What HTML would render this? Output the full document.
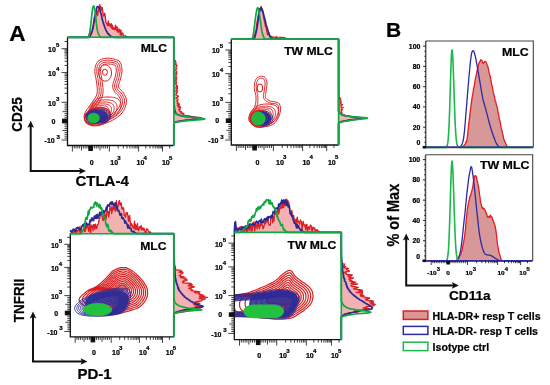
<!DOCTYPE html>
<html><head><meta charset="utf-8"><style>
html,body{margin:0;padding:0;background:#fff;}
svg{display:block;filter:blur(0.3px);}
text{stroke:#000;stroke-width:0.22px;}
</style></head><body>
<svg width="550" height="385" viewBox="0 0 550 385">
<rect width="550" height="385" fill="#fff"/>
<text x="0" y="0" transform="matrix(1.05,0,0,1,9.30,40.80)" font-size="21.5" text-anchor="start" font-family="Liberation Sans" font-weight="bold" >A</text>
<text x="0" y="0" font-size="21" font-family="Liberation Sans" font-weight="bold" transform="translate(386.1,36.8)">B</text>
<path d="M67.50,37.30 V145.50 H173.80" fill="none" stroke="#111" stroke-width="1.3"/>
<path d="M92.48,145.50v3 M88.78,145.50v3 M94.36,145.50v3 M86.96,145.50v3 M96.24,145.50v3 M85.14,145.50v3 M98.12,145.50v3 M83.32,145.50v3 M100.00,145.50v5 M81.50,145.50v5 M101.88,145.50v3 M79.68,145.50v3 M103.76,145.50v3 M77.86,145.50v3 M105.64,145.50v3 M76.04,145.50v3 M107.52,145.50v3 M74.22,145.50v3 M118.19,145.50v3 M123.33,145.50v3 M126.98,145.50v3 M129.81,145.50v3 M132.12,145.50v3 M134.08,145.50v3 M135.77,145.50v3 M137.26,145.50v3 M145.79,145.50v3 M150.00,145.50v3 M152.99,145.50v3 M155.31,145.50v3 M157.20,145.50v3 M158.80,145.50v3 M160.18,145.50v3 M161.41,145.50v3 M169.69,145.50v3 M72.40,145.50v6 M109.40,145.50v6 M138.60,145.50v6 M162.50,145.50v6 M67.50,119.13h-3 M67.50,122.90h-3 M67.50,117.26h-3 M67.50,124.80h-3 M67.50,115.39h-3 M67.50,126.70h-3 M67.50,113.52h-3 M67.50,128.60h-3 M67.50,111.65h-5 M67.50,130.50h-5 M67.50,109.78h-3 M67.50,132.40h-3 M67.50,107.91h-3 M67.50,134.30h-3 M67.50,106.04h-3 M67.50,136.20h-3 M67.50,104.17h-3 M67.50,138.10h-3 M67.50,93.36h-3 M67.50,88.13h-3 M67.50,84.42h-3 M67.50,81.54h-3 M67.50,79.19h-3 M67.50,77.20h-3 M67.50,75.48h-3 M67.50,73.96h-3 M67.50,65.41h-3 M67.50,61.20h-3 M67.50,58.21h-3 M67.50,55.89h-3 M67.50,54.00h-3 M67.50,52.40h-3 M67.50,51.02h-3 M67.50,49.79h-3 M67.50,41.51h-3 M67.50,140.00h-6 M67.50,102.30h-6 M67.50,72.60h-6 M67.50,48.70h-6" fill="none" stroke="#111" stroke-width="0.8"/>
<rect x="88.30" y="145.50" width="4.6" height="5.5" fill="#111"/>
<rect x="62.00" y="118.70" width="5.5" height="4.6" fill="#111"/>
<text x="0" y="0" transform="matrix(1.05,0,0,1,55.90,52.10)" font-size="6.7" text-anchor="end" font-family="Liberation Sans" font-weight="bold">10</text>
<text x="0" y="0" transform="matrix(1.05,0,0,1,55.90,47.10)" font-size="5.8" font-family="Liberation Sans" font-weight="bold">5</text>
<text x="0" y="0" transform="matrix(1.05,0,0,1,55.90,76.00)" font-size="6.7" text-anchor="end" font-family="Liberation Sans" font-weight="bold">10</text>
<text x="0" y="0" transform="matrix(1.05,0,0,1,55.90,71.00)" font-size="5.8" font-family="Liberation Sans" font-weight="bold">4</text>
<text x="0" y="0" transform="matrix(1.05,0,0,1,55.90,105.70)" font-size="6.7" text-anchor="end" font-family="Liberation Sans" font-weight="bold">10</text>
<text x="0" y="0" transform="matrix(1.05,0,0,1,55.90,100.70)" font-size="5.8" font-family="Liberation Sans" font-weight="bold">3</text>
<text x="0" y="0" transform="matrix(1.05,0,0,1,55.30,123.50)" font-size="6.7" text-anchor="end" font-family="Liberation Sans" font-weight="bold">0</text>
<text x="0" y="0" transform="matrix(1.05,0,0,1,54.70,143.20)" font-size="6.7" text-anchor="end" font-family="Liberation Sans" font-weight="bold">-10</text>
<text x="0" y="0" transform="matrix(1.05,0,0,1,56.50,138.80)" font-size="5.8" font-family="Liberation Sans" font-weight="bold">3</text>
<text x="0" y="0" transform="matrix(1.05,0,0,1,91.60,165.30)" font-size="6.7" text-anchor="middle" font-family="Liberation Sans" font-weight="bold">0</text>
<text x="0" y="0" transform="matrix(1.05,0,0,1,110.30,165.30)" font-size="6.7" font-family="Liberation Sans" font-weight="bold">10</text>
<text x="0" y="0" transform="matrix(1.05,0,0,1,117.30,159.90)" font-size="5.8" font-family="Liberation Sans" font-weight="bold">3</text>
<text x="0" y="0" transform="matrix(1.05,0,0,1,136.60,165.30)" font-size="6.7" font-family="Liberation Sans" font-weight="bold">10</text>
<text x="0" y="0" transform="matrix(1.05,0,0,1,143.60,159.90)" font-size="5.8" font-family="Liberation Sans" font-weight="bold">4</text>
<text x="0" y="0" transform="matrix(1.05,0,0,1,161.90,165.30)" font-size="6.7" font-family="Liberation Sans" font-weight="bold">10</text>
<text x="0" y="0" transform="matrix(1.05,0,0,1,168.90,159.90)" font-size="5.8" font-family="Liberation Sans" font-weight="bold">5</text>
<path d="M231.30,39.20 V145.00 H338.60" fill="none" stroke="#111" stroke-width="1.3"/>
<path d="M256.48,145.00v3 M252.78,145.00v3 M258.36,145.00v3 M250.96,145.00v3 M260.24,145.00v3 M249.14,145.00v3 M262.12,145.00v3 M247.32,145.00v3 M264.00,145.00v5 M245.50,145.00v5 M265.88,145.00v3 M243.68,145.00v3 M267.76,145.00v3 M241.86,145.00v3 M269.64,145.00v3 M240.04,145.00v3 M271.52,145.00v3 M238.22,145.00v3 M282.19,145.00v3 M287.33,145.00v3 M290.98,145.00v3 M293.81,145.00v3 M296.12,145.00v3 M298.08,145.00v3 M299.77,145.00v3 M301.26,145.00v3 M309.85,145.00v3 M314.10,145.00v3 M317.11,145.00v3 M319.45,145.00v3 M321.35,145.00v3 M322.97,145.00v3 M324.36,145.00v3 M325.60,145.00v3 M333.95,145.00v3 M236.40,145.00v6 M273.40,145.00v6 M302.60,145.00v6 M326.70,145.00v6 M231.30,118.87h-3 M231.30,122.63h-3 M231.30,117.04h-3 M231.30,124.56h-3 M231.30,115.21h-3 M231.30,126.49h-3 M231.30,113.38h-3 M231.30,128.42h-3 M231.30,111.55h-5 M231.30,130.35h-5 M231.30,109.72h-3 M231.30,132.28h-3 M231.30,107.89h-3 M231.30,134.21h-3 M231.30,106.06h-3 M231.30,136.14h-3 M231.30,104.23h-3 M231.30,138.07h-3 M231.30,93.76h-3 M231.30,88.71h-3 M231.30,85.12h-3 M231.30,82.34h-3 M231.30,80.07h-3 M231.30,78.15h-3 M231.30,76.48h-3 M231.30,75.01h-3 M231.30,66.57h-3 M231.30,62.39h-3 M231.30,59.43h-3 M231.30,57.13h-3 M231.30,55.26h-3 M231.30,53.67h-3 M231.30,52.30h-3 M231.30,51.08h-3 M231.30,42.87h-3 M231.30,140.00h-6 M231.30,102.40h-6 M231.30,73.70h-6 M231.30,50.00h-6" fill="none" stroke="#111" stroke-width="0.8"/>
<rect x="252.30" y="145.00" width="4.6" height="5.5" fill="#111"/>
<rect x="225.80" y="118.40" width="5.5" height="4.6" fill="#111"/>
<text x="0" y="0" transform="matrix(1.05,0,0,1,219.70,53.40)" font-size="6.7" text-anchor="end" font-family="Liberation Sans" font-weight="bold">10</text>
<text x="0" y="0" transform="matrix(1.05,0,0,1,219.70,48.40)" font-size="5.8" font-family="Liberation Sans" font-weight="bold">5</text>
<text x="0" y="0" transform="matrix(1.05,0,0,1,219.70,77.10)" font-size="6.7" text-anchor="end" font-family="Liberation Sans" font-weight="bold">10</text>
<text x="0" y="0" transform="matrix(1.05,0,0,1,219.70,72.10)" font-size="5.8" font-family="Liberation Sans" font-weight="bold">4</text>
<text x="0" y="0" transform="matrix(1.05,0,0,1,219.70,105.80)" font-size="6.7" text-anchor="end" font-family="Liberation Sans" font-weight="bold">10</text>
<text x="0" y="0" transform="matrix(1.05,0,0,1,219.70,100.80)" font-size="5.8" font-family="Liberation Sans" font-weight="bold">3</text>
<text x="0" y="0" transform="matrix(1.05,0,0,1,219.10,123.20)" font-size="6.7" text-anchor="end" font-family="Liberation Sans" font-weight="bold">0</text>
<text x="0" y="0" transform="matrix(1.05,0,0,1,218.50,143.20)" font-size="6.7" text-anchor="end" font-family="Liberation Sans" font-weight="bold">-10</text>
<text x="0" y="0" transform="matrix(1.05,0,0,1,220.30,138.80)" font-size="5.8" font-family="Liberation Sans" font-weight="bold">3</text>
<text x="0" y="0" transform="matrix(1.05,0,0,1,257.40,164.80)" font-size="6.7" text-anchor="middle" font-family="Liberation Sans" font-weight="bold">0</text>
<text x="0" y="0" transform="matrix(1.05,0,0,1,276.10,164.80)" font-size="6.7" font-family="Liberation Sans" font-weight="bold">10</text>
<text x="0" y="0" transform="matrix(1.05,0,0,1,283.10,159.40)" font-size="5.8" font-family="Liberation Sans" font-weight="bold">3</text>
<text x="0" y="0" transform="matrix(1.05,0,0,1,302.40,164.80)" font-size="6.7" font-family="Liberation Sans" font-weight="bold">10</text>
<text x="0" y="0" transform="matrix(1.05,0,0,1,309.40,159.40)" font-size="5.8" font-family="Liberation Sans" font-weight="bold">4</text>
<text x="0" y="0" transform="matrix(1.05,0,0,1,327.90,164.80)" font-size="6.7" font-family="Liberation Sans" font-weight="bold">10</text>
<text x="0" y="0" transform="matrix(1.05,0,0,1,334.90,159.40)" font-size="5.8" font-family="Liberation Sans" font-weight="bold">5</text>
<path d="M70.30,233.70 V336.90 H173.80" fill="none" stroke="#111" stroke-width="1.3"/>
<path d="M94.73,336.90v3 M91.13,336.90v3 M96.56,336.90v3 M89.36,336.90v3 M98.39,336.90v3 M87.59,336.90v3 M100.22,336.90v3 M85.82,336.90v3 M102.05,336.90v5 M84.05,336.90v5 M103.88,336.90v3 M82.28,336.90v3 M105.71,336.90v3 M80.51,336.90v3 M107.54,336.90v3 M78.74,336.90v3 M109.37,336.90v3 M76.97,336.90v3 M119.69,336.90v3 M124.65,336.90v3 M128.18,336.90v3 M130.91,336.90v3 M133.14,336.90v3 M135.03,336.90v3 M136.67,336.90v3 M138.11,336.90v3 M146.35,336.90v3 M150.42,336.90v3 M153.31,336.90v3 M155.55,336.90v3 M157.38,336.90v3 M158.92,336.90v3 M160.26,336.90v3 M161.44,336.90v3 M169.45,336.90v3 M75.20,336.90v6 M111.20,336.90v6 M139.40,336.90v6 M162.50,336.90v6 M70.30,311.26h-3 M70.30,314.85h-3 M70.30,309.52h-3 M70.30,316.70h-3 M70.30,307.78h-3 M70.30,318.55h-3 M70.30,306.04h-3 M70.30,320.40h-3 M70.30,304.30h-5 M70.30,322.25h-5 M70.30,302.56h-3 M70.30,324.10h-3 M70.30,300.82h-3 M70.30,325.95h-3 M70.30,299.08h-3 M70.30,327.80h-3 M70.30,297.34h-3 M70.30,329.65h-3 M70.30,287.11h-3 M70.30,282.15h-3 M70.30,278.62h-3 M70.30,275.89h-3 M70.30,273.66h-3 M70.30,271.77h-3 M70.30,270.13h-3 M70.30,268.69h-3 M70.30,260.45h-3 M70.30,256.38h-3 M70.30,253.49h-3 M70.30,251.25h-3 M70.30,249.42h-3 M70.30,247.88h-3 M70.30,246.54h-3 M70.30,245.36h-3 M70.30,237.35h-3 M70.30,331.50h-6 M70.30,295.60h-6 M70.30,267.40h-6 M70.30,244.30h-6" fill="none" stroke="#111" stroke-width="0.8"/>
<rect x="90.60" y="336.90" width="4.6" height="5.5" fill="#111"/>
<rect x="64.80" y="310.70" width="5.5" height="4.6" fill="#111"/>
<text x="0" y="0" transform="matrix(1.05,0,0,1,58.70,247.70)" font-size="6.7" text-anchor="end" font-family="Liberation Sans" font-weight="bold">10</text>
<text x="0" y="0" transform="matrix(1.05,0,0,1,58.70,242.70)" font-size="5.8" font-family="Liberation Sans" font-weight="bold">5</text>
<text x="0" y="0" transform="matrix(1.05,0,0,1,58.70,270.80)" font-size="6.7" text-anchor="end" font-family="Liberation Sans" font-weight="bold">10</text>
<text x="0" y="0" transform="matrix(1.05,0,0,1,58.70,265.80)" font-size="5.8" font-family="Liberation Sans" font-weight="bold">4</text>
<text x="0" y="0" transform="matrix(1.05,0,0,1,58.70,299.00)" font-size="6.7" text-anchor="end" font-family="Liberation Sans" font-weight="bold">10</text>
<text x="0" y="0" transform="matrix(1.05,0,0,1,58.70,294.00)" font-size="5.8" font-family="Liberation Sans" font-weight="bold">3</text>
<text x="0" y="0" transform="matrix(1.05,0,0,1,58.10,315.50)" font-size="6.7" text-anchor="end" font-family="Liberation Sans" font-weight="bold">0</text>
<text x="0" y="0" transform="matrix(1.05,0,0,1,57.50,334.70)" font-size="6.7" text-anchor="end" font-family="Liberation Sans" font-weight="bold">-10</text>
<text x="0" y="0" transform="matrix(1.05,0,0,1,59.30,330.30)" font-size="5.8" font-family="Liberation Sans" font-weight="bold">3</text>
<text x="0" y="0" transform="matrix(1.05,0,0,1,93.90,354.90)" font-size="6.7" text-anchor="middle" font-family="Liberation Sans" font-weight="bold">0</text>
<text x="0" y="0" transform="matrix(1.05,0,0,1,112.00,354.90)" font-size="6.7" font-family="Liberation Sans" font-weight="bold">10</text>
<text x="0" y="0" transform="matrix(1.05,0,0,1,119.00,349.50)" font-size="5.8" font-family="Liberation Sans" font-weight="bold">3</text>
<text x="0" y="0" transform="matrix(1.05,0,0,1,139.10,354.90)" font-size="6.7" font-family="Liberation Sans" font-weight="bold">10</text>
<text x="0" y="0" transform="matrix(1.05,0,0,1,146.10,349.50)" font-size="5.8" font-family="Liberation Sans" font-weight="bold">4</text>
<text x="0" y="0" transform="matrix(1.05,0,0,1,165.80,354.90)" font-size="6.7" font-family="Liberation Sans" font-weight="bold">10</text>
<text x="0" y="0" transform="matrix(1.05,0,0,1,172.80,349.50)" font-size="5.8" font-family="Liberation Sans" font-weight="bold">5</text>
<path d="M234.30,232.40 V339.60 H341.30" fill="none" stroke="#111" stroke-width="1.3"/>
<path d="M260.05,339.60v3 M256.33,339.60v3 M261.90,339.60v3 M254.46,339.60v3 M263.75,339.60v3 M252.59,339.60v3 M265.60,339.60v3 M250.72,339.60v3 M267.45,339.60v5 M248.85,339.60v5 M269.30,339.60v3 M246.98,339.60v3 M271.15,339.60v3 M245.11,339.60v3 M273.00,339.60v3 M243.24,339.60v3 M274.85,339.60v3 M241.37,339.60v3 M285.61,339.60v3 M290.82,339.60v3 M294.52,339.60v3 M297.39,339.60v3 M299.73,339.60v3 M301.71,339.60v3 M303.43,339.60v3 M304.95,339.60v3 M313.89,339.60v3 M318.32,339.60v3 M321.47,339.60v3 M323.91,339.60v3 M325.91,339.60v3 M327.60,339.60v3 M329.06,339.60v3 M330.35,339.60v3 M339.09,339.60v3 M239.50,339.60v6 M276.70,339.60v6 M306.30,339.60v6 M331.50,339.60v6 M234.30,312.70h-3 M234.30,316.48h-3 M234.30,310.80h-3 M234.30,318.36h-3 M234.30,308.90h-3 M234.30,320.24h-3 M234.30,307.00h-3 M234.30,322.12h-3 M234.30,305.10h-5 M234.30,324.00h-5 M234.30,303.20h-3 M234.30,325.88h-3 M234.30,301.30h-3 M234.30,327.76h-3 M234.30,299.40h-3 M234.30,329.64h-3 M234.30,297.50h-3 M234.30,331.52h-3 M234.30,286.96h-3 M234.30,281.91h-3 M234.30,278.32h-3 M234.30,275.54h-3 M234.30,273.27h-3 M234.30,271.35h-3 M234.30,269.68h-3 M234.30,268.21h-3 M234.30,259.74h-3 M234.30,255.54h-3 M234.30,252.57h-3 M234.30,250.26h-3 M234.30,248.38h-3 M234.30,246.79h-3 M234.30,245.41h-3 M234.30,244.19h-3 M234.30,235.94h-3 M234.30,333.40h-6 M234.30,295.60h-6 M234.30,266.90h-6 M234.30,243.10h-6" fill="none" stroke="#111" stroke-width="0.8"/>
<rect x="255.90" y="339.60" width="4.6" height="5.5" fill="#111"/>
<rect x="228.80" y="312.30" width="5.5" height="4.6" fill="#111"/>
<text x="0" y="0" transform="matrix(1.05,0,0,1,222.70,246.50)" font-size="6.7" text-anchor="end" font-family="Liberation Sans" font-weight="bold">10</text>
<text x="0" y="0" transform="matrix(1.05,0,0,1,222.70,241.50)" font-size="5.8" font-family="Liberation Sans" font-weight="bold">5</text>
<text x="0" y="0" transform="matrix(1.05,0,0,1,222.70,270.30)" font-size="6.7" text-anchor="end" font-family="Liberation Sans" font-weight="bold">10</text>
<text x="0" y="0" transform="matrix(1.05,0,0,1,222.70,265.30)" font-size="5.8" font-family="Liberation Sans" font-weight="bold">4</text>
<text x="0" y="0" transform="matrix(1.05,0,0,1,222.70,299.00)" font-size="6.7" text-anchor="end" font-family="Liberation Sans" font-weight="bold">10</text>
<text x="0" y="0" transform="matrix(1.05,0,0,1,222.70,294.00)" font-size="5.8" font-family="Liberation Sans" font-weight="bold">3</text>
<text x="0" y="0" transform="matrix(1.05,0,0,1,222.10,317.10)" font-size="6.7" text-anchor="end" font-family="Liberation Sans" font-weight="bold">0</text>
<text x="0" y="0" transform="matrix(1.05,0,0,1,221.50,336.60)" font-size="6.7" text-anchor="end" font-family="Liberation Sans" font-weight="bold">-10</text>
<text x="0" y="0" transform="matrix(1.05,0,0,1,223.30,332.20)" font-size="5.8" font-family="Liberation Sans" font-weight="bold">3</text>
<text x="0" y="0" transform="matrix(1.05,0,0,1,259.20,358.20)" font-size="6.7" text-anchor="middle" font-family="Liberation Sans" font-weight="bold">0</text>
<text x="0" y="0" transform="matrix(1.05,0,0,1,279.20,358.20)" font-size="6.7" font-family="Liberation Sans" font-weight="bold">10</text>
<text x="0" y="0" transform="matrix(1.05,0,0,1,286.20,352.80)" font-size="5.8" font-family="Liberation Sans" font-weight="bold">3</text>
<text x="0" y="0" transform="matrix(1.05,0,0,1,305.90,358.20)" font-size="6.7" font-family="Liberation Sans" font-weight="bold">10</text>
<text x="0" y="0" transform="matrix(1.05,0,0,1,312.90,352.80)" font-size="5.8" font-family="Liberation Sans" font-weight="bold">4</text>
<text x="0" y="0" transform="matrix(1.05,0,0,1,330.90,358.20)" font-size="6.7" font-family="Liberation Sans" font-weight="bold">10</text>
<text x="0" y="0" transform="matrix(1.05,0,0,1,337.90,352.80)" font-size="5.8" font-family="Liberation Sans" font-weight="bold">5</text>
<path d="M67.50,37.30 L68.10,37.30 L68.70,37.30 L69.30,37.30 L69.90,37.30 L70.50,37.30 L71.10,37.30 L71.70,37.30 L72.30,37.30 L72.90,37.30 L73.50,37.30 L74.10,37.30 L74.70,37.30 L75.30,37.30 L75.90,37.30 L76.50,37.30 L77.10,37.30 L77.70,37.30 L78.30,37.30 L78.90,37.30 L79.50,37.30 L80.10,37.30 L80.70,37.30 L81.30,37.30 L81.90,37.30 L82.50,37.30 L83.10,37.30 L83.70,37.30 L84.30,37.30 L84.90,37.30 L85.50,37.30 L86.10,37.30 L86.70,37.22 L87.30,36.89 L87.90,36.69 L88.50,36.58 L89.10,34.69 L89.70,33.66 L90.30,33.02 L90.90,31.95 L91.50,32.97 L92.10,31.89 L92.70,29.61 L93.30,29.12 L93.90,21.95 L94.50,21.99 L95.10,16.31 L95.70,17.16 L96.30,11.47 L96.90,10.95 L97.50,15.57 L98.10,12.84 L98.70,6.77 L99.30,8.86 L99.90,4.52 L100.50,8.13 L101.10,10.32 L101.70,7.22 L102.30,7.64 L102.90,12.96 L103.50,15.94 L104.10,15.77 L104.70,13.10 L105.30,16.33 L105.90,22.46 L106.50,22.88 L107.10,24.80 L107.70,25.69 L108.30,20.97 L108.90,25.73 L109.50,23.56 L110.10,24.80 L110.70,27.05 L111.30,23.72 L111.90,28.39 L112.50,25.26 L113.10,29.41 L113.70,27.73 L114.30,29.62 L114.90,29.66 L115.50,25.19 L116.10,26.83 L116.70,30.81 L117.30,27.22 L117.90,32.40 L118.50,31.59 L119.10,28.87 L119.70,30.87 L120.30,35.12 L120.90,29.78 L121.50,34.90 L122.10,34.92 L122.70,32.91 L123.30,35.19 L123.90,35.60 L124.50,36.49 L125.10,36.59 L125.70,35.78 L126.30,36.61 L126.90,36.54 L127.50,37.03 L128.10,37.20 L128.70,37.30 L129.30,37.30 L129.90,37.30 L130.50,37.30 L131.10,37.30 L131.70,37.30 L132.30,37.30 L132.90,37.30 L133.50,37.30 L134.10,37.30 L134.70,37.30 L135.30,37.30 L135.90,37.30 L136.50,37.30 L137.10,37.30 L137.70,37.30 L138.30,37.30 L138.90,37.30 L139.50,37.30 L140.10,37.30 L140.70,37.30 L141.30,37.30 L141.90,37.30 L142.50,37.30 L143.10,37.30 L143.70,37.30 L144.30,37.30 L144.90,37.30 L145.50,37.30 L146.10,37.30 L146.70,37.30 L147.30,37.30 L147.90,37.30 L148.50,37.30 L149.10,37.30 L149.70,37.30 L150.30,37.30 L150.90,37.30 L151.50,37.30 L152.10,37.30 L152.70,37.30 L153.30,37.30 L153.90,37.30 L154.50,37.30 L155.10,37.30 L155.70,37.30 L156.30,37.30 L156.90,37.30 L157.50,37.30 L158.10,37.30 L158.70,37.30 L159.30,37.30 L159.90,37.30 L160.50,37.30 L161.10,37.30 L161.70,37.30 L162.30,37.30 L162.90,37.30 L163.50,37.30 L164.10,37.30 L164.70,37.30 L165.30,37.30 L165.90,37.30 L166.50,37.30 L167.10,37.30 L167.70,37.30 L168.30,37.30 L168.90,37.30 L169.50,37.30 L170.10,37.30 L170.70,37.30 L171.30,37.30 L171.90,37.30 L172.50,37.30 L173.10,37.30 L173.70,37.30 L173.70,37.30 L67.50,37.30 Z" fill="#f3b1b1" stroke="none"/>
<path d="M67.50,37.30 L68.10,37.30 L68.70,37.30 L69.30,37.30 L69.90,37.30 L70.50,37.30 L71.10,37.30 L71.70,37.30 L72.30,37.30 L72.90,37.30 L73.50,37.30 L74.10,37.30 L74.70,37.30 L75.30,37.30 L75.90,37.30 L76.50,37.30 L77.10,37.30 L77.70,37.30 L78.30,37.30 L78.90,37.30 L79.50,37.30 L80.10,37.30 L80.70,37.30 L81.30,37.30 L81.90,37.30 L82.50,37.30 L83.10,37.30 L83.70,37.30 L84.30,37.30 L84.90,37.30 L85.50,37.30 L86.10,37.30 L86.70,37.22 L87.30,36.89 L87.90,36.69 L88.50,36.58 L89.10,34.69 L89.70,33.66 L90.30,33.02 L90.90,31.95 L91.50,32.97 L92.10,31.89 L92.70,29.61 L93.30,29.12 L93.90,21.95 L94.50,21.99 L95.10,16.31 L95.70,17.16 L96.30,11.47 L96.90,10.95 L97.50,15.57 L98.10,12.84 L98.70,6.77 L99.30,8.86 L99.90,4.52 L100.50,8.13 L101.10,10.32 L101.70,7.22 L102.30,7.64 L102.90,12.96 L103.50,15.94 L104.10,15.77 L104.70,13.10 L105.30,16.33 L105.90,22.46 L106.50,22.88 L107.10,24.80 L107.70,25.69 L108.30,20.97 L108.90,25.73 L109.50,23.56 L110.10,24.80 L110.70,27.05 L111.30,23.72 L111.90,28.39 L112.50,25.26 L113.10,29.41 L113.70,27.73 L114.30,29.62 L114.90,29.66 L115.50,25.19 L116.10,26.83 L116.70,30.81 L117.30,27.22 L117.90,32.40 L118.50,31.59 L119.10,28.87 L119.70,30.87 L120.30,35.12 L120.90,29.78 L121.50,34.90 L122.10,34.92 L122.70,32.91 L123.30,35.19 L123.90,35.60 L124.50,36.49 L125.10,36.59 L125.70,35.78 L126.30,36.61 L126.90,36.54 L127.50,37.03 L128.10,37.20 L128.70,37.30 L129.30,37.30 L129.90,37.30 L130.50,37.30 L131.10,37.30 L131.70,37.30 L132.30,37.30 L132.90,37.30 L133.50,37.30 L134.10,37.30 L134.70,37.30 L135.30,37.30 L135.90,37.30 L136.50,37.30 L137.10,37.30 L137.70,37.30 L138.30,37.30 L138.90,37.30 L139.50,37.30 L140.10,37.30 L140.70,37.30 L141.30,37.30 L141.90,37.30 L142.50,37.30 L143.10,37.30 L143.70,37.30 L144.30,37.30 L144.90,37.30 L145.50,37.30 L146.10,37.30 L146.70,37.30 L147.30,37.30 L147.90,37.30 L148.50,37.30 L149.10,37.30 L149.70,37.30 L150.30,37.30 L150.90,37.30 L151.50,37.30 L152.10,37.30 L152.70,37.30 L153.30,37.30 L153.90,37.30 L154.50,37.30 L155.10,37.30 L155.70,37.30 L156.30,37.30 L156.90,37.30 L157.50,37.30 L158.10,37.30 L158.70,37.30 L159.30,37.30 L159.90,37.30 L160.50,37.30 L161.10,37.30 L161.70,37.30 L162.30,37.30 L162.90,37.30 L163.50,37.30 L164.10,37.30 L164.70,37.30 L165.30,37.30 L165.90,37.30 L166.50,37.30 L167.10,37.30 L167.70,37.30 L168.30,37.30 L168.90,37.30 L169.50,37.30 L170.10,37.30 L170.70,37.30 L171.30,37.30 L171.90,37.30 L172.50,37.30 L173.10,37.30 L173.70,37.30" fill="none" stroke="#dc1f22" stroke-width="1.3" stroke-linejoin="round"/>
<path d="M67.50,37.30 L68.10,37.30 L68.70,37.30 L69.30,37.30 L69.90,37.30 L70.50,37.30 L71.10,37.30 L71.70,37.30 L72.30,37.30 L72.90,37.30 L73.50,37.30 L74.10,37.30 L74.70,37.30 L75.30,37.30 L75.90,37.30 L76.50,37.30 L77.10,37.30 L77.70,37.30 L78.30,37.30 L78.90,37.30 L79.50,37.30 L80.10,37.30 L80.70,37.30 L81.30,37.30 L81.90,37.30 L82.50,37.30 L83.10,37.30 L83.70,37.30 L84.30,37.30 L84.90,37.30 L85.50,37.30 L86.10,37.30 L86.70,37.30 L87.30,37.30 L87.90,37.30 L88.50,37.30 L89.10,37.30 L89.70,36.74 L90.30,35.75 L90.90,34.40 L91.50,32.98 L92.10,30.99 L92.70,27.87 L93.30,25.36 L93.90,21.00 L94.50,17.47 L95.10,15.24 L95.70,11.78 L96.30,10.14 L96.90,7.35 L97.50,6.48 L98.10,6.56 L98.70,6.92 L99.30,7.63 L99.90,10.02 L100.50,12.15 L101.10,13.99 L101.70,16.39 L102.30,19.91 L102.90,21.37 L103.50,23.61 L104.10,25.07 L104.70,27.09 L105.30,28.21 L105.90,30.19 L106.50,31.04 L107.10,31.96 L107.70,33.63 L108.30,33.60 L108.90,34.37 L109.50,35.25 L110.10,35.49 L110.70,36.00 L111.30,36.41 L111.90,36.75 L112.50,36.95 L113.10,37.07 L113.70,37.18 L114.30,37.23 L114.90,37.29 L115.50,37.30 L116.10,37.30 L116.70,37.30 L117.30,37.30 L117.90,37.30 L118.50,37.30 L119.10,37.30 L119.70,37.30 L120.30,37.30 L120.90,37.30 L121.50,37.30 L122.10,37.30 L122.70,37.30 L123.30,37.30 L123.90,37.30 L124.50,37.30 L125.10,37.30 L125.70,37.30 L126.30,37.30 L126.90,37.30 L127.50,37.30 L128.10,37.30 L128.70,37.30 L129.30,37.30 L129.90,37.30 L130.50,37.30 L131.10,37.30 L131.70,37.30 L132.30,37.30 L132.90,37.30 L133.50,37.30 L134.10,37.30 L134.70,37.30 L135.30,37.30 L135.90,37.30 L136.50,37.30 L137.10,37.30 L137.70,37.30 L138.30,37.30 L138.90,37.30 L139.50,37.30 L140.10,37.30 L140.70,37.30 L141.30,37.30 L141.90,37.30 L142.50,37.30 L143.10,37.30 L143.70,37.30 L144.30,37.30 L144.90,37.30 L145.50,37.30 L146.10,37.30 L146.70,37.30 L147.30,37.30 L147.90,37.30 L148.50,37.30 L149.10,37.30 L149.70,37.30 L150.30,37.30 L150.90,37.30 L151.50,37.30 L152.10,37.30 L152.70,37.30 L153.30,37.30 L153.90,37.30 L154.50,37.30 L155.10,37.30 L155.70,37.30 L156.30,37.30 L156.90,37.30 L157.50,37.30 L158.10,37.30 L158.70,37.30 L159.30,37.30 L159.90,37.30 L160.50,37.30 L161.10,37.30 L161.70,37.30 L162.30,37.30 L162.90,37.30 L163.50,37.30 L164.10,37.30 L164.70,37.30 L165.30,37.30 L165.90,37.30 L166.50,37.30 L167.10,37.30 L167.70,37.30 L168.30,37.30 L168.90,37.30 L169.50,37.30 L170.10,37.30 L170.70,37.30 L171.30,37.30 L171.90,37.30 L172.50,37.30 L173.10,37.30 L173.70,37.30" fill="none" stroke="#2a2a96" stroke-width="1.7" stroke-linejoin="round"/>
<path d="M67.50,37.30 L68.10,37.30 L68.70,37.30 L69.30,37.30 L69.90,37.30 L70.50,37.30 L71.10,37.30 L71.70,37.30 L72.30,37.30 L72.90,37.30 L73.50,37.30 L74.10,37.30 L74.70,37.30 L75.30,37.30 L75.90,37.30 L76.50,37.30 L77.10,37.30 L77.70,37.30 L78.30,37.30 L78.90,37.30 L79.50,37.30 L80.10,37.30 L80.70,37.30 L81.30,37.30 L81.90,37.30 L82.50,37.30 L83.10,37.30 L83.70,37.30 L84.30,37.30 L84.90,37.30 L85.50,37.30 L86.10,37.30 L86.70,37.30 L87.30,37.30 L87.90,37.30 L88.50,37.08 L89.10,35.15 L89.70,32.82 L90.30,28.32 L90.90,23.94 L91.50,17.96 L92.10,12.13 L92.70,8.23 L93.30,6.27 L93.90,5.93 L94.50,8.16 L95.10,11.69 L95.70,16.49 L96.30,23.20 L96.90,28.00 L97.50,30.91 L98.10,32.97 L98.70,34.41 L99.30,35.53 L99.90,36.51 L100.50,37.19 L101.10,37.28 L101.70,37.30 L102.30,37.30 L102.90,37.30 L103.50,37.30 L104.10,37.30 L104.70,37.30 L105.30,37.30 L105.90,37.30 L106.50,37.30 L107.10,37.30 L107.70,37.30 L108.30,37.30 L108.90,37.30 L109.50,37.30 L110.10,37.30 L110.70,37.30 L111.30,37.30 L111.90,37.30 L112.50,37.30 L113.10,37.30 L113.70,37.30 L114.30,37.30 L114.90,37.30 L115.50,37.30 L116.10,37.30 L116.70,37.30 L117.30,37.30 L117.90,37.30 L118.50,37.30 L119.10,37.30 L119.70,37.30 L120.30,37.30 L120.90,37.30 L121.50,37.30 L122.10,37.30 L122.70,37.30 L123.30,37.30 L123.90,37.30 L124.50,37.30 L125.10,37.30 L125.70,37.30 L126.30,37.30 L126.90,37.30 L127.50,37.30 L128.10,37.30 L128.70,37.30 L129.30,37.30 L129.90,37.30 L130.50,37.30 L131.10,37.30 L131.70,37.30 L132.30,37.30 L132.90,37.30 L133.50,37.30 L134.10,37.30 L134.70,37.30 L135.30,37.30 L135.90,37.30 L136.50,37.30 L137.10,37.30 L137.70,37.30 L138.30,37.30 L138.90,37.30 L139.50,37.30 L140.10,37.30 L140.70,37.30 L141.30,37.30 L141.90,37.30 L142.50,37.30 L143.10,37.30 L143.70,37.30 L144.30,37.30 L144.90,37.30 L145.50,37.30 L146.10,37.30 L146.70,37.30 L147.30,37.30 L147.90,37.30 L148.50,37.30 L149.10,37.30 L149.70,37.30 L150.30,37.30 L150.90,37.30 L151.50,37.30 L152.10,37.30 L152.70,37.30 L153.30,37.30 L153.90,37.30 L154.50,37.30 L155.10,37.30 L155.70,37.30 L156.30,37.30 L156.90,37.30 L157.50,37.30 L158.10,37.30 L158.70,37.30 L159.30,37.30 L159.90,37.30 L160.50,37.30 L161.10,37.30 L161.70,37.30 L162.30,37.30 L162.90,37.30 L163.50,37.30 L164.10,37.30 L164.70,37.30 L165.30,37.30 L165.90,37.30 L166.50,37.30 L167.10,37.30 L167.70,37.30 L168.30,37.30 L168.90,37.30 L169.50,37.30 L170.10,37.30 L170.70,37.30 L171.30,37.30 L171.90,37.30 L172.50,37.30 L173.10,37.30 L173.70,37.30" fill="none" stroke="#12a840" stroke-width="1.7" stroke-linejoin="round"/>
<path d="M173.80,37.30 L173.80,37.90 L173.80,38.50 L173.80,39.10 L173.80,39.70 L173.80,40.30 L173.80,40.90 L173.80,41.50 L173.80,42.10 L173.80,42.70 L173.80,43.30 L173.80,43.90 L173.80,44.50 L173.80,45.10 L173.80,45.70 L173.80,46.30 L173.80,46.90 L173.80,47.50 L173.80,48.10 L173.80,48.70 L173.80,49.30 L173.80,49.90 L173.80,50.50 L173.80,51.10 L173.80,51.70 L173.80,52.30 L173.80,52.90 L173.80,53.50 L173.80,54.10 L173.80,54.70 L173.80,55.30 L173.80,55.90 L173.80,56.50 L173.80,57.10 L173.80,57.70 L173.87,58.30 L174.19,58.90 L174.25,59.50 L174.59,60.10 L175.51,60.70 L175.39,61.30 L175.65,61.90 L176.02,62.50 L175.91,63.10 L175.83,63.70 L175.30,64.30 L176.49,64.90 L176.94,65.50 L177.00,66.10 L176.49,66.70 L175.97,67.30 L176.00,67.90 L176.60,68.50 L176.58,69.10 L175.60,69.70 L175.83,70.30 L176.07,70.90 L176.34,71.50 L176.89,72.10 L176.32,72.70 L175.46,73.30 L176.90,73.90 L176.18,74.50 L176.33,75.10 L175.79,75.70 L176.15,76.30 L176.08,76.90 L176.76,77.50 L175.57,78.10 L176.37,78.70 L175.71,79.30 L176.65,79.90 L175.48,80.50 L175.93,81.10 L176.07,81.70 L176.64,82.30 L175.57,82.90 L176.36,83.50 L175.91,84.10 L176.08,84.70 L176.49,85.30 L177.49,85.90 L176.57,86.50 L177.57,87.10 L175.99,87.70 L177.60,88.30 L176.45,88.90 L176.11,89.50 L177.34,90.10 L177.73,90.70 L175.77,91.30 L176.37,91.90 L177.52,92.50 L176.58,93.10 L176.37,93.70 L175.86,94.30 L175.95,94.90 L177.32,95.50 L178.21,96.10 L178.28,96.70 L177.14,97.30 L176.01,97.90 L176.76,98.50 L177.95,99.10 L178.11,99.70 L177.70,100.30 L176.73,100.90 L177.62,101.50 L177.60,102.10 L178.14,102.70 L177.20,103.30 L179.40,103.90 L179.42,104.50 L177.22,105.10 L177.78,105.70 L179.94,106.30 L178.01,106.90 L180.59,107.50 L179.23,108.10 L180.07,108.70 L180.30,109.30 L178.74,109.90 L179.31,110.50 L179.53,111.10 L181.43,111.70 L181.88,112.30 L180.38,112.90 L183.80,113.50 L182.92,114.10 L183.22,114.70 L185.11,115.30 L189.42,115.90 L191.35,116.50 L194.99,117.10 L200.60,117.70 L200.82,118.30 L196.90,118.90 L191.50,119.50 L187.27,120.10 L183.26,120.70 L179.22,121.30 L176.31,121.90 L174.69,122.50 L174.04,123.10 L173.88,123.70 L173.80,124.30 L173.80,124.90 L173.80,125.50 L173.80,126.10 L173.80,126.70 L173.80,127.30 L173.80,127.90 L173.80,128.50 L173.80,129.10 L173.80,129.70 L173.80,130.30 L173.80,130.90 L173.80,131.50 L173.80,132.10 L173.80,132.70 L173.80,133.30 L173.80,133.90 L173.80,134.50 L173.80,135.10 L173.80,135.70 L173.80,136.30 L173.80,136.90 L173.80,137.50 L173.80,138.10 L173.80,138.70 L173.80,139.30 L173.80,139.90 L173.80,140.50 L173.80,141.10 L173.80,141.70 L173.80,142.30 L173.80,142.90 L173.80,143.50 L173.80,144.10 L173.80,144.70 L173.80,145.30 L173.80,145.30 L173.80,37.30 Z" fill="#f3b1b1" stroke="none"/>
<path d="M173.80,37.30 L173.80,37.90 L173.80,38.50 L173.80,39.10 L173.80,39.70 L173.80,40.30 L173.80,40.90 L173.80,41.50 L173.80,42.10 L173.80,42.70 L173.80,43.30 L173.80,43.90 L173.80,44.50 L173.80,45.10 L173.80,45.70 L173.80,46.30 L173.80,46.90 L173.80,47.50 L173.80,48.10 L173.80,48.70 L173.80,49.30 L173.80,49.90 L173.80,50.50 L173.80,51.10 L173.80,51.70 L173.80,52.30 L173.80,52.90 L173.80,53.50 L173.80,54.10 L173.80,54.70 L173.80,55.30 L173.80,55.90 L173.80,56.50 L173.80,57.10 L173.80,57.70 L173.87,58.30 L174.19,58.90 L174.25,59.50 L174.59,60.10 L175.51,60.70 L175.39,61.30 L175.65,61.90 L176.02,62.50 L175.91,63.10 L175.83,63.70 L175.30,64.30 L176.49,64.90 L176.94,65.50 L177.00,66.10 L176.49,66.70 L175.97,67.30 L176.00,67.90 L176.60,68.50 L176.58,69.10 L175.60,69.70 L175.83,70.30 L176.07,70.90 L176.34,71.50 L176.89,72.10 L176.32,72.70 L175.46,73.30 L176.90,73.90 L176.18,74.50 L176.33,75.10 L175.79,75.70 L176.15,76.30 L176.08,76.90 L176.76,77.50 L175.57,78.10 L176.37,78.70 L175.71,79.30 L176.65,79.90 L175.48,80.50 L175.93,81.10 L176.07,81.70 L176.64,82.30 L175.57,82.90 L176.36,83.50 L175.91,84.10 L176.08,84.70 L176.49,85.30 L177.49,85.90 L176.57,86.50 L177.57,87.10 L175.99,87.70 L177.60,88.30 L176.45,88.90 L176.11,89.50 L177.34,90.10 L177.73,90.70 L175.77,91.30 L176.37,91.90 L177.52,92.50 L176.58,93.10 L176.37,93.70 L175.86,94.30 L175.95,94.90 L177.32,95.50 L178.21,96.10 L178.28,96.70 L177.14,97.30 L176.01,97.90 L176.76,98.50 L177.95,99.10 L178.11,99.70 L177.70,100.30 L176.73,100.90 L177.62,101.50 L177.60,102.10 L178.14,102.70 L177.20,103.30 L179.40,103.90 L179.42,104.50 L177.22,105.10 L177.78,105.70 L179.94,106.30 L178.01,106.90 L180.59,107.50 L179.23,108.10 L180.07,108.70 L180.30,109.30 L178.74,109.90 L179.31,110.50 L179.53,111.10 L181.43,111.70 L181.88,112.30 L180.38,112.90 L183.80,113.50 L182.92,114.10 L183.22,114.70 L185.11,115.30 L189.42,115.90 L191.35,116.50 L194.99,117.10 L200.60,117.70 L200.82,118.30 L196.90,118.90 L191.50,119.50 L187.27,120.10 L183.26,120.70 L179.22,121.30 L176.31,121.90 L174.69,122.50 L174.04,123.10 L173.88,123.70 L173.80,124.30 L173.80,124.90 L173.80,125.50 L173.80,126.10 L173.80,126.70 L173.80,127.30 L173.80,127.90 L173.80,128.50 L173.80,129.10 L173.80,129.70 L173.80,130.30 L173.80,130.90 L173.80,131.50 L173.80,132.10 L173.80,132.70 L173.80,133.30 L173.80,133.90 L173.80,134.50 L173.80,135.10 L173.80,135.70 L173.80,136.30 L173.80,136.90 L173.80,137.50 L173.80,138.10 L173.80,138.70 L173.80,139.30 L173.80,139.90 L173.80,140.50 L173.80,141.10 L173.80,141.70 L173.80,142.30 L173.80,142.90 L173.80,143.50 L173.80,144.10 L173.80,144.70 L173.80,145.30" fill="none" stroke="#dc1f22" stroke-width="1.3" stroke-linejoin="round"/>
<path d="M173.80,37.30 L173.80,37.90 L173.80,38.50 L173.80,39.10 L173.80,39.70 L173.80,40.30 L173.80,40.90 L173.80,41.50 L173.80,42.10 L173.80,42.70 L173.80,43.30 L173.80,43.90 L173.80,44.50 L173.80,45.10 L173.80,45.70 L173.80,46.30 L173.80,46.90 L173.80,47.50 L173.80,48.10 L173.80,48.70 L173.80,49.30 L173.80,49.90 L173.80,50.50 L173.80,51.10 L173.80,51.70 L173.80,52.30 L173.80,52.90 L173.80,53.50 L173.80,54.10 L173.80,54.70 L173.80,55.30 L173.80,55.90 L173.80,56.50 L173.80,57.10 L173.80,57.70 L173.80,58.30 L173.80,58.90 L173.80,59.50 L173.80,60.10 L173.80,60.70 L173.80,61.30 L173.80,61.90 L173.80,62.50 L173.80,63.10 L173.80,63.70 L173.80,64.30 L173.80,64.90 L173.80,65.50 L173.80,66.10 L173.80,66.70 L173.80,67.30 L173.80,67.90 L173.80,68.50 L173.80,69.10 L173.80,69.70 L173.80,70.30 L173.80,70.90 L173.80,71.50 L173.80,72.10 L173.80,72.70 L173.80,73.30 L173.80,73.90 L173.80,74.50 L173.80,75.10 L173.80,75.70 L173.80,76.30 L173.80,76.90 L173.80,77.50 L173.80,78.10 L173.80,78.70 L173.80,79.30 L173.80,79.90 L173.80,80.50 L173.80,81.10 L173.80,81.70 L173.80,82.30 L173.80,82.90 L173.80,83.50 L173.80,84.10 L173.80,84.70 L173.80,85.30 L173.80,85.90 L173.80,86.50 L173.80,87.10 L173.80,87.70 L173.80,88.30 L173.80,88.90 L173.80,89.50 L173.80,90.10 L173.80,90.70 L173.80,91.30 L173.80,91.90 L173.80,92.50 L173.80,93.10 L173.80,93.70 L173.80,94.30 L173.80,94.90 L173.80,95.50 L173.80,96.10 L173.80,96.70 L173.80,97.30 L173.80,97.90 L173.80,98.50 L173.80,99.10 L173.80,99.70 L173.82,100.30 L173.85,100.90 L173.89,101.50 L173.93,102.10 L173.97,102.70 L174.01,103.30 L174.08,103.90 L174.13,104.50 L174.18,105.10 L174.25,105.70 L174.30,106.30 L174.41,106.90 L174.44,107.50 L174.51,108.10 L174.63,108.70 L174.70,109.30 L174.76,109.90 L174.91,110.50 L175.13,111.10 L175.30,111.70 L175.56,112.30 L175.90,112.90 L176.24,113.50 L176.81,114.10 L177.86,114.70 L179.46,115.30 L181.51,115.90 L183.94,116.50 L190.39,117.10 L197.48,117.70 L201.62,118.30 L199.55,118.90 L193.37,119.50 L187.95,120.10 L183.33,120.70 L178.65,121.30 L176.25,121.90 L174.55,122.50 L173.80,123.10 L173.80,123.70 L173.80,124.30 L173.80,124.90 L173.80,125.50 L173.80,126.10 L173.80,126.70 L173.80,127.30 L173.80,127.90 L173.80,128.50 L173.80,129.10 L173.80,129.70 L173.80,130.30 L173.80,130.90 L173.80,131.50 L173.80,132.10 L173.80,132.70 L173.80,133.30 L173.80,133.90 L173.80,134.50 L173.80,135.10 L173.80,135.70 L173.80,136.30 L173.80,136.90 L173.80,137.50 L173.80,138.10 L173.80,138.70 L173.80,139.30 L173.80,139.90 L173.80,140.50 L173.80,141.10 L173.80,141.70 L173.80,142.30 L173.80,142.90 L173.80,143.50 L173.80,144.10 L173.80,144.70 L173.80,145.30" fill="none" stroke="#2a2a96" stroke-width="1.7" stroke-linejoin="round"/>
<path d="M173.80,37.30 L173.80,37.90 L173.80,38.50 L173.80,39.10 L173.80,39.70 L173.80,40.30 L173.80,40.90 L173.80,41.50 L173.80,42.10 L173.80,42.70 L173.80,43.30 L173.80,43.90 L173.80,44.50 L173.80,45.10 L173.80,45.70 L173.80,46.30 L173.80,46.90 L173.80,47.50 L173.80,48.10 L173.80,48.70 L173.80,49.30 L173.80,49.90 L173.80,50.50 L173.80,51.10 L173.80,51.70 L173.80,52.30 L173.80,52.90 L173.80,53.50 L173.80,54.10 L173.80,54.70 L173.80,55.30 L173.80,55.90 L173.80,56.50 L173.80,57.10 L173.80,57.70 L173.80,58.30 L173.80,58.90 L173.80,59.50 L173.80,60.10 L173.80,60.70 L173.80,61.30 L173.80,61.90 L173.80,62.50 L173.80,63.10 L173.80,63.70 L173.80,64.30 L173.80,64.90 L173.80,65.50 L173.80,66.10 L173.80,66.70 L173.80,67.30 L173.80,67.90 L173.80,68.50 L173.80,69.10 L173.80,69.70 L173.80,70.30 L173.80,70.90 L173.80,71.50 L173.80,72.10 L173.80,72.70 L173.80,73.30 L173.80,73.90 L173.80,74.50 L173.80,75.10 L173.80,75.70 L173.80,76.30 L173.80,76.90 L173.80,77.50 L173.80,78.10 L173.80,78.70 L173.80,79.30 L173.80,79.90 L173.80,80.50 L173.80,81.10 L173.80,81.70 L173.80,82.30 L173.80,82.90 L173.80,83.50 L173.80,84.10 L173.80,84.70 L173.80,85.30 L173.80,85.90 L173.80,86.50 L173.80,87.10 L173.80,87.70 L173.80,88.30 L173.80,88.90 L173.80,89.50 L173.80,90.10 L173.80,90.70 L173.80,91.30 L173.80,91.90 L173.80,92.50 L173.80,93.10 L173.80,93.70 L173.80,94.30 L173.80,94.90 L173.80,95.50 L173.80,96.10 L173.80,96.70 L173.80,97.30 L173.80,97.90 L173.80,98.50 L173.80,99.10 L173.80,99.70 L173.80,100.30 L173.80,100.90 L173.80,101.50 L173.80,102.10 L173.80,102.70 L173.80,103.30 L173.80,103.90 L173.80,104.50 L173.80,105.10 L173.80,105.70 L173.80,106.30 L173.80,106.90 L173.80,107.50 L173.81,108.10 L173.83,108.70 L173.85,109.30 L173.89,109.90 L173.94,110.50 L174.04,111.10 L174.19,111.70 L174.48,112.30 L174.69,112.90 L175.11,113.50 L176.03,114.10 L177.88,114.70 L180.34,115.30 L183.19,115.90 L186.15,116.50 L189.58,117.10 L195.11,117.70 L200.97,118.30 L204.74,118.90 L203.05,119.50 L194.48,120.10 L186.80,120.70 L181.61,121.30 L177.27,121.90 L174.85,122.50 L173.98,123.10 L173.89,123.70 L173.80,124.30 L173.80,124.90 L173.80,125.50 L173.80,126.10 L173.80,126.70 L173.80,127.30 L173.80,127.90 L173.80,128.50 L173.80,129.10 L173.80,129.70 L173.80,130.30 L173.80,130.90 L173.80,131.50 L173.80,132.10 L173.80,132.70 L173.80,133.30 L173.80,133.90 L173.80,134.50 L173.80,135.10 L173.80,135.70 L173.80,136.30 L173.80,136.90 L173.80,137.50 L173.80,138.10 L173.80,138.70 L173.80,139.30 L173.80,139.90 L173.80,140.50 L173.80,141.10 L173.80,141.70 L173.80,142.30 L173.80,142.90 L173.80,143.50 L173.80,144.10 L173.80,144.70 L173.80,145.30" fill="none" stroke="#12a840" stroke-width="1.7" stroke-linejoin="round"/>
<path d="M231.30,39.20 L231.90,39.20 L232.50,39.20 L233.10,39.20 L233.70,39.20 L234.30,39.20 L234.90,39.20 L235.50,39.20 L236.10,39.20 L236.70,39.20 L237.30,39.20 L237.90,39.20 L238.50,39.20 L239.10,39.20 L239.70,39.20 L240.30,39.20 L240.90,39.20 L241.50,39.20 L242.10,39.20 L242.70,39.20 L243.30,39.20 L243.90,39.20 L244.50,39.20 L245.10,39.20 L245.70,39.20 L246.30,39.20 L246.90,39.20 L247.50,39.20 L248.10,39.20 L248.70,39.20 L249.30,39.20 L249.90,39.20 L250.50,39.20 L251.10,39.20 L251.70,39.20 L252.30,39.20 L252.90,39.20 L253.50,38.72 L254.10,36.00 L254.70,36.16 L255.30,31.57 L255.90,32.07 L256.50,25.08 L257.10,21.49 L257.70,18.07 L258.30,14.37 L258.90,12.12 L259.50,8.51 L260.10,9.64 L260.70,7.34 L261.30,6.37 L261.90,11.22 L262.50,9.93 L263.10,12.62 L263.70,17.56 L264.30,20.77 L264.90,23.45 L265.50,26.70 L266.10,26.00 L266.70,30.61 L267.30,33.86 L267.90,34.84 L268.50,32.89 L269.10,32.92 L269.70,35.85 L270.30,36.47 L270.90,36.69 L271.50,36.49 L272.10,37.71 L272.70,36.95 L273.30,37.05 L273.90,36.89 L274.50,37.81 L275.10,37.87 L275.70,37.57 L276.30,36.52 L276.90,37.64 L277.50,37.22 L278.10,37.77 L278.70,38.15 L279.30,38.24 L279.90,37.04 L280.50,37.19 L281.10,37.90 L281.70,37.52 L282.30,37.62 L282.90,37.44 L283.50,37.51 L284.10,38.24 L284.70,37.78 L285.30,37.96 L285.90,38.40 L286.50,38.33 L287.10,38.68 L287.70,38.83 L288.30,38.96 L288.90,38.88 L289.50,39.10 L290.10,39.15 L290.70,39.17 L291.30,39.20 L291.90,39.20 L292.50,39.20 L293.10,39.20 L293.70,39.20 L294.30,39.20 L294.90,39.20 L295.50,39.20 L296.10,39.20 L296.70,39.20 L297.30,39.20 L297.90,39.20 L298.50,39.20 L299.10,39.20 L299.70,39.20 L300.30,39.20 L300.90,39.20 L301.50,39.20 L302.10,39.20 L302.70,39.20 L303.30,39.20 L303.90,39.20 L304.50,39.20 L305.10,39.20 L305.70,39.20 L306.30,39.20 L306.90,39.20 L307.50,39.20 L308.10,39.20 L308.70,39.20 L309.30,39.20 L309.90,39.20 L310.50,39.20 L311.10,39.20 L311.70,39.20 L312.30,39.20 L312.90,39.20 L313.50,39.20 L314.10,39.20 L314.70,39.20 L315.30,39.20 L315.90,39.20 L316.50,39.20 L317.10,39.20 L317.70,39.20 L318.30,39.20 L318.90,39.20 L319.50,39.20 L320.10,39.20 L320.70,39.20 L321.30,39.20 L321.90,39.20 L322.50,39.20 L323.10,39.20 L323.70,39.20 L324.30,39.20 L324.90,39.20 L325.50,39.20 L326.10,39.20 L326.70,39.20 L327.30,39.20 L327.90,39.20 L328.50,39.20 L329.10,39.20 L329.70,39.20 L330.30,39.20 L330.90,39.20 L331.50,39.20 L332.10,39.20 L332.70,39.20 L333.30,39.20 L333.90,39.20 L334.50,39.20 L335.10,39.20 L335.70,39.20 L336.30,39.20 L336.90,39.20 L337.50,39.20 L338.10,39.20 L338.70,39.20 L338.70,39.20 L231.30,39.20 Z" fill="#f3b1b1" stroke="none"/>
<path d="M231.30,39.20 L231.90,39.20 L232.50,39.20 L233.10,39.20 L233.70,39.20 L234.30,39.20 L234.90,39.20 L235.50,39.20 L236.10,39.20 L236.70,39.20 L237.30,39.20 L237.90,39.20 L238.50,39.20 L239.10,39.20 L239.70,39.20 L240.30,39.20 L240.90,39.20 L241.50,39.20 L242.10,39.20 L242.70,39.20 L243.30,39.20 L243.90,39.20 L244.50,39.20 L245.10,39.20 L245.70,39.20 L246.30,39.20 L246.90,39.20 L247.50,39.20 L248.10,39.20 L248.70,39.20 L249.30,39.20 L249.90,39.20 L250.50,39.20 L251.10,39.20 L251.70,39.20 L252.30,39.20 L252.90,39.20 L253.50,38.72 L254.10,36.00 L254.70,36.16 L255.30,31.57 L255.90,32.07 L256.50,25.08 L257.10,21.49 L257.70,18.07 L258.30,14.37 L258.90,12.12 L259.50,8.51 L260.10,9.64 L260.70,7.34 L261.30,6.37 L261.90,11.22 L262.50,9.93 L263.10,12.62 L263.70,17.56 L264.30,20.77 L264.90,23.45 L265.50,26.70 L266.10,26.00 L266.70,30.61 L267.30,33.86 L267.90,34.84 L268.50,32.89 L269.10,32.92 L269.70,35.85 L270.30,36.47 L270.90,36.69 L271.50,36.49 L272.10,37.71 L272.70,36.95 L273.30,37.05 L273.90,36.89 L274.50,37.81 L275.10,37.87 L275.70,37.57 L276.30,36.52 L276.90,37.64 L277.50,37.22 L278.10,37.77 L278.70,38.15 L279.30,38.24 L279.90,37.04 L280.50,37.19 L281.10,37.90 L281.70,37.52 L282.30,37.62 L282.90,37.44 L283.50,37.51 L284.10,38.24 L284.70,37.78 L285.30,37.96 L285.90,38.40 L286.50,38.33 L287.10,38.68 L287.70,38.83 L288.30,38.96 L288.90,38.88 L289.50,39.10 L290.10,39.15 L290.70,39.17 L291.30,39.20 L291.90,39.20 L292.50,39.20 L293.10,39.20 L293.70,39.20 L294.30,39.20 L294.90,39.20 L295.50,39.20 L296.10,39.20 L296.70,39.20 L297.30,39.20 L297.90,39.20 L298.50,39.20 L299.10,39.20 L299.70,39.20 L300.30,39.20 L300.90,39.20 L301.50,39.20 L302.10,39.20 L302.70,39.20 L303.30,39.20 L303.90,39.20 L304.50,39.20 L305.10,39.20 L305.70,39.20 L306.30,39.20 L306.90,39.20 L307.50,39.20 L308.10,39.20 L308.70,39.20 L309.30,39.20 L309.90,39.20 L310.50,39.20 L311.10,39.20 L311.70,39.20 L312.30,39.20 L312.90,39.20 L313.50,39.20 L314.10,39.20 L314.70,39.20 L315.30,39.20 L315.90,39.20 L316.50,39.20 L317.10,39.20 L317.70,39.20 L318.30,39.20 L318.90,39.20 L319.50,39.20 L320.10,39.20 L320.70,39.20 L321.30,39.20 L321.90,39.20 L322.50,39.20 L323.10,39.20 L323.70,39.20 L324.30,39.20 L324.90,39.20 L325.50,39.20 L326.10,39.20 L326.70,39.20 L327.30,39.20 L327.90,39.20 L328.50,39.20 L329.10,39.20 L329.70,39.20 L330.30,39.20 L330.90,39.20 L331.50,39.20 L332.10,39.20 L332.70,39.20 L333.30,39.20 L333.90,39.20 L334.50,39.20 L335.10,39.20 L335.70,39.20 L336.30,39.20 L336.90,39.20 L337.50,39.20 L338.10,39.20 L338.70,39.20" fill="none" stroke="#dc1f22" stroke-width="1.3" stroke-linejoin="round"/>
<path d="M231.30,39.20 L231.90,39.20 L232.50,39.20 L233.10,39.20 L233.70,39.20 L234.30,39.20 L234.90,39.20 L235.50,39.20 L236.10,39.20 L236.70,39.20 L237.30,39.20 L237.90,39.20 L238.50,39.20 L239.10,39.20 L239.70,39.20 L240.30,39.20 L240.90,39.20 L241.50,39.20 L242.10,39.20 L242.70,39.20 L243.30,39.20 L243.90,39.20 L244.50,39.20 L245.10,39.20 L245.70,39.20 L246.30,39.20 L246.90,39.20 L247.50,39.20 L248.10,39.20 L248.70,39.20 L249.30,39.20 L249.90,39.20 L250.50,39.20 L251.10,39.20 L251.70,39.20 L252.30,39.20 L252.90,39.20 L253.50,39.20 L254.10,39.03 L254.70,37.59 L255.30,35.41 L255.90,33.03 L256.50,30.79 L257.10,27.31 L257.70,23.28 L258.30,19.60 L258.90,14.58 L259.50,11.75 L260.10,9.20 L260.70,8.19 L261.30,8.11 L261.90,8.65 L262.50,10.83 L263.10,12.85 L263.70,14.85 L264.30,17.33 L264.90,19.26 L265.50,21.79 L266.10,24.73 L266.70,26.55 L267.30,28.59 L267.90,30.55 L268.50,32.52 L269.10,34.35 L269.70,35.57 L270.30,37.07 L270.90,37.92 L271.50,38.74 L272.10,39.20 L272.70,39.20 L273.30,39.20 L273.90,39.20 L274.50,39.20 L275.10,39.20 L275.70,39.20 L276.30,39.20 L276.90,39.20 L277.50,39.20 L278.10,39.20 L278.70,39.20 L279.30,39.20 L279.90,39.20 L280.50,39.20 L281.10,39.20 L281.70,39.20 L282.30,39.20 L282.90,39.20 L283.50,39.20 L284.10,39.20 L284.70,39.20 L285.30,39.20 L285.90,39.20 L286.50,39.20 L287.10,39.20 L287.70,39.20 L288.30,39.20 L288.90,39.20 L289.50,39.20 L290.10,39.20 L290.70,39.20 L291.30,39.20 L291.90,39.20 L292.50,39.20 L293.10,39.20 L293.70,39.20 L294.30,39.20 L294.90,39.20 L295.50,39.20 L296.10,39.20 L296.70,39.20 L297.30,39.20 L297.90,39.20 L298.50,39.20 L299.10,39.20 L299.70,39.20 L300.30,39.20 L300.90,39.20 L301.50,39.20 L302.10,39.20 L302.70,39.20 L303.30,39.20 L303.90,39.20 L304.50,39.20 L305.10,39.20 L305.70,39.20 L306.30,39.20 L306.90,39.20 L307.50,39.20 L308.10,39.20 L308.70,39.20 L309.30,39.20 L309.90,39.20 L310.50,39.20 L311.10,39.20 L311.70,39.20 L312.30,39.20 L312.90,39.20 L313.50,39.20 L314.10,39.20 L314.70,39.20 L315.30,39.20 L315.90,39.20 L316.50,39.20 L317.10,39.20 L317.70,39.20 L318.30,39.20 L318.90,39.20 L319.50,39.20 L320.10,39.20 L320.70,39.20 L321.30,39.20 L321.90,39.20 L322.50,39.20 L323.10,39.20 L323.70,39.20 L324.30,39.20 L324.90,39.20 L325.50,39.20 L326.10,39.20 L326.70,39.20 L327.30,39.20 L327.90,39.20 L328.50,39.20 L329.10,39.20 L329.70,39.20 L330.30,39.20 L330.90,39.20 L331.50,39.20 L332.10,39.20 L332.70,39.20 L333.30,39.20 L333.90,39.20 L334.50,39.20 L335.10,39.20 L335.70,39.20 L336.30,39.20 L336.90,39.20 L337.50,39.20 L338.10,39.20 L338.70,39.20" fill="none" stroke="#2a2a96" stroke-width="1.7" stroke-linejoin="round"/>
<path d="M231.30,39.20 L231.90,39.20 L232.50,39.20 L233.10,39.20 L233.70,39.20 L234.30,39.20 L234.90,39.20 L235.50,39.20 L236.10,39.20 L236.70,39.20 L237.30,39.20 L237.90,39.20 L238.50,39.20 L239.10,39.20 L239.70,39.20 L240.30,39.20 L240.90,39.20 L241.50,39.20 L242.10,39.20 L242.70,39.20 L243.30,39.20 L243.90,39.20 L244.50,39.20 L245.10,39.20 L245.70,39.20 L246.30,39.20 L246.90,39.20 L247.50,39.20 L248.10,39.20 L248.70,39.20 L249.30,39.20 L249.90,39.20 L250.50,39.20 L251.10,39.20 L251.70,39.20 L252.30,38.29 L252.90,36.28 L253.50,33.55 L254.10,28.87 L254.70,24.14 L255.30,19.02 L255.90,14.72 L256.50,11.36 L257.10,8.63 L257.70,7.70 L258.30,8.52 L258.90,11.64 L259.50,14.48 L260.10,18.84 L260.70,22.40 L261.30,27.31 L261.90,32.03 L262.50,33.35 L263.10,36.00 L263.70,37.09 L264.30,38.27 L264.90,39.09 L265.50,39.20 L266.10,39.20 L266.70,39.20 L267.30,39.20 L267.90,39.20 L268.50,39.20 L269.10,39.20 L269.70,39.20 L270.30,39.20 L270.90,39.20 L271.50,39.20 L272.10,39.20 L272.70,39.20 L273.30,39.20 L273.90,39.20 L274.50,39.20 L275.10,39.20 L275.70,39.20 L276.30,39.20 L276.90,39.20 L277.50,39.20 L278.10,39.20 L278.70,39.20 L279.30,39.20 L279.90,39.20 L280.50,39.20 L281.10,39.20 L281.70,39.20 L282.30,39.20 L282.90,39.20 L283.50,39.20 L284.10,39.20 L284.70,39.20 L285.30,39.20 L285.90,39.20 L286.50,39.20 L287.10,39.20 L287.70,39.20 L288.30,39.20 L288.90,39.20 L289.50,39.20 L290.10,39.20 L290.70,39.20 L291.30,39.20 L291.90,39.20 L292.50,39.20 L293.10,39.20 L293.70,39.20 L294.30,39.20 L294.90,39.20 L295.50,39.20 L296.10,39.20 L296.70,39.20 L297.30,39.20 L297.90,39.20 L298.50,39.20 L299.10,39.20 L299.70,39.20 L300.30,39.20 L300.90,39.20 L301.50,39.20 L302.10,39.20 L302.70,39.20 L303.30,39.20 L303.90,39.20 L304.50,39.20 L305.10,39.20 L305.70,39.20 L306.30,39.20 L306.90,39.20 L307.50,39.20 L308.10,39.20 L308.70,39.20 L309.30,39.20 L309.90,39.20 L310.50,39.20 L311.10,39.20 L311.70,39.20 L312.30,39.20 L312.90,39.20 L313.50,39.20 L314.10,39.20 L314.70,39.20 L315.30,39.20 L315.90,39.20 L316.50,39.20 L317.10,39.20 L317.70,39.20 L318.30,39.20 L318.90,39.20 L319.50,39.20 L320.10,39.20 L320.70,39.20 L321.30,39.20 L321.90,39.20 L322.50,39.20 L323.10,39.20 L323.70,39.20 L324.30,39.20 L324.90,39.20 L325.50,39.20 L326.10,39.20 L326.70,39.20 L327.30,39.20 L327.90,39.20 L328.50,39.20 L329.10,39.20 L329.70,39.20 L330.30,39.20 L330.90,39.20 L331.50,39.20 L332.10,39.20 L332.70,39.20 L333.30,39.20 L333.90,39.20 L334.50,39.20 L335.10,39.20 L335.70,39.20 L336.30,39.20 L336.90,39.20 L337.50,39.20 L338.10,39.20 L338.70,39.20" fill="none" stroke="#12a840" stroke-width="1.7" stroke-linejoin="round"/>
<path d="M338.60,39.20 L338.60,39.80 L338.60,40.40 L338.60,41.00 L338.60,41.60 L338.60,42.20 L338.60,42.80 L338.60,43.40 L338.60,44.00 L338.60,44.60 L338.60,45.20 L338.60,45.80 L338.60,46.40 L338.60,47.00 L338.60,47.60 L338.60,48.20 L338.60,48.80 L338.60,49.40 L338.60,50.00 L338.60,50.60 L338.60,51.20 L338.60,51.80 L338.60,52.40 L338.60,53.00 L338.60,53.60 L338.60,54.20 L338.60,54.80 L338.60,55.40 L338.60,56.00 L338.60,56.60 L338.60,57.20 L338.60,57.80 L338.60,58.40 L338.60,59.00 L338.60,59.60 L338.60,60.20 L338.60,60.80 L338.60,61.40 L338.60,62.00 L338.60,62.60 L338.60,63.20 L338.60,63.80 L338.60,64.40 L338.60,65.00 L338.60,65.60 L338.60,66.20 L338.60,66.80 L338.60,67.40 L338.60,68.00 L338.60,68.60 L338.60,69.20 L338.60,69.80 L338.60,70.40 L338.60,71.00 L338.60,71.60 L338.60,72.20 L338.60,72.80 L338.60,73.40 L338.60,74.00 L338.60,74.60 L338.60,75.20 L338.60,75.80 L338.60,76.40 L338.60,77.00 L338.60,77.60 L338.60,78.20 L338.60,78.80 L338.60,79.40 L338.60,80.00 L338.60,80.60 L338.60,81.20 L338.60,81.80 L338.60,82.40 L338.60,83.00 L338.60,83.60 L338.60,84.20 L338.60,84.80 L338.60,85.40 L338.60,86.00 L338.60,86.60 L338.60,87.20 L338.60,87.80 L338.60,88.40 L338.60,89.00 L338.60,89.60 L338.60,90.20 L338.60,90.80 L338.60,91.40 L338.60,92.00 L338.60,92.60 L338.60,93.20 L338.60,93.80 L338.60,94.40 L338.60,95.00 L338.77,95.60 L338.93,96.20 L339.34,96.80 L339.70,97.40 L339.87,98.00 L340.52,98.60 L339.72,99.20 L340.54,99.80 L340.92,100.40 L340.60,101.00 L340.43,101.60 L341.46,102.20 L341.09,102.80 L340.86,103.40 L340.49,104.00 L342.51,104.60 L341.32,105.20 L340.91,105.80 L341.27,106.40 L341.50,107.00 L343.25,107.60 L341.54,108.20 L341.90,108.80 L341.44,109.40 L342.51,110.00 L341.45,110.60 L341.20,111.20 L341.52,111.80 L341.96,112.40 L342.02,113.00 L340.67,113.60 L341.97,114.20 L344.36,114.80 L343.44,115.40 L347.06,116.00 L351.44,116.60 L355.50,117.20 L363.78,117.80 L363.18,118.40 L357.62,119.00 L352.16,119.60 L348.58,120.20 L345.13,120.80 L341.62,121.40 L340.84,122.00 L339.05,122.60 L338.60,123.20 L338.60,123.80 L338.60,124.40 L338.60,125.00 L338.60,125.60 L338.60,126.20 L338.60,126.80 L338.60,127.40 L338.60,128.00 L338.60,128.60 L338.60,129.20 L338.60,129.80 L338.60,130.40 L338.60,131.00 L338.60,131.60 L338.60,132.20 L338.60,132.80 L338.60,133.40 L338.60,134.00 L338.60,134.60 L338.60,135.20 L338.60,135.80 L338.60,136.40 L338.60,137.00 L338.60,137.60 L338.60,138.20 L338.60,138.80 L338.60,139.40 L338.60,140.00 L338.60,140.60 L338.60,141.20 L338.60,141.80 L338.60,142.40 L338.60,143.00 L338.60,143.60 L338.60,144.20 L338.60,144.80 L338.60,144.80 L338.60,39.20 Z" fill="#f3b1b1" stroke="none"/>
<path d="M338.60,39.20 L338.60,39.80 L338.60,40.40 L338.60,41.00 L338.60,41.60 L338.60,42.20 L338.60,42.80 L338.60,43.40 L338.60,44.00 L338.60,44.60 L338.60,45.20 L338.60,45.80 L338.60,46.40 L338.60,47.00 L338.60,47.60 L338.60,48.20 L338.60,48.80 L338.60,49.40 L338.60,50.00 L338.60,50.60 L338.60,51.20 L338.60,51.80 L338.60,52.40 L338.60,53.00 L338.60,53.60 L338.60,54.20 L338.60,54.80 L338.60,55.40 L338.60,56.00 L338.60,56.60 L338.60,57.20 L338.60,57.80 L338.60,58.40 L338.60,59.00 L338.60,59.60 L338.60,60.20 L338.60,60.80 L338.60,61.40 L338.60,62.00 L338.60,62.60 L338.60,63.20 L338.60,63.80 L338.60,64.40 L338.60,65.00 L338.60,65.60 L338.60,66.20 L338.60,66.80 L338.60,67.40 L338.60,68.00 L338.60,68.60 L338.60,69.20 L338.60,69.80 L338.60,70.40 L338.60,71.00 L338.60,71.60 L338.60,72.20 L338.60,72.80 L338.60,73.40 L338.60,74.00 L338.60,74.60 L338.60,75.20 L338.60,75.80 L338.60,76.40 L338.60,77.00 L338.60,77.60 L338.60,78.20 L338.60,78.80 L338.60,79.40 L338.60,80.00 L338.60,80.60 L338.60,81.20 L338.60,81.80 L338.60,82.40 L338.60,83.00 L338.60,83.60 L338.60,84.20 L338.60,84.80 L338.60,85.40 L338.60,86.00 L338.60,86.60 L338.60,87.20 L338.60,87.80 L338.60,88.40 L338.60,89.00 L338.60,89.60 L338.60,90.20 L338.60,90.80 L338.60,91.40 L338.60,92.00 L338.60,92.60 L338.60,93.20 L338.60,93.80 L338.60,94.40 L338.60,95.00 L338.77,95.60 L338.93,96.20 L339.34,96.80 L339.70,97.40 L339.87,98.00 L340.52,98.60 L339.72,99.20 L340.54,99.80 L340.92,100.40 L340.60,101.00 L340.43,101.60 L341.46,102.20 L341.09,102.80 L340.86,103.40 L340.49,104.00 L342.51,104.60 L341.32,105.20 L340.91,105.80 L341.27,106.40 L341.50,107.00 L343.25,107.60 L341.54,108.20 L341.90,108.80 L341.44,109.40 L342.51,110.00 L341.45,110.60 L341.20,111.20 L341.52,111.80 L341.96,112.40 L342.02,113.00 L340.67,113.60 L341.97,114.20 L344.36,114.80 L343.44,115.40 L347.06,116.00 L351.44,116.60 L355.50,117.20 L363.78,117.80 L363.18,118.40 L357.62,119.00 L352.16,119.60 L348.58,120.20 L345.13,120.80 L341.62,121.40 L340.84,122.00 L339.05,122.60 L338.60,123.20 L338.60,123.80 L338.60,124.40 L338.60,125.00 L338.60,125.60 L338.60,126.20 L338.60,126.80 L338.60,127.40 L338.60,128.00 L338.60,128.60 L338.60,129.20 L338.60,129.80 L338.60,130.40 L338.60,131.00 L338.60,131.60 L338.60,132.20 L338.60,132.80 L338.60,133.40 L338.60,134.00 L338.60,134.60 L338.60,135.20 L338.60,135.80 L338.60,136.40 L338.60,137.00 L338.60,137.60 L338.60,138.20 L338.60,138.80 L338.60,139.40 L338.60,140.00 L338.60,140.60 L338.60,141.20 L338.60,141.80 L338.60,142.40 L338.60,143.00 L338.60,143.60 L338.60,144.20 L338.60,144.80" fill="none" stroke="#dc1f22" stroke-width="1.3" stroke-linejoin="round"/>
<path d="M338.60,39.20 L338.60,39.80 L338.60,40.40 L338.60,41.00 L338.60,41.60 L338.60,42.20 L338.60,42.80 L338.60,43.40 L338.60,44.00 L338.60,44.60 L338.60,45.20 L338.60,45.80 L338.60,46.40 L338.60,47.00 L338.60,47.60 L338.60,48.20 L338.60,48.80 L338.60,49.40 L338.60,50.00 L338.60,50.60 L338.60,51.20 L338.60,51.80 L338.60,52.40 L338.60,53.00 L338.60,53.60 L338.60,54.20 L338.60,54.80 L338.60,55.40 L338.60,56.00 L338.60,56.60 L338.60,57.20 L338.60,57.80 L338.60,58.40 L338.60,59.00 L338.60,59.60 L338.60,60.20 L338.60,60.80 L338.60,61.40 L338.60,62.00 L338.60,62.60 L338.60,63.20 L338.60,63.80 L338.60,64.40 L338.60,65.00 L338.60,65.60 L338.60,66.20 L338.60,66.80 L338.60,67.40 L338.60,68.00 L338.60,68.60 L338.60,69.20 L338.60,69.80 L338.60,70.40 L338.60,71.00 L338.60,71.60 L338.60,72.20 L338.60,72.80 L338.60,73.40 L338.60,74.00 L338.60,74.60 L338.60,75.20 L338.60,75.80 L338.60,76.40 L338.60,77.00 L338.60,77.60 L338.60,78.20 L338.60,78.80 L338.60,79.40 L338.60,80.00 L338.60,80.60 L338.60,81.20 L338.60,81.80 L338.60,82.40 L338.60,83.00 L338.60,83.60 L338.60,84.20 L338.60,84.80 L338.60,85.40 L338.60,86.00 L338.60,86.60 L338.60,87.20 L338.60,87.80 L338.60,88.40 L338.60,89.00 L338.60,89.60 L338.60,90.20 L338.60,90.80 L338.60,91.40 L338.60,92.00 L338.60,92.60 L338.60,93.20 L338.60,93.80 L338.60,94.40 L338.60,95.00 L338.60,95.60 L338.60,96.20 L338.60,96.80 L338.60,97.40 L338.60,98.00 L338.60,98.60 L338.60,99.20 L338.60,99.80 L338.60,100.40 L338.60,101.00 L338.60,101.60 L338.60,102.20 L338.60,102.80 L338.60,103.40 L338.60,104.00 L338.60,104.60 L338.60,105.20 L338.60,105.80 L338.60,106.40 L338.60,107.00 L338.60,107.60 L338.60,108.20 L338.60,108.80 L338.60,109.40 L338.60,110.00 L338.62,110.60 L338.66,111.20 L338.94,111.80 L339.34,112.40 L339.82,113.00 L340.23,113.60 L341.19,114.20 L342.13,114.80 L344.06,115.40 L347.45,116.00 L351.44,116.60 L355.80,117.20 L361.54,117.80 L362.89,118.40 L358.33,119.00 L353.24,119.60 L349.36,120.20 L345.91,120.80 L342.87,121.40 L340.48,122.00 L339.17,122.60 L338.60,123.20 L338.60,123.80 L338.60,124.40 L338.60,125.00 L338.60,125.60 L338.60,126.20 L338.60,126.80 L338.60,127.40 L338.60,128.00 L338.60,128.60 L338.60,129.20 L338.60,129.80 L338.60,130.40 L338.60,131.00 L338.60,131.60 L338.60,132.20 L338.60,132.80 L338.60,133.40 L338.60,134.00 L338.60,134.60 L338.60,135.20 L338.60,135.80 L338.60,136.40 L338.60,137.00 L338.60,137.60 L338.60,138.20 L338.60,138.80 L338.60,139.40 L338.60,140.00 L338.60,140.60 L338.60,141.20 L338.60,141.80 L338.60,142.40 L338.60,143.00 L338.60,143.60 L338.60,144.20 L338.60,144.80" fill="none" stroke="#2a2a96" stroke-width="1.7" stroke-linejoin="round"/>
<path d="M338.60,39.20 L338.60,39.80 L338.60,40.40 L338.60,41.00 L338.60,41.60 L338.60,42.20 L338.60,42.80 L338.60,43.40 L338.60,44.00 L338.60,44.60 L338.60,45.20 L338.60,45.80 L338.60,46.40 L338.60,47.00 L338.60,47.60 L338.60,48.20 L338.60,48.80 L338.60,49.40 L338.60,50.00 L338.60,50.60 L338.60,51.20 L338.60,51.80 L338.60,52.40 L338.60,53.00 L338.60,53.60 L338.60,54.20 L338.60,54.80 L338.60,55.40 L338.60,56.00 L338.60,56.60 L338.60,57.20 L338.60,57.80 L338.60,58.40 L338.60,59.00 L338.60,59.60 L338.60,60.20 L338.60,60.80 L338.60,61.40 L338.60,62.00 L338.60,62.60 L338.60,63.20 L338.60,63.80 L338.60,64.40 L338.60,65.00 L338.60,65.60 L338.60,66.20 L338.60,66.80 L338.60,67.40 L338.60,68.00 L338.60,68.60 L338.60,69.20 L338.60,69.80 L338.60,70.40 L338.60,71.00 L338.60,71.60 L338.60,72.20 L338.60,72.80 L338.60,73.40 L338.60,74.00 L338.60,74.60 L338.60,75.20 L338.60,75.80 L338.60,76.40 L338.60,77.00 L338.60,77.60 L338.60,78.20 L338.60,78.80 L338.60,79.40 L338.60,80.00 L338.60,80.60 L338.60,81.20 L338.60,81.80 L338.60,82.40 L338.60,83.00 L338.60,83.60 L338.60,84.20 L338.60,84.80 L338.60,85.40 L338.60,86.00 L338.60,86.60 L338.60,87.20 L338.60,87.80 L338.60,88.40 L338.60,89.00 L338.60,89.60 L338.60,90.20 L338.60,90.80 L338.60,91.40 L338.60,92.00 L338.60,92.60 L338.60,93.20 L338.60,93.80 L338.60,94.40 L338.60,95.00 L338.60,95.60 L338.60,96.20 L338.60,96.80 L338.60,97.40 L338.60,98.00 L338.60,98.60 L338.60,99.20 L338.60,99.80 L338.60,100.40 L338.60,101.00 L338.60,101.60 L338.60,102.20 L338.60,102.80 L338.60,103.40 L338.60,104.00 L338.60,104.60 L338.60,105.20 L338.60,105.80 L338.60,106.40 L338.60,107.00 L338.60,107.60 L338.60,108.20 L338.60,108.80 L338.60,109.40 L338.60,110.00 L338.62,110.60 L338.63,111.20 L338.77,111.80 L339.19,112.40 L339.66,113.00 L340.05,113.60 L340.90,114.20 L342.30,114.80 L344.04,115.40 L347.54,116.00 L350.94,116.60 L356.77,117.20 L367.13,117.80 L367.42,118.40 L361.92,119.00 L356.17,119.60 L351.74,120.20 L347.77,120.80 L343.95,121.40 L341.37,122.00 L339.70,122.60 L338.60,123.20 L338.60,123.80 L338.60,124.40 L338.60,125.00 L338.60,125.60 L338.60,126.20 L338.60,126.80 L338.60,127.40 L338.60,128.00 L338.60,128.60 L338.60,129.20 L338.60,129.80 L338.60,130.40 L338.60,131.00 L338.60,131.60 L338.60,132.20 L338.60,132.80 L338.60,133.40 L338.60,134.00 L338.60,134.60 L338.60,135.20 L338.60,135.80 L338.60,136.40 L338.60,137.00 L338.60,137.60 L338.60,138.20 L338.60,138.80 L338.60,139.40 L338.60,140.00 L338.60,140.60 L338.60,141.20 L338.60,141.80 L338.60,142.40 L338.60,143.00 L338.60,143.60 L338.60,144.20 L338.60,144.80" fill="none" stroke="#12a840" stroke-width="1.7" stroke-linejoin="round"/>
<path d="M70.30,233.67 L70.90,233.43 L71.50,232.65 L72.10,231.67 L72.70,233.25 L73.30,233.30 L73.90,232.79 L74.50,230.46 L75.10,233.02 L75.70,230.02 L76.30,230.18 L76.90,232.93 L77.50,230.49 L78.10,230.87 L78.70,230.96 L79.30,226.73 L79.90,233.02 L80.50,233.54 L81.10,226.10 L81.70,230.30 L82.30,231.95 L82.90,230.68 L83.50,230.25 L84.10,224.40 L84.70,231.60 L85.30,231.42 L85.90,227.65 L86.50,227.97 L87.10,223.92 L87.70,225.14 L88.30,230.07 L88.90,231.67 L89.50,225.55 L90.10,224.18 L90.70,233.41 L91.30,226.51 L91.90,224.95 L92.50,226.82 L93.10,230.74 L93.70,224.45 L94.30,224.53 L94.90,229.24 L95.50,224.09 L96.10,227.61 L96.70,228.69 L97.30,225.06 L97.90,224.44 L98.50,223.24 L99.10,220.08 L99.70,217.54 L100.30,215.67 L100.90,214.91 L101.50,214.14 L102.10,215.60 L102.70,219.86 L103.30,220.60 L103.90,215.58 L104.50,215.84 L105.10,214.05 L105.70,219.38 L106.30,217.91 L106.90,210.15 L107.50,212.87 L108.10,211.44 L108.70,216.92 L109.30,213.41 L109.90,207.83 L110.50,209.96 L111.10,206.05 L111.70,213.50 L112.30,210.43 L112.90,206.48 L113.50,209.55 L114.10,205.63 L114.70,207.45 L115.30,211.37 L115.90,210.58 L116.50,200.71 L117.10,208.43 L117.70,207.01 L118.30,205.35 L118.90,201.66 L119.50,200.54 L120.10,204.77 L120.70,205.14 L121.30,202.98 L121.90,208.95 L122.50,208.98 L123.10,207.50 L123.70,208.37 L124.30,215.58 L124.90,216.14 L125.50,217.22 L126.10,212.67 L126.70,214.25 L127.30,212.59 L127.90,215.59 L128.50,221.46 L129.10,217.05 L129.70,215.52 L130.30,222.50 L130.90,226.47 L131.50,223.39 L132.10,224.86 L132.70,226.44 L133.30,228.26 L133.90,227.97 L134.50,221.06 L135.10,229.68 L135.70,224.50 L136.30,229.01 L136.90,229.56 L137.50,223.68 L138.10,229.28 L138.70,230.79 L139.30,228.42 L139.90,226.34 L140.50,228.36 L141.10,225.42 L141.70,230.04 L142.30,229.16 L142.90,227.78 L143.50,230.07 L144.10,228.33 L144.70,230.37 L145.30,232.80 L145.90,232.91 L146.50,229.00 L147.10,229.69 L147.70,229.20 L148.30,230.83 L148.90,231.64 L149.50,233.20 L150.10,231.60 L150.70,233.46 L151.30,233.18 L151.90,233.61 L152.50,233.64 L153.10,233.70 L153.70,233.70 L154.30,233.70 L154.90,233.70 L155.50,233.70 L156.10,233.70 L156.70,233.70 L157.30,233.70 L157.90,233.70 L158.50,233.70 L159.10,233.70 L159.70,233.70 L160.30,233.70 L160.90,233.70 L161.50,233.70 L162.10,233.70 L162.70,233.70 L163.30,233.70 L163.90,233.70 L164.50,233.70 L165.10,233.70 L165.70,233.70 L166.30,233.70 L166.90,233.70 L167.50,233.70 L168.10,233.70 L168.70,233.70 L169.30,233.70 L169.90,233.70 L170.50,233.70 L171.10,233.70 L171.70,233.70 L172.30,233.70 L172.90,233.70 L173.50,233.70 L174.10,233.70 L174.10,233.70 L70.30,233.70 Z" fill="#f3b1b1" stroke="none"/>
<path d="M70.30,233.67 L70.90,233.43 L71.50,232.65 L72.10,231.67 L72.70,233.25 L73.30,233.30 L73.90,232.79 L74.50,230.46 L75.10,233.02 L75.70,230.02 L76.30,230.18 L76.90,232.93 L77.50,230.49 L78.10,230.87 L78.70,230.96 L79.30,226.73 L79.90,233.02 L80.50,233.54 L81.10,226.10 L81.70,230.30 L82.30,231.95 L82.90,230.68 L83.50,230.25 L84.10,224.40 L84.70,231.60 L85.30,231.42 L85.90,227.65 L86.50,227.97 L87.10,223.92 L87.70,225.14 L88.30,230.07 L88.90,231.67 L89.50,225.55 L90.10,224.18 L90.70,233.41 L91.30,226.51 L91.90,224.95 L92.50,226.82 L93.10,230.74 L93.70,224.45 L94.30,224.53 L94.90,229.24 L95.50,224.09 L96.10,227.61 L96.70,228.69 L97.30,225.06 L97.90,224.44 L98.50,223.24 L99.10,220.08 L99.70,217.54 L100.30,215.67 L100.90,214.91 L101.50,214.14 L102.10,215.60 L102.70,219.86 L103.30,220.60 L103.90,215.58 L104.50,215.84 L105.10,214.05 L105.70,219.38 L106.30,217.91 L106.90,210.15 L107.50,212.87 L108.10,211.44 L108.70,216.92 L109.30,213.41 L109.90,207.83 L110.50,209.96 L111.10,206.05 L111.70,213.50 L112.30,210.43 L112.90,206.48 L113.50,209.55 L114.10,205.63 L114.70,207.45 L115.30,211.37 L115.90,210.58 L116.50,200.71 L117.10,208.43 L117.70,207.01 L118.30,205.35 L118.90,201.66 L119.50,200.54 L120.10,204.77 L120.70,205.14 L121.30,202.98 L121.90,208.95 L122.50,208.98 L123.10,207.50 L123.70,208.37 L124.30,215.58 L124.90,216.14 L125.50,217.22 L126.10,212.67 L126.70,214.25 L127.30,212.59 L127.90,215.59 L128.50,221.46 L129.10,217.05 L129.70,215.52 L130.30,222.50 L130.90,226.47 L131.50,223.39 L132.10,224.86 L132.70,226.44 L133.30,228.26 L133.90,227.97 L134.50,221.06 L135.10,229.68 L135.70,224.50 L136.30,229.01 L136.90,229.56 L137.50,223.68 L138.10,229.28 L138.70,230.79 L139.30,228.42 L139.90,226.34 L140.50,228.36 L141.10,225.42 L141.70,230.04 L142.30,229.16 L142.90,227.78 L143.50,230.07 L144.10,228.33 L144.70,230.37 L145.30,232.80 L145.90,232.91 L146.50,229.00 L147.10,229.69 L147.70,229.20 L148.30,230.83 L148.90,231.64 L149.50,233.20 L150.10,231.60 L150.70,233.46 L151.30,233.18 L151.90,233.61 L152.50,233.64 L153.10,233.70 L153.70,233.70 L154.30,233.70 L154.90,233.70 L155.50,233.70 L156.10,233.70 L156.70,233.70 L157.30,233.70 L157.90,233.70 L158.50,233.70 L159.10,233.70 L159.70,233.70 L160.30,233.70 L160.90,233.70 L161.50,233.70 L162.10,233.70 L162.70,233.70 L163.30,233.70 L163.90,233.70 L164.50,233.70 L165.10,233.70 L165.70,233.70 L166.30,233.70 L166.90,233.70 L167.50,233.70 L168.10,233.70 L168.70,233.70 L169.30,233.70 L169.90,233.70 L170.50,233.70 L171.10,233.70 L171.70,233.70 L172.30,233.70 L172.90,233.70 L173.50,233.70 L174.10,233.70" fill="none" stroke="#dc1f22" stroke-width="1.3" stroke-linejoin="round"/>
<path d="M70.30,231.83 L70.90,230.58 L71.50,232.07 L72.10,231.38 L72.70,230.89 L73.30,229.03 L73.90,230.60 L74.50,229.48 L75.10,231.16 L75.70,230.69 L76.30,228.16 L76.90,228.52 L77.50,227.44 L78.10,228.52 L78.70,228.03 L79.30,229.16 L79.90,228.79 L80.50,229.36 L81.10,228.53 L81.70,226.89 L82.30,225.93 L82.90,224.93 L83.50,225.07 L84.10,223.91 L84.70,223.93 L85.30,227.06 L85.90,222.44 L86.50,223.97 L87.10,223.90 L87.70,225.19 L88.30,224.47 L88.90,224.47 L89.50,223.91 L90.10,220.13 L90.70,221.67 L91.30,219.27 L91.90,217.83 L92.50,219.11 L93.10,220.67 L93.70,220.45 L94.30,216.15 L94.90,218.00 L95.50,218.35 L96.10,215.00 L96.70,218.33 L97.30,214.46 L97.90,218.18 L98.50,215.72 L99.10,215.81 L99.70,212.36 L100.30,214.47 L100.90,213.54 L101.50,211.98 L102.10,212.41 L102.70,210.97 L103.30,210.54 L103.90,213.61 L104.50,212.70 L105.10,210.77 L105.70,210.14 L106.30,207.37 L106.90,209.86 L107.50,205.05 L108.10,205.15 L108.70,205.21 L109.30,206.43 L109.90,203.33 L110.50,203.19 L111.10,202.03 L111.70,204.44 L112.30,201.93 L112.90,204.74 L113.50,203.75 L114.10,205.65 L114.70,205.58 L115.30,202.94 L115.90,203.42 L116.50,208.26 L117.10,206.71 L117.70,210.68 L118.30,210.01 L118.90,210.78 L119.50,213.03 L120.10,215.22 L120.70,213.52 L121.30,213.71 L121.90,218.30 L122.50,218.62 L123.10,217.90 L123.70,219.10 L124.30,220.20 L124.90,223.06 L125.50,221.01 L126.10,222.69 L126.70,223.54 L127.30,225.25 L127.90,228.19 L128.50,225.11 L129.10,227.41 L129.70,228.44 L130.30,228.16 L130.90,228.39 L131.50,231.20 L132.10,231.44 L132.70,231.27 L133.30,232.12 L133.90,231.24 L134.50,232.73 L135.10,232.62 L135.70,233.05 L136.30,233.34 L136.90,233.62 L137.50,233.70 L138.10,233.70 L138.70,233.70 L139.30,233.70 L139.90,233.70 L140.50,233.70 L141.10,233.70 L141.70,233.70 L142.30,233.70 L142.90,233.70 L143.50,233.70 L144.10,233.70 L144.70,233.70 L145.30,233.70 L145.90,233.70 L146.50,233.70 L147.10,233.70 L147.70,233.70 L148.30,233.70 L148.90,233.70 L149.50,233.70 L150.10,233.70 L150.70,233.70 L151.30,233.70 L151.90,233.70 L152.50,233.70 L153.10,233.70 L153.70,233.70 L154.30,233.70 L154.90,233.70 L155.50,233.70 L156.10,233.70 L156.70,233.70 L157.30,233.70 L157.90,233.70 L158.50,233.70 L159.10,233.70 L159.70,233.70 L160.30,233.70 L160.90,233.70 L161.50,233.70 L162.10,233.70 L162.70,233.70 L163.30,233.70 L163.90,233.70 L164.50,233.70 L165.10,233.70 L165.70,233.70 L166.30,233.70 L166.90,233.70 L167.50,233.70 L168.10,233.70 L168.70,233.70 L169.30,233.70 L169.90,233.70 L170.50,233.70 L171.10,233.70 L171.70,233.70 L172.30,233.70 L172.90,233.70 L173.50,233.70 L174.10,233.70" fill="none" stroke="#2a2a96" stroke-width="1.7" stroke-linejoin="round"/>
<path d="M70.30,233.70 L70.90,233.70 L71.50,233.70 L72.10,233.70 L72.70,233.70 L73.30,233.70 L73.90,233.70 L74.50,233.70 L75.10,233.70 L75.70,233.70 L76.30,233.70 L76.90,233.70 L77.50,233.70 L78.10,233.70 L78.70,233.70 L79.30,233.70 L79.90,233.70 L80.50,233.70 L81.10,233.70 L81.70,232.32 L82.30,230.65 L82.90,230.50 L83.50,229.17 L84.10,226.69 L84.70,226.38 L85.30,220.31 L85.90,217.86 L86.50,217.47 L87.10,219.12 L87.70,215.51 L88.30,211.19 L88.90,214.62 L89.50,209.99 L90.10,209.54 L90.70,207.39 L91.30,207.18 L91.90,208.18 L92.50,207.37 L93.10,207.26 L93.70,207.31 L94.30,203.09 L94.90,204.32 L95.50,201.96 L96.10,203.10 L96.70,206.21 L97.30,203.08 L97.90,205.09 L98.50,205.32 L99.10,207.62 L99.70,204.33 L100.30,206.67 L100.90,208.96 L101.50,207.65 L102.10,210.21 L102.70,213.76 L103.30,215.78 L103.90,217.74 L104.50,219.03 L105.10,217.42 L105.70,223.22 L106.30,225.38 L106.90,226.78 L107.50,224.25 L108.10,224.97 L108.70,230.66 L109.30,229.68 L109.90,231.57 L110.50,230.91 L111.10,230.34 L111.70,232.49 L112.30,232.22 L112.90,232.81 L113.50,233.41 L114.10,233.70 L114.70,233.70 L115.30,233.70 L115.90,233.70 L116.50,233.70 L117.10,233.70 L117.70,233.70 L118.30,233.70 L118.90,233.70 L119.50,233.70 L120.10,233.70 L120.70,233.70 L121.30,233.70 L121.90,233.70 L122.50,233.70 L123.10,233.70 L123.70,233.70 L124.30,233.70 L124.90,233.70 L125.50,233.70 L126.10,233.70 L126.70,233.70 L127.30,233.70 L127.90,233.70 L128.50,233.70 L129.10,233.70 L129.70,233.70 L130.30,233.70 L130.90,233.70 L131.50,233.70 L132.10,233.70 L132.70,233.70 L133.30,233.70 L133.90,233.70 L134.50,233.70 L135.10,233.70 L135.70,233.70 L136.30,233.70 L136.90,233.70 L137.50,233.70 L138.10,233.70 L138.70,233.70 L139.30,233.70 L139.90,233.70 L140.50,233.70 L141.10,233.70 L141.70,233.70 L142.30,233.70 L142.90,233.70 L143.50,233.70 L144.10,233.70 L144.70,233.70 L145.30,233.70 L145.90,233.70 L146.50,233.70 L147.10,233.70 L147.70,233.70 L148.30,233.70 L148.90,233.70 L149.50,233.70 L150.10,233.70 L150.70,233.70 L151.30,233.70 L151.90,233.70 L152.50,233.70 L153.10,233.70 L153.70,233.70 L154.30,233.70 L154.90,233.70 L155.50,233.70 L156.10,233.70 L156.70,233.70 L157.30,233.70 L157.90,233.70 L158.50,233.70 L159.10,233.70 L159.70,233.70 L160.30,233.70 L160.90,233.70 L161.50,233.70 L162.10,233.70 L162.70,233.70 L163.30,233.70 L163.90,233.70 L164.50,233.70 L165.10,233.70 L165.70,233.70 L166.30,233.70 L166.90,233.70 L167.50,233.70 L168.10,233.70 L168.70,233.70 L169.30,233.70 L169.90,233.70 L170.50,233.70 L171.10,233.70 L171.70,233.70 L172.30,233.70 L172.90,233.70 L173.50,233.70 L174.10,233.70" fill="none" stroke="#12a840" stroke-width="1.7" stroke-linejoin="round"/>
<path d="M173.80,233.70 L173.80,234.30 L173.80,234.90 L173.80,235.50 L173.80,236.10 L173.80,236.70 L173.80,237.30 L173.80,237.90 L173.80,238.50 L173.80,239.10 L173.80,239.70 L173.80,240.30 L173.80,240.90 L173.80,241.50 L173.80,242.10 L173.80,242.70 L173.80,243.30 L173.80,243.90 L173.80,244.50 L173.80,245.10 L173.80,245.70 L173.80,246.30 L173.80,246.90 L173.80,247.50 L173.80,248.10 L173.80,248.70 L173.80,249.30 L173.80,249.90 L173.80,250.50 L173.80,251.10 L173.80,251.70 L173.80,252.30 L173.80,252.90 L173.80,253.50 L173.80,254.10 L173.80,254.70 L173.80,255.30 L173.80,255.90 L173.80,256.50 L173.80,257.10 L173.80,257.70 L173.80,258.30 L173.80,258.90 L173.80,259.50 L173.80,260.10 L173.80,260.70 L173.80,261.30 L173.80,261.90 L173.80,262.50 L173.80,263.10 L173.80,263.70 L173.90,264.30 L173.89,264.90 L173.98,265.50 L175.12,266.10 L174.19,266.70 L175.05,267.30 L175.67,267.90 L175.22,268.50 L174.65,269.10 L174.59,269.70 L181.00,270.30 L179.69,270.90 L182.19,271.50 L178.94,272.10 L182.99,272.70 L182.61,273.30 L181.02,273.90 L180.66,274.50 L180.94,275.10 L179.11,275.70 L180.78,276.30 L184.03,276.90 L180.30,277.50 L186.03,278.10 L183.81,278.70 L185.06,279.30 L187.29,279.90 L186.37,280.50 L182.76,281.10 L184.10,281.70 L182.59,282.30 L183.27,282.90 L191.14,283.50 L188.76,284.10 L192.28,284.70 L191.32,285.30 L188.15,285.90 L193.93,286.50 L194.16,287.10 L191.03,287.70 L188.65,288.30 L191.16,288.90 L190.59,289.50 L192.84,290.10 L191.27,290.70 L197.04,291.30 L199.93,291.90 L194.55,292.50 L199.86,293.10 L199.03,293.70 L198.92,294.30 L202.96,294.90 L199.90,295.50 L204.73,296.10 L199.48,296.70 L207.49,297.30 L201.15,297.90 L199.16,298.50 L205.31,299.10 L203.05,299.70 L201.87,300.30 L201.78,300.90 L197.74,301.50 L194.69,302.10 L195.45,302.70 L199.85,303.30 L199.68,303.90 L193.77,304.50 L196.19,305.10 L197.24,305.70 L201.72,306.30 L194.86,306.90 L200.86,307.50 L194.86,308.10 L195.29,308.70 L189.60,309.30 L186.31,309.90 L189.48,310.50 L183.45,311.10 L184.73,311.70 L181.06,312.30 L176.93,312.90 L173.94,313.50 L173.80,314.10 L173.80,314.70 L173.80,315.30 L173.80,315.90 L173.80,316.50 L173.80,317.10 L173.80,317.70 L173.80,318.30 L173.80,318.90 L173.80,319.50 L173.80,320.10 L173.80,320.70 L173.80,321.30 L173.80,321.90 L173.80,322.50 L173.80,323.10 L173.80,323.70 L173.80,324.30 L173.80,324.90 L173.80,325.50 L173.80,326.10 L173.80,326.70 L173.80,327.30 L173.80,327.90 L173.80,328.50 L173.80,329.10 L173.80,329.70 L173.80,330.30 L173.80,330.90 L173.80,331.50 L173.80,332.10 L173.80,332.70 L173.80,333.30 L173.80,333.90 L173.80,334.50 L173.80,335.10 L173.80,335.70 L173.80,336.30 L173.80,336.90 L173.80,336.90 L173.80,233.70 Z" fill="#f3b1b1" stroke="none"/>
<path d="M173.80,233.70 L173.80,234.30 L173.80,234.90 L173.80,235.50 L173.80,236.10 L173.80,236.70 L173.80,237.30 L173.80,237.90 L173.80,238.50 L173.80,239.10 L173.80,239.70 L173.80,240.30 L173.80,240.90 L173.80,241.50 L173.80,242.10 L173.80,242.70 L173.80,243.30 L173.80,243.90 L173.80,244.50 L173.80,245.10 L173.80,245.70 L173.80,246.30 L173.80,246.90 L173.80,247.50 L173.80,248.10 L173.80,248.70 L173.80,249.30 L173.80,249.90 L173.80,250.50 L173.80,251.10 L173.80,251.70 L173.80,252.30 L173.80,252.90 L173.80,253.50 L173.80,254.10 L173.80,254.70 L173.80,255.30 L173.80,255.90 L173.80,256.50 L173.80,257.10 L173.80,257.70 L173.80,258.30 L173.80,258.90 L173.80,259.50 L173.80,260.10 L173.80,260.70 L173.80,261.30 L173.80,261.90 L173.80,262.50 L173.80,263.10 L173.80,263.70 L173.90,264.30 L173.89,264.90 L173.98,265.50 L175.12,266.10 L174.19,266.70 L175.05,267.30 L175.67,267.90 L175.22,268.50 L174.65,269.10 L174.59,269.70 L181.00,270.30 L179.69,270.90 L182.19,271.50 L178.94,272.10 L182.99,272.70 L182.61,273.30 L181.02,273.90 L180.66,274.50 L180.94,275.10 L179.11,275.70 L180.78,276.30 L184.03,276.90 L180.30,277.50 L186.03,278.10 L183.81,278.70 L185.06,279.30 L187.29,279.90 L186.37,280.50 L182.76,281.10 L184.10,281.70 L182.59,282.30 L183.27,282.90 L191.14,283.50 L188.76,284.10 L192.28,284.70 L191.32,285.30 L188.15,285.90 L193.93,286.50 L194.16,287.10 L191.03,287.70 L188.65,288.30 L191.16,288.90 L190.59,289.50 L192.84,290.10 L191.27,290.70 L197.04,291.30 L199.93,291.90 L194.55,292.50 L199.86,293.10 L199.03,293.70 L198.92,294.30 L202.96,294.90 L199.90,295.50 L204.73,296.10 L199.48,296.70 L207.49,297.30 L201.15,297.90 L199.16,298.50 L205.31,299.10 L203.05,299.70 L201.87,300.30 L201.78,300.90 L197.74,301.50 L194.69,302.10 L195.45,302.70 L199.85,303.30 L199.68,303.90 L193.77,304.50 L196.19,305.10 L197.24,305.70 L201.72,306.30 L194.86,306.90 L200.86,307.50 L194.86,308.10 L195.29,308.70 L189.60,309.30 L186.31,309.90 L189.48,310.50 L183.45,311.10 L184.73,311.70 L181.06,312.30 L176.93,312.90 L173.94,313.50 L173.80,314.10 L173.80,314.70 L173.80,315.30 L173.80,315.90 L173.80,316.50 L173.80,317.10 L173.80,317.70 L173.80,318.30 L173.80,318.90 L173.80,319.50 L173.80,320.10 L173.80,320.70 L173.80,321.30 L173.80,321.90 L173.80,322.50 L173.80,323.10 L173.80,323.70 L173.80,324.30 L173.80,324.90 L173.80,325.50 L173.80,326.10 L173.80,326.70 L173.80,327.30 L173.80,327.90 L173.80,328.50 L173.80,329.10 L173.80,329.70 L173.80,330.30 L173.80,330.90 L173.80,331.50 L173.80,332.10 L173.80,332.70 L173.80,333.30 L173.80,333.90 L173.80,334.50 L173.80,335.10 L173.80,335.70 L173.80,336.30 L173.80,336.90" fill="none" stroke="#dc1f22" stroke-width="1.3" stroke-linejoin="round"/>
<path d="M173.80,233.70 L173.80,234.30 L173.80,234.90 L173.80,235.50 L173.80,236.10 L173.80,236.70 L173.80,237.30 L173.80,237.90 L173.80,238.50 L173.80,239.10 L173.80,239.70 L173.80,240.30 L173.80,240.90 L173.80,241.50 L173.80,242.10 L173.80,242.70 L173.80,243.30 L173.80,243.90 L173.80,244.50 L173.80,245.10 L173.80,245.70 L173.80,246.30 L173.80,246.90 L173.80,247.50 L173.80,248.10 L173.80,248.70 L173.80,249.30 L173.80,249.90 L173.81,250.50 L173.83,251.10 L173.85,251.70 L173.87,252.30 L173.89,252.90 L173.91,253.50 L173.94,254.10 L173.97,254.70 L173.97,255.30 L174.00,255.90 L174.03,256.50 L174.06,257.10 L174.08,257.70 L174.10,258.30 L174.16,258.90 L174.22,259.50 L174.24,260.10 L174.24,260.70 L174.31,261.30 L174.30,261.90 L174.34,262.50 L174.32,263.10 L174.38,263.70 L174.41,264.30 L174.41,264.90 L174.47,265.50 L174.54,266.10 L174.49,266.70 L174.56,267.30 L174.68,267.90 L174.66,268.50 L174.75,269.10 L174.71,269.70 L174.76,270.30 L174.93,270.90 L174.96,271.50 L174.85,272.10 L175.01,272.70 L175.09,273.30 L175.13,273.90 L175.17,274.50 L175.23,275.10 L175.17,275.70 L175.29,276.30 L175.25,276.90 L175.41,277.50 L175.56,278.10 L175.69,278.70 L175.76,279.30 L175.85,279.90 L175.74,280.50 L176.22,281.10 L176.13,281.70 L176.52,282.30 L176.26,282.90 L176.72,283.50 L176.83,284.10 L177.32,284.70 L177.39,285.30 L177.41,285.90 L177.77,286.50 L177.77,287.10 L178.38,287.70 L177.92,288.30 L178.81,288.90 L179.03,289.50 L178.66,290.10 L179.52,290.70 L180.04,291.30 L180.36,291.90 L181.03,292.50 L181.13,293.10 L181.57,293.70 L182.59,294.30 L182.71,294.90 L183.44,295.50 L184.29,296.10 L184.25,296.70 L185.13,297.30 L186.26,297.90 L186.68,298.50 L187.95,299.10 L188.43,299.70 L189.72,300.30 L190.29,300.90 L191.06,301.50 L192.58,302.10 L193.09,302.70 L194.78,303.30 L195.49,303.90 L197.18,304.50 L199.29,305.10 L201.65,305.70 L203.05,306.30 L202.61,306.90 L199.99,307.50 L195.56,308.10 L191.69,308.70 L188.14,309.30 L184.39,309.90 L181.89,310.50 L179.66,311.10 L177.34,311.70 L175.88,312.30 L174.82,312.90 L173.80,313.50 L173.80,314.10 L173.80,314.70 L173.80,315.30 L173.80,315.90 L173.80,316.50 L173.80,317.10 L173.80,317.70 L173.80,318.30 L173.80,318.90 L173.80,319.50 L173.80,320.10 L173.80,320.70 L173.80,321.30 L173.80,321.90 L173.80,322.50 L173.80,323.10 L173.80,323.70 L173.80,324.30 L173.80,324.90 L173.80,325.50 L173.80,326.10 L173.80,326.70 L173.80,327.30 L173.80,327.90 L173.80,328.50 L173.80,329.10 L173.80,329.70 L173.80,330.30 L173.80,330.90 L173.80,331.50 L173.80,332.10 L173.80,332.70 L173.80,333.30 L173.80,333.90 L173.80,334.50 L173.80,335.10 L173.80,335.70 L173.80,336.30 L173.80,336.90" fill="none" stroke="#2a2a96" stroke-width="1.7" stroke-linejoin="round"/>
<path d="M173.80,233.70 L173.80,234.30 L173.80,234.90 L173.80,235.50 L173.80,236.10 L173.80,236.70 L173.80,237.30 L173.80,237.90 L173.80,238.50 L173.80,239.10 L173.80,239.70 L173.80,240.30 L173.80,240.90 L173.80,241.50 L173.80,242.10 L173.80,242.70 L173.80,243.30 L173.80,243.90 L173.80,244.50 L173.80,245.10 L173.80,245.70 L173.80,246.30 L173.80,246.90 L173.80,247.50 L173.80,248.10 L173.80,248.70 L173.80,249.30 L173.80,249.90 L173.80,250.50 L173.80,251.10 L173.80,251.70 L173.80,252.30 L173.80,252.90 L173.80,253.50 L173.80,254.10 L173.80,254.70 L173.80,255.30 L173.80,255.90 L173.80,256.50 L173.80,257.10 L173.80,257.70 L173.80,258.30 L173.80,258.90 L173.80,259.50 L173.80,260.10 L173.80,260.70 L173.80,261.30 L173.80,261.90 L173.80,262.50 L173.80,263.10 L173.80,263.70 L173.80,264.30 L173.80,264.90 L173.80,265.50 L173.80,266.10 L173.80,266.70 L173.80,267.30 L173.80,267.90 L173.80,268.50 L173.80,269.10 L173.80,269.70 L173.80,270.30 L173.80,270.90 L173.80,271.50 L173.80,272.10 L173.80,272.70 L173.80,273.30 L173.80,273.90 L173.80,274.50 L173.80,275.10 L173.80,275.70 L173.80,276.30 L173.80,276.90 L173.80,277.50 L173.80,278.10 L173.80,278.70 L173.80,279.30 L173.80,279.90 L173.80,280.50 L173.80,281.10 L173.80,281.70 L173.80,282.30 L173.80,282.90 L173.80,283.50 L173.80,284.10 L173.80,284.70 L173.80,285.30 L173.80,285.90 L173.80,286.50 L173.80,287.10 L173.80,287.70 L173.80,288.30 L173.80,288.90 L173.80,289.50 L173.80,290.10 L173.80,290.70 L173.80,291.30 L173.80,291.90 L173.80,292.50 L173.80,293.10 L173.80,293.70 L173.80,294.30 L173.80,294.90 L173.80,295.50 L173.80,296.10 L173.80,296.70 L173.80,297.30 L173.80,297.90 L173.86,298.50 L173.97,299.10 L174.14,299.70 L174.37,300.30 L174.56,300.90 L174.72,301.50 L174.92,302.10 L175.27,302.70 L175.72,303.30 L176.29,303.90 L176.94,304.50 L177.80,305.10 L179.03,305.70 L180.37,306.30 L182.69,306.90 L185.41,307.50 L188.28,308.10 L194.05,308.70 L199.87,309.30 L201.67,309.90 L195.12,310.50 L187.17,311.10 L181.93,311.70 L178.07,312.30 L175.27,312.90 L174.32,313.50 L173.80,314.10 L173.80,314.70 L173.80,315.30 L173.80,315.90 L173.80,316.50 L173.80,317.10 L173.80,317.70 L173.80,318.30 L173.80,318.90 L173.80,319.50 L173.80,320.10 L173.80,320.70 L173.80,321.30 L173.80,321.90 L173.80,322.50 L173.80,323.10 L173.80,323.70 L173.80,324.30 L173.80,324.90 L173.80,325.50 L173.80,326.10 L173.80,326.70 L173.80,327.30 L173.80,327.90 L173.80,328.50 L173.80,329.10 L173.80,329.70 L173.80,330.30 L173.80,330.90 L173.80,331.50 L173.80,332.10 L173.80,332.70 L173.80,333.30 L173.80,333.90 L173.80,334.50 L173.80,335.10 L173.80,335.70 L173.80,336.30 L173.80,336.90" fill="none" stroke="#12a840" stroke-width="1.7" stroke-linejoin="round"/>
<path d="M234.30,232.17 L234.90,231.82 L235.50,231.63 L236.10,226.88 L236.70,228.77 L237.30,227.93 L237.90,228.72 L238.50,229.80 L239.10,227.35 L239.70,228.36 L240.30,226.86 L240.90,227.65 L241.50,226.31 L242.10,229.17 L242.70,231.25 L243.30,231.27 L243.90,226.84 L244.50,231.09 L245.10,227.14 L245.70,227.30 L246.30,231.90 L246.90,225.65 L247.50,232.11 L248.10,224.58 L248.70,224.62 L249.30,230.35 L249.90,225.35 L250.50,225.11 L251.10,231.05 L251.70,225.47 L252.30,230.80 L252.90,222.77 L253.50,224.88 L254.10,221.82 L254.70,230.94 L255.30,228.15 L255.90,224.97 L256.50,224.93 L257.10,229.03 L257.70,221.81 L258.30,222.06 L258.90,227.33 L259.50,228.71 L260.10,223.32 L260.70,225.74 L261.30,222.99 L261.90,224.50 L262.50,225.30 L263.10,228.83 L263.70,227.50 L264.30,224.06 L264.90,221.15 L265.50,223.90 L266.10,220.41 L266.70,222.17 L267.30,218.46 L267.90,220.41 L268.50,223.43 L269.10,224.93 L269.70,225.32 L270.30,225.21 L270.90,216.58 L271.50,216.03 L272.10,216.79 L272.70,222.63 L273.30,216.48 L273.90,221.13 L274.50,212.81 L275.10,214.41 L275.70,212.72 L276.30,213.38 L276.90,214.54 L277.50,209.51 L278.10,207.64 L278.70,213.96 L279.30,211.08 L279.90,207.18 L280.50,206.79 L281.10,208.59 L281.70,207.36 L282.30,201.44 L282.90,207.73 L283.50,207.62 L284.10,202.27 L284.70,205.95 L285.30,199.51 L285.90,205.14 L286.50,199.20 L287.10,204.83 L287.70,200.12 L288.30,202.00 L288.90,202.93 L289.50,209.12 L290.10,210.91 L290.70,213.72 L291.30,213.79 L291.90,210.48 L292.50,217.74 L293.10,217.27 L293.70,215.27 L294.30,220.68 L294.90,220.17 L295.50,222.30 L296.10,218.79 L296.70,225.18 L297.30,217.09 L297.90,221.69 L298.50,221.09 L299.10,223.19 L299.70,224.20 L300.30,219.87 L300.90,220.94 L301.50,221.91 L302.10,230.06 L302.70,224.67 L303.30,221.34 L303.90,224.58 L304.50,226.06 L305.10,224.94 L305.70,229.86 L306.30,224.56 L306.90,224.22 L307.50,231.56 L308.10,227.40 L308.70,226.83 L309.30,229.27 L309.90,226.63 L310.50,225.00 L311.10,225.51 L311.70,230.19 L312.30,231.37 L312.90,226.99 L313.50,228.79 L314.10,227.85 L314.70,227.99 L315.30,231.09 L315.90,229.88 L316.50,231.22 L317.10,229.58 L317.70,230.20 L318.30,231.75 L318.90,231.30 L319.50,231.41 L320.10,232.13 L320.70,232.27 L321.30,232.24 L321.90,232.40 L322.50,232.40 L323.10,232.40 L323.70,232.40 L324.30,232.40 L324.90,232.40 L325.50,232.40 L326.10,232.40 L326.70,232.40 L327.30,232.40 L327.90,232.40 L328.50,232.40 L329.10,232.40 L329.70,232.40 L330.30,232.40 L330.90,232.40 L331.50,232.40 L332.10,232.40 L332.70,232.40 L333.30,232.40 L333.90,232.40 L334.50,232.40 L335.10,232.40 L335.70,232.40 L336.30,232.40 L336.90,232.40 L337.50,232.40 L338.10,232.40 L338.70,232.40 L339.30,232.40 L339.90,232.40 L340.50,232.40 L341.10,232.40 L341.10,232.40 L234.30,232.40 Z" fill="#f3b1b1" stroke="none"/>
<path d="M234.30,232.17 L234.90,231.82 L235.50,231.63 L236.10,226.88 L236.70,228.77 L237.30,227.93 L237.90,228.72 L238.50,229.80 L239.10,227.35 L239.70,228.36 L240.30,226.86 L240.90,227.65 L241.50,226.31 L242.10,229.17 L242.70,231.25 L243.30,231.27 L243.90,226.84 L244.50,231.09 L245.10,227.14 L245.70,227.30 L246.30,231.90 L246.90,225.65 L247.50,232.11 L248.10,224.58 L248.70,224.62 L249.30,230.35 L249.90,225.35 L250.50,225.11 L251.10,231.05 L251.70,225.47 L252.30,230.80 L252.90,222.77 L253.50,224.88 L254.10,221.82 L254.70,230.94 L255.30,228.15 L255.90,224.97 L256.50,224.93 L257.10,229.03 L257.70,221.81 L258.30,222.06 L258.90,227.33 L259.50,228.71 L260.10,223.32 L260.70,225.74 L261.30,222.99 L261.90,224.50 L262.50,225.30 L263.10,228.83 L263.70,227.50 L264.30,224.06 L264.90,221.15 L265.50,223.90 L266.10,220.41 L266.70,222.17 L267.30,218.46 L267.90,220.41 L268.50,223.43 L269.10,224.93 L269.70,225.32 L270.30,225.21 L270.90,216.58 L271.50,216.03 L272.10,216.79 L272.70,222.63 L273.30,216.48 L273.90,221.13 L274.50,212.81 L275.10,214.41 L275.70,212.72 L276.30,213.38 L276.90,214.54 L277.50,209.51 L278.10,207.64 L278.70,213.96 L279.30,211.08 L279.90,207.18 L280.50,206.79 L281.10,208.59 L281.70,207.36 L282.30,201.44 L282.90,207.73 L283.50,207.62 L284.10,202.27 L284.70,205.95 L285.30,199.51 L285.90,205.14 L286.50,199.20 L287.10,204.83 L287.70,200.12 L288.30,202.00 L288.90,202.93 L289.50,209.12 L290.10,210.91 L290.70,213.72 L291.30,213.79 L291.90,210.48 L292.50,217.74 L293.10,217.27 L293.70,215.27 L294.30,220.68 L294.90,220.17 L295.50,222.30 L296.10,218.79 L296.70,225.18 L297.30,217.09 L297.90,221.69 L298.50,221.09 L299.10,223.19 L299.70,224.20 L300.30,219.87 L300.90,220.94 L301.50,221.91 L302.10,230.06 L302.70,224.67 L303.30,221.34 L303.90,224.58 L304.50,226.06 L305.10,224.94 L305.70,229.86 L306.30,224.56 L306.90,224.22 L307.50,231.56 L308.10,227.40 L308.70,226.83 L309.30,229.27 L309.90,226.63 L310.50,225.00 L311.10,225.51 L311.70,230.19 L312.30,231.37 L312.90,226.99 L313.50,228.79 L314.10,227.85 L314.70,227.99 L315.30,231.09 L315.90,229.88 L316.50,231.22 L317.10,229.58 L317.70,230.20 L318.30,231.75 L318.90,231.30 L319.50,231.41 L320.10,232.13 L320.70,232.27 L321.30,232.24 L321.90,232.40 L322.50,232.40 L323.10,232.40 L323.70,232.40 L324.30,232.40 L324.90,232.40 L325.50,232.40 L326.10,232.40 L326.70,232.40 L327.30,232.40 L327.90,232.40 L328.50,232.40 L329.10,232.40 L329.70,232.40 L330.30,232.40 L330.90,232.40 L331.50,232.40 L332.10,232.40 L332.70,232.40 L333.30,232.40 L333.90,232.40 L334.50,232.40 L335.10,232.40 L335.70,232.40 L336.30,232.40 L336.90,232.40 L337.50,232.40 L338.10,232.40 L338.70,232.40 L339.30,232.40 L339.90,232.40 L340.50,232.40 L341.10,232.40" fill="none" stroke="#dc1f22" stroke-width="1.3" stroke-linejoin="round"/>
<path d="M234.30,232.40 L234.90,222.84 L235.50,221.68 L236.10,229.21 L236.70,228.88 L237.30,231.07 L237.90,230.37 L238.50,229.56 L239.10,229.14 L239.70,228.35 L240.30,229.65 L240.90,229.94 L241.50,229.46 L242.10,227.71 L242.70,227.07 L243.30,229.51 L243.90,226.74 L244.50,228.29 L245.10,228.80 L245.70,225.90 L246.30,228.26 L246.90,226.55 L247.50,227.78 L248.10,227.51 L248.70,227.81 L249.30,224.03 L249.90,224.02 L250.50,224.00 L251.10,224.19 L251.70,224.52 L252.30,224.35 L252.90,223.57 L253.50,224.34 L254.10,225.85 L254.70,224.64 L255.30,224.19 L255.90,222.39 L256.50,221.02 L257.10,222.73 L257.70,222.85 L258.30,222.81 L258.90,221.44 L259.50,220.62 L260.10,221.22 L260.70,222.34 L261.30,219.15 L261.90,223.01 L262.50,221.36 L263.10,222.68 L263.70,221.13 L264.30,219.08 L264.90,218.65 L265.50,220.07 L266.10,219.70 L266.70,217.96 L267.30,217.23 L267.90,220.34 L268.50,216.59 L269.10,217.49 L269.70,217.36 L270.30,216.51 L270.90,217.91 L271.50,215.50 L272.10,217.18 L272.70,213.64 L273.30,211.48 L273.90,212.43 L274.50,212.86 L275.10,209.73 L275.70,208.37 L276.30,207.98 L276.90,208.10 L277.50,208.82 L278.10,208.29 L278.70,204.01 L279.30,206.17 L279.90,205.86 L280.50,202.84 L281.10,204.05 L281.70,200.12 L282.30,201.33 L282.90,203.24 L283.50,200.11 L284.10,200.39 L284.70,203.30 L285.30,201.27 L285.90,200.84 L286.50,205.38 L287.10,201.51 L287.70,203.27 L288.30,206.99 L288.90,205.29 L289.50,206.98 L290.10,213.11 L290.70,214.52 L291.30,213.02 L291.90,216.46 L292.50,216.60 L293.10,219.59 L293.70,220.77 L294.30,222.98 L294.90,223.46 L295.50,223.66 L296.10,226.03 L296.70,227.87 L297.30,224.58 L297.90,227.27 L298.50,225.77 L299.10,228.37 L299.70,228.51 L300.30,229.90 L300.90,230.88 L301.50,229.59 L302.10,231.28 L302.70,231.65 L303.30,231.65 L303.90,231.80 L304.50,232.20 L305.10,232.30 L305.70,232.37 L306.30,232.40 L306.90,232.40 L307.50,232.40 L308.10,232.40 L308.70,232.40 L309.30,232.40 L309.90,232.40 L310.50,232.40 L311.10,232.40 L311.70,232.40 L312.30,232.40 L312.90,232.40 L313.50,232.40 L314.10,232.40 L314.70,232.40 L315.30,232.40 L315.90,232.40 L316.50,232.40 L317.10,232.40 L317.70,232.40 L318.30,232.40 L318.90,232.40 L319.50,232.40 L320.10,232.40 L320.70,232.40 L321.30,232.40 L321.90,232.40 L322.50,232.40 L323.10,232.40 L323.70,232.40 L324.30,232.40 L324.90,232.40 L325.50,232.40 L326.10,232.40 L326.70,232.40 L327.30,232.40 L327.90,232.40 L328.50,232.40 L329.10,232.40 L329.70,232.40 L330.30,232.40 L330.90,232.40 L331.50,232.40 L332.10,232.40 L332.70,232.40 L333.30,232.40 L333.90,232.40 L334.50,232.40 L335.10,232.40 L335.70,232.40 L336.30,232.40 L336.90,232.40 L337.50,232.40 L338.10,232.40 L338.70,232.40 L339.30,232.40 L339.90,232.40 L340.50,232.40 L341.10,232.40" fill="none" stroke="#2a2a96" stroke-width="1.7" stroke-linejoin="round"/>
<path d="M234.30,232.40 L234.90,232.40 L235.50,232.40 L236.10,232.40 L236.70,232.40 L237.30,232.40 L237.90,232.40 L238.50,232.40 L239.10,232.40 L239.70,232.40 L240.30,232.31 L240.90,232.10 L241.50,231.98 L242.10,231.04 L242.70,231.39 L243.30,229.41 L243.90,229.23 L244.50,228.82 L245.10,228.12 L245.70,226.94 L246.30,226.22 L246.90,227.06 L247.50,226.59 L248.10,221.23 L248.70,221.72 L249.30,219.90 L249.90,219.36 L250.50,221.32 L251.10,220.29 L251.70,216.90 L252.30,217.62 L252.90,215.39 L253.50,217.17 L254.10,216.27 L254.70,215.59 L255.30,213.33 L255.90,211.25 L256.50,208.67 L257.10,210.67 L257.70,207.85 L258.30,207.03 L258.90,209.19 L259.50,208.23 L260.10,206.34 L260.70,208.01 L261.30,206.52 L261.90,205.19 L262.50,204.99 L263.10,203.55 L263.70,205.03 L264.30,201.55 L264.90,202.65 L265.50,202.50 L266.10,199.90 L266.70,199.89 L267.30,200.42 L267.90,200.67 L268.50,199.64 L269.10,203.51 L269.70,203.89 L270.30,200.27 L270.90,204.15 L271.50,202.79 L272.10,202.78 L272.70,205.20 L273.30,206.91 L273.90,206.69 L274.50,208.32 L275.10,209.82 L275.70,211.60 L276.30,210.83 L276.90,216.40 L277.50,215.75 L278.10,219.22 L278.70,219.82 L279.30,221.04 L279.90,221.87 L280.50,224.64 L281.10,225.61 L281.70,225.28 L282.30,224.32 L282.90,227.36 L283.50,229.51 L284.10,229.07 L284.70,230.66 L285.30,230.33 L285.90,231.66 L286.50,231.74 L287.10,232.14 L287.70,232.32 L288.30,232.40 L288.90,232.40 L289.50,232.40 L290.10,232.40 L290.70,232.40 L291.30,232.40 L291.90,232.40 L292.50,232.40 L293.10,232.40 L293.70,232.40 L294.30,232.40 L294.90,232.40 L295.50,232.40 L296.10,232.40 L296.70,232.40 L297.30,232.40 L297.90,232.40 L298.50,232.40 L299.10,232.40 L299.70,232.40 L300.30,232.40 L300.90,232.40 L301.50,232.40 L302.10,232.40 L302.70,232.40 L303.30,232.40 L303.90,232.40 L304.50,232.40 L305.10,232.40 L305.70,232.40 L306.30,232.40 L306.90,232.40 L307.50,232.40 L308.10,232.40 L308.70,232.40 L309.30,232.40 L309.90,232.40 L310.50,232.40 L311.10,232.40 L311.70,232.40 L312.30,232.40 L312.90,232.40 L313.50,232.40 L314.10,232.40 L314.70,232.40 L315.30,232.40 L315.90,232.40 L316.50,232.40 L317.10,232.40 L317.70,232.40 L318.30,232.40 L318.90,232.40 L319.50,232.40 L320.10,232.40 L320.70,232.40 L321.30,232.40 L321.90,232.40 L322.50,232.40 L323.10,232.40 L323.70,232.40 L324.30,232.40 L324.90,232.40 L325.50,232.40 L326.10,232.40 L326.70,232.40 L327.30,232.40 L327.90,232.40 L328.50,232.40 L329.10,232.40 L329.70,232.40 L330.30,232.40 L330.90,232.40 L331.50,232.40 L332.10,232.40 L332.70,232.40 L333.30,232.40 L333.90,232.40 L334.50,232.40 L335.10,232.40 L335.70,232.40 L336.30,232.40 L336.90,232.40 L337.50,232.40 L338.10,232.40 L338.70,232.40 L339.30,232.40 L339.90,232.40 L340.50,232.40 L341.10,232.40" fill="none" stroke="#12a840" stroke-width="1.7" stroke-linejoin="round"/>
<path d="M341.30,232.40 L341.30,233.00 L341.30,233.60 L341.30,234.20 L341.30,234.80 L341.30,235.40 L341.30,236.00 L341.30,236.60 L341.30,237.20 L341.30,237.80 L341.30,238.40 L341.30,239.00 L341.30,239.60 L341.30,240.20 L341.30,240.80 L341.30,241.40 L341.30,242.00 L341.30,242.60 L341.30,243.20 L341.30,243.80 L341.30,244.40 L341.30,245.00 L341.30,245.60 L341.30,246.20 L341.30,246.80 L341.30,247.40 L341.30,248.00 L341.30,248.60 L341.30,249.20 L341.30,249.80 L341.30,250.40 L341.30,251.00 L341.30,251.60 L341.30,252.20 L341.30,252.80 L341.30,253.40 L341.30,254.00 L341.30,254.60 L341.30,255.20 L341.30,255.80 L341.30,256.40 L341.30,257.00 L341.30,257.60 L341.30,258.20 L341.30,258.80 L341.30,259.40 L341.30,260.00 L341.43,260.60 L341.88,261.20 L341.97,261.80 L342.22,262.40 L342.05,263.00 L342.35,263.60 L344.66,264.20 L344.14,264.80 L344.40,265.40 L342.72,266.00 L345.75,266.60 L342.92,267.20 L344.36,267.80 L348.58,268.40 L346.65,269.00 L346.41,269.60 L347.77,270.20 L349.36,270.80 L349.16,271.40 L345.13,272.00 L343.82,272.60 L346.36,273.20 L346.25,273.80 L346.08,274.40 L352.23,275.00 L351.99,275.60 L347.79,276.20 L350.82,276.80 L349.06,277.40 L353.52,278.00 L350.20,278.60 L348.97,279.20 L349.16,279.80 L352.02,280.40 L349.97,281.00 L352.90,281.60 L355.76,282.20 L352.13,282.80 L351.06,283.40 L357.66,284.00 L354.13,284.60 L351.16,285.20 L351.20,285.80 L352.10,286.40 L356.64,287.00 L358.36,287.60 L355.84,288.20 L353.45,288.80 L356.49,289.40 L361.91,290.00 L358.69,290.60 L362.74,291.20 L362.39,291.80 L356.12,292.40 L362.32,293.00 L362.54,293.60 L361.90,294.20 L360.26,294.80 L363.91,295.40 L360.41,296.00 L363.73,296.60 L364.62,297.20 L369.36,297.80 L369.46,298.40 L365.27,299.00 L367.86,299.60 L366.01,300.20 L372.81,300.80 L373.45,301.40 L369.81,302.00 L373.37,302.60 L373.76,303.20 L370.48,303.80 L375.35,304.40 L373.10,305.00 L374.18,305.60 L371.13,306.20 L365.71,306.80 L367.04,307.40 L363.16,308.00 L368.83,308.60 L366.71,309.20 L364.55,309.80 L358.53,310.40 L354.58,311.00 L359.11,311.60 L357.59,312.20 L348.66,312.80 L350.09,313.40 L344.97,314.00 L348.66,314.60 L346.30,315.20 L342.08,315.80 L341.91,316.40 L341.30,317.00 L341.30,317.60 L341.30,318.20 L341.30,318.80 L341.30,319.40 L341.30,320.00 L341.30,320.60 L341.30,321.20 L341.30,321.80 L341.30,322.40 L341.30,323.00 L341.30,323.60 L341.30,324.20 L341.30,324.80 L341.30,325.40 L341.30,326.00 L341.30,326.60 L341.30,327.20 L341.30,327.80 L341.30,328.40 L341.30,329.00 L341.30,329.60 L341.30,330.20 L341.30,330.80 L341.30,331.40 L341.30,332.00 L341.30,332.60 L341.30,333.20 L341.30,333.80 L341.30,334.40 L341.30,335.00 L341.30,335.60 L341.30,336.20 L341.30,336.80 L341.30,337.40 L341.30,338.00 L341.30,338.60 L341.30,339.20 L341.30,339.80 L341.30,339.80 L341.30,232.40 Z" fill="#f3b1b1" stroke="none"/>
<path d="M341.30,232.40 L341.30,233.00 L341.30,233.60 L341.30,234.20 L341.30,234.80 L341.30,235.40 L341.30,236.00 L341.30,236.60 L341.30,237.20 L341.30,237.80 L341.30,238.40 L341.30,239.00 L341.30,239.60 L341.30,240.20 L341.30,240.80 L341.30,241.40 L341.30,242.00 L341.30,242.60 L341.30,243.20 L341.30,243.80 L341.30,244.40 L341.30,245.00 L341.30,245.60 L341.30,246.20 L341.30,246.80 L341.30,247.40 L341.30,248.00 L341.30,248.60 L341.30,249.20 L341.30,249.80 L341.30,250.40 L341.30,251.00 L341.30,251.60 L341.30,252.20 L341.30,252.80 L341.30,253.40 L341.30,254.00 L341.30,254.60 L341.30,255.20 L341.30,255.80 L341.30,256.40 L341.30,257.00 L341.30,257.60 L341.30,258.20 L341.30,258.80 L341.30,259.40 L341.30,260.00 L341.43,260.60 L341.88,261.20 L341.97,261.80 L342.22,262.40 L342.05,263.00 L342.35,263.60 L344.66,264.20 L344.14,264.80 L344.40,265.40 L342.72,266.00 L345.75,266.60 L342.92,267.20 L344.36,267.80 L348.58,268.40 L346.65,269.00 L346.41,269.60 L347.77,270.20 L349.36,270.80 L349.16,271.40 L345.13,272.00 L343.82,272.60 L346.36,273.20 L346.25,273.80 L346.08,274.40 L352.23,275.00 L351.99,275.60 L347.79,276.20 L350.82,276.80 L349.06,277.40 L353.52,278.00 L350.20,278.60 L348.97,279.20 L349.16,279.80 L352.02,280.40 L349.97,281.00 L352.90,281.60 L355.76,282.20 L352.13,282.80 L351.06,283.40 L357.66,284.00 L354.13,284.60 L351.16,285.20 L351.20,285.80 L352.10,286.40 L356.64,287.00 L358.36,287.60 L355.84,288.20 L353.45,288.80 L356.49,289.40 L361.91,290.00 L358.69,290.60 L362.74,291.20 L362.39,291.80 L356.12,292.40 L362.32,293.00 L362.54,293.60 L361.90,294.20 L360.26,294.80 L363.91,295.40 L360.41,296.00 L363.73,296.60 L364.62,297.20 L369.36,297.80 L369.46,298.40 L365.27,299.00 L367.86,299.60 L366.01,300.20 L372.81,300.80 L373.45,301.40 L369.81,302.00 L373.37,302.60 L373.76,303.20 L370.48,303.80 L375.35,304.40 L373.10,305.00 L374.18,305.60 L371.13,306.20 L365.71,306.80 L367.04,307.40 L363.16,308.00 L368.83,308.60 L366.71,309.20 L364.55,309.80 L358.53,310.40 L354.58,311.00 L359.11,311.60 L357.59,312.20 L348.66,312.80 L350.09,313.40 L344.97,314.00 L348.66,314.60 L346.30,315.20 L342.08,315.80 L341.91,316.40 L341.30,317.00 L341.30,317.60 L341.30,318.20 L341.30,318.80 L341.30,319.40 L341.30,320.00 L341.30,320.60 L341.30,321.20 L341.30,321.80 L341.30,322.40 L341.30,323.00 L341.30,323.60 L341.30,324.20 L341.30,324.80 L341.30,325.40 L341.30,326.00 L341.30,326.60 L341.30,327.20 L341.30,327.80 L341.30,328.40 L341.30,329.00 L341.30,329.60 L341.30,330.20 L341.30,330.80 L341.30,331.40 L341.30,332.00 L341.30,332.60 L341.30,333.20 L341.30,333.80 L341.30,334.40 L341.30,335.00 L341.30,335.60 L341.30,336.20 L341.30,336.80 L341.30,337.40 L341.30,338.00 L341.30,338.60 L341.30,339.20 L341.30,339.80" fill="none" stroke="#dc1f22" stroke-width="1.3" stroke-linejoin="round"/>
<path d="M341.30,232.40 L341.30,233.00 L341.30,233.60 L341.30,234.20 L341.30,234.80 L341.30,235.40 L341.30,236.00 L341.30,236.60 L341.30,237.20 L341.30,237.80 L341.30,238.40 L341.30,239.00 L341.30,239.60 L341.30,240.20 L341.30,240.80 L341.30,241.40 L341.30,242.00 L341.30,242.60 L341.30,243.20 L341.30,243.80 L341.30,244.40 L341.30,245.00 L341.30,245.60 L341.30,246.20 L341.30,246.80 L341.30,247.40 L341.30,248.00 L341.30,248.60 L341.30,249.20 L341.30,249.80 L341.31,250.40 L341.32,251.00 L341.33,251.60 L341.35,252.20 L341.36,252.80 L341.37,253.40 L341.39,254.00 L341.40,254.60 L341.43,255.20 L341.44,255.80 L341.46,256.40 L341.49,257.00 L341.51,257.60 L341.53,258.20 L341.59,258.80 L341.60,259.40 L341.64,260.00 L341.67,260.60 L341.75,261.20 L341.81,261.80 L341.88,262.40 L341.93,263.00 L341.89,263.60 L341.99,264.20 L342.00,264.80 L342.02,265.40 L342.14,266.00 L342.27,266.60 L342.23,267.20 L342.32,267.80 L342.44,268.40 L342.35,269.00 L342.40,269.60 L342.69,270.20 L342.77,270.80 L342.79,271.40 L342.92,272.00 L343.04,272.60 L343.08,273.20 L343.27,273.80 L343.32,274.40 L343.49,275.00 L343.58,275.60 L343.37,276.20 L343.72,276.80 L343.67,277.40 L344.18,278.00 L343.96,278.60 L344.55,279.20 L344.76,279.80 L344.45,280.40 L344.64,281.00 L345.16,281.60 L345.72,282.20 L345.95,282.80 L345.99,283.40 L346.24,284.00 L345.99,284.60 L346.68,285.20 L346.76,285.80 L346.94,286.40 L347.46,287.00 L347.10,287.60 L347.72,288.20 L348.19,288.80 L348.25,289.40 L349.12,290.00 L349.77,290.60 L349.45,291.20 L349.92,291.80 L350.86,292.40 L351.37,293.00 L351.82,293.60 L352.59,294.20 L353.10,294.80 L354.26,295.40 L354.30,296.00 L355.83,296.60 L356.03,297.20 L356.96,297.80 L357.85,298.40 L358.93,299.00 L359.65,299.60 L360.49,300.20 L362.18,300.80 L362.29,301.40 L364.23,302.00 L364.47,302.60 L365.46,303.20 L366.59,303.80 L367.39,304.40 L368.93,305.00 L369.49,305.60 L370.97,306.20 L371.30,306.80 L372.10,307.40 L372.46,308.00 L371.99,308.60 L370.91,309.20 L367.46,309.80 L363.04,310.40 L359.76,311.00 L356.24,311.60 L353.29,312.20 L351.20,312.80 L348.26,313.40 L346.23,314.00 L344.21,314.60 L343.12,315.20 L342.09,315.80 L341.40,316.40 L341.30,317.00 L341.30,317.60 L341.30,318.20 L341.30,318.80 L341.30,319.40 L341.30,320.00 L341.30,320.60 L341.30,321.20 L341.30,321.80 L341.30,322.40 L341.30,323.00 L341.30,323.60 L341.30,324.20 L341.30,324.80 L341.30,325.40 L341.30,326.00 L341.30,326.60 L341.30,327.20 L341.30,327.80 L341.30,328.40 L341.30,329.00 L341.30,329.60 L341.30,330.20 L341.30,330.80 L341.30,331.40 L341.30,332.00 L341.30,332.60 L341.30,333.20 L341.30,333.80 L341.30,334.40 L341.30,335.00 L341.30,335.60 L341.30,336.20 L341.30,336.80 L341.30,337.40 L341.30,338.00 L341.30,338.60 L341.30,339.20 L341.30,339.80" fill="none" stroke="#2a2a96" stroke-width="1.7" stroke-linejoin="round"/>
<path d="M341.30,232.40 L341.30,233.00 L341.30,233.60 L341.30,234.20 L341.30,234.80 L341.30,235.40 L341.30,236.00 L341.30,236.60 L341.30,237.20 L341.30,237.80 L341.30,238.40 L341.30,239.00 L341.30,239.60 L341.30,240.20 L341.30,240.80 L341.30,241.40 L341.30,242.00 L341.30,242.60 L341.30,243.20 L341.30,243.80 L341.30,244.40 L341.30,245.00 L341.30,245.60 L341.30,246.20 L341.30,246.80 L341.30,247.40 L341.30,248.00 L341.30,248.60 L341.30,249.20 L341.30,249.80 L341.30,250.40 L341.30,251.00 L341.30,251.60 L341.30,252.20 L341.30,252.80 L341.30,253.40 L341.30,254.00 L341.30,254.60 L341.30,255.20 L341.30,255.80 L341.30,256.40 L341.30,257.00 L341.30,257.60 L341.30,258.20 L341.30,258.80 L341.30,259.40 L341.30,260.00 L341.30,260.60 L341.30,261.20 L341.30,261.80 L341.30,262.40 L341.30,263.00 L341.30,263.60 L341.30,264.20 L341.30,264.80 L341.30,265.40 L341.30,266.00 L341.30,266.60 L341.30,267.20 L341.30,267.80 L341.30,268.40 L341.30,269.00 L341.30,269.60 L341.30,270.20 L341.30,270.80 L341.30,271.40 L341.30,272.00 L341.30,272.60 L341.30,273.20 L341.30,273.80 L341.30,274.40 L341.30,275.00 L341.30,275.60 L341.30,276.20 L341.30,276.80 L341.30,277.40 L341.30,278.00 L341.30,278.60 L341.30,279.20 L341.30,279.80 L341.30,280.40 L341.30,281.00 L341.30,281.60 L341.30,282.20 L341.30,282.80 L341.30,283.40 L341.30,284.00 L341.30,284.60 L341.30,285.20 L341.30,285.80 L341.30,286.40 L341.30,287.00 L341.30,287.60 L341.30,288.20 L341.30,288.80 L341.30,289.40 L341.30,290.00 L341.30,290.60 L341.30,291.20 L341.30,291.80 L341.30,292.40 L341.30,293.00 L341.30,293.60 L341.30,294.20 L341.30,294.80 L341.30,295.40 L341.30,296.00 L341.30,296.60 L341.30,297.20 L341.30,297.80 L341.30,298.40 L341.30,299.00 L341.30,299.60 L341.32,300.20 L341.37,300.80 L341.50,301.40 L341.80,302.00 L342.07,302.60 L342.33,303.20 L342.57,303.80 L342.81,304.40 L343.42,305.00 L343.74,305.60 L344.78,306.20 L345.77,306.80 L346.22,307.40 L347.92,308.00 L349.52,308.60 L352.57,309.20 L356.20,309.80 L360.74,310.40 L365.28,311.00 L369.01,311.60 L370.83,312.20 L368.99,312.80 L362.34,313.40 L355.02,314.00 L351.56,314.60 L347.54,315.20 L345.10,315.80 L343.03,316.40 L341.89,317.00 L341.39,317.60 L341.30,318.20 L341.30,318.80 L341.30,319.40 L341.30,320.00 L341.30,320.60 L341.30,321.20 L341.30,321.80 L341.30,322.40 L341.30,323.00 L341.30,323.60 L341.30,324.20 L341.30,324.80 L341.30,325.40 L341.30,326.00 L341.30,326.60 L341.30,327.20 L341.30,327.80 L341.30,328.40 L341.30,329.00 L341.30,329.60 L341.30,330.20 L341.30,330.80 L341.30,331.40 L341.30,332.00 L341.30,332.60 L341.30,333.20 L341.30,333.80 L341.30,334.40 L341.30,335.00 L341.30,335.60 L341.30,336.20 L341.30,336.80 L341.30,337.40 L341.30,338.00 L341.30,338.60 L341.30,339.20 L341.30,339.80" fill="none" stroke="#12a840" stroke-width="1.7" stroke-linejoin="round"/>
<path d="M66.90,37.30 H173.80 V146.10" fill="none" stroke="#12a840" stroke-width="1.6"/>
<path d="M230.70,39.20 H338.60 V145.60" fill="none" stroke="#12a840" stroke-width="1.6"/>
<path d="M69.70,233.70 H173.80 V337.50" fill="none" stroke="#12a840" stroke-width="1.6"/>
<path d="M233.70,232.40 H341.30 V340.20" fill="none" stroke="#12a840" stroke-width="1.6"/>
<clipPath id="clipA1"><rect x="68.10" y="38.10" width="104.90" height="106.80"/></clipPath>
<clipPath id="clipA2"><rect x="231.90" y="40.00" width="105.90" height="104.40"/></clipPath>
<clipPath id="clipA3"><rect x="70.90" y="234.50" width="102.10" height="101.80"/></clipPath>
<clipPath id="clipA4"><rect x="234.90" y="233.20" width="105.60" height="105.80"/></clipPath>
<path d="M95.5,66.0 95.2,67.3 95.0,68.6 94.9,70.0 94.9,71.4 95.0,73.0 95.2,74.6 95.5,76.3 95.9,78.1 96.2,80.0 96.5,82.0 96.8,84.2 97.1,86.7 97.3,89.2 97.3,91.7 97.0,94.0 96.2,96.1 95.1,98.1 93.7,100.1 92.3,102.0 91.0,104.0 89.6,106.0 88.1,108.1 86.5,110.2 85.3,112.2 84.5,114.0 84.2,115.6 84.1,117.2 84.4,118.6 85.0,119.8 86.0,121.0 87.4,122.1 89.2,123.2 91.3,124.1 93.6,124.7 96.0,125.0 98.6,124.9 101.4,124.4 104.4,123.6 107.3,122.6 110.0,121.5 112.6,120.2 115.3,118.6 117.8,116.9 120.1,115.0 122.0,113.0 123.5,110.8 124.7,108.5 125.6,106.0 126.2,103.7 126.5,101.5 126.4,99.6 125.9,97.8 125.2,96.1 124.3,94.5 123.5,93.0 122.5,91.7 121.3,90.5 120.1,89.4 119.1,88.3 118.5,87.0 118.5,85.5 118.8,84.0 119.4,82.4 120.0,80.7 120.5,79.0 120.9,77.2 121.3,75.4 121.7,73.6 121.9,71.8 122.0,70.0 121.9,68.3 121.6,66.5 121.3,64.8 120.7,63.3 120.0,62.0 119.1,61.0 118.0,60.3 116.7,59.8 115.4,59.4 114.0,59.0 112.5,58.7 110.9,58.4 109.2,58.3 107.6,58.2 106.0,58.3 104.5,58.5 103.0,58.8 101.5,59.2 100.2,59.8 99.0,60.5 98.0,61.4 97.2,62.4 96.5,63.5 96.0,64.8 95.5,66.0Z M97.3,66.6 97.0,67.6 96.9,68.8 96.8,70.0 96.8,71.4 96.9,72.9 97.1,74.3 97.4,75.9 97.7,77.7 97.9,78.6 98.1,79.6 98.3,80.7 98.4,81.8 98.5,82.9 98.8,85.2 99.0,86.4 99.1,87.7 99.2,89.1 99.3,90.4 99.2,91.7 99.1,93.0 98.9,94.4 98.5,95.6 98.0,96.9 97.4,98.0 96.7,99.1 96.0,100.2 95.3,101.2 94.6,102.2 93.2,104.1 92.6,105.0 91.9,106.1 91.1,107.2 90.4,108.2 88.8,110.3 87.5,112.2 86.6,113.9 86.1,115.2 86.0,116.5 86.1,117.5 86.4,118.4 86.9,119.2 87.8,120.1 89.2,121.0 91.0,121.9 93.0,122.6 95.0,123.0 97.1,123.1 99.7,122.8 102.4,122.2 105.2,121.4 107.9,120.3 110.5,119.2 113.0,117.8 115.5,116.2 117.8,114.5 119.7,112.7 121.2,110.9 122.4,108.8 123.4,106.6 124.1,104.4 124.5,102.3 124.6,100.6 124.4,99.1 123.8,97.7 123.1,96.2 122.3,94.7 121.9,94.0 121.1,93.0 120.0,91.9 119.4,91.4 118.7,90.8 118.1,90.1 117.4,89.2 116.9,88.3 116.6,87.2 116.5,86.2 116.6,85.2 116.8,84.3 117.0,83.4 117.3,82.5 117.6,81.7 118.2,80.1 118.6,78.6 118.8,77.7 119.0,76.8 119.4,75.0 119.8,73.2 120.0,71.6 120.1,70.0 120.0,68.4 119.8,66.8 119.4,65.3 119.0,64.0 118.5,63.1 117.9,62.5 117.1,62.0 116.1,61.6 114.9,61.2 113.5,60.8 112.2,60.5 110.7,60.3 109.1,60.2 107.6,60.1 106.2,60.2 104.8,60.4 103.4,60.7 102.1,61.0 101.0,61.5 100.1,62.0 99.4,62.7 98.8,63.5 98.2,64.4 97.7,65.5 97.3,66.6Z M99.1,67.1 98.9,68.0 98.8,69.0 98.7,70.1 98.7,71.3 98.8,72.7 98.9,74.0 99.2,75.6 99.6,77.3 99.8,78.3 100.0,79.3 100.1,80.4 100.3,81.6 100.4,82.6 100.7,84.9 100.9,86.2 101.0,87.5 101.1,88.9 101.2,90.3 101.1,91.8 101.0,93.2 100.7,94.7 100.3,96.2 99.7,97.6 99.1,98.9 98.3,100.1 97.6,101.2 96.8,102.3 96.1,103.3 94.8,105.1 94.2,106.1 93.4,107.2 92.7,108.3 91.9,109.4 90.4,111.4 89.1,113.3 88.3,114.6 88.0,115.6 87.9,116.5 87.9,117.1 88.1,117.5 88.4,118.0 89.0,118.6 90.2,119.4 91.7,120.2 93.5,120.8 95.2,121.1 97.0,121.2 99.3,120.9 101.9,120.4 104.6,119.6 107.2,118.6 109.6,117.5 112.1,116.1 114.4,114.6 116.6,113.0 118.4,111.4 119.7,109.8 120.7,108.0 121.6,105.9 122.3,103.9 122.6,102.0 122.7,100.7 122.5,99.6 122.1,98.4 121.4,97.1 120.6,95.6 120.2,95.0 119.7,94.2 118.8,93.3 118.1,92.8 117.4,92.1 116.6,91.2 115.8,90.2 115.1,88.9 114.7,87.4 114.6,86.1 114.7,84.9 114.9,83.8 115.2,82.8 115.5,81.9 115.8,81.0 116.4,79.5 116.8,78.1 117.0,77.3 117.2,76.4 117.6,74.6 117.9,72.9 118.1,71.4 118.2,70.1 118.1,68.6 117.9,67.2 117.6,65.8 117.2,64.8 116.9,64.2 116.7,64.0 116.2,63.7 115.4,63.4 114.4,63.0 113.1,62.7 111.8,62.4 110.4,62.2 109.0,62.1 107.6,62.0 106.4,62.1 105.1,62.3 103.9,62.5 102.8,62.8 101.9,63.2 101.3,63.6 100.8,64.0 100.3,64.6 99.9,65.3 99.5,66.2 99.1,67.1Z M89.8,116.7 89.9,116.8 90.2,117.1 91.2,117.7 92.5,118.4 94.0,119.0 95.4,119.2 96.9,119.3 99.0,119.0 101.5,118.5 104.0,117.8 106.5,116.8 108.8,115.8 111.1,114.5 113.4,113.1 115.4,111.5 117.0,110.1 118.1,108.7 119.0,107.1 119.8,105.3 120.4,103.4 120.7,101.8 120.8,100.8 120.7,100.1 120.4,99.2 119.8,98.0 119.0,96.6 118.6,96.0 118.3,95.5 117.5,94.8 116.8,94.2 116.0,93.4 115.1,92.4 114.2,91.1 113.3,89.5 112.8,87.6 112.7,86.0 112.9,84.5 113.1,83.3 113.4,82.2 113.8,81.2 114.1,80.3 114.6,78.9 114.9,77.7 115.1,76.9 115.3,76.0 115.7,74.2 116.1,72.6 116.3,71.2 116.3,70.1 116.2,68.8 116.0,67.5 115.8,66.4 115.5,65.6 115.3,65.4 114.8,65.2 113.8,64.9 112.6,64.5 111.5,64.3 110.2,64.1 108.9,64.0 107.6,63.9 106.5,64.0 105.4,64.1 104.3,64.3 103.4,64.6 102.7,64.9 102.4,65.1 102.2,65.3 101.9,65.6 101.6,66.2 101.2,66.9 100.9,67.7 100.8,68.4 100.7,69.1 100.6,70.1 100.6,71.3 100.7,72.6 100.8,73.7 101.1,75.2 101.5,76.9 101.7,77.9 101.8,79.0 102.0,80.1 102.2,81.3 102.3,82.4 102.6,84.7 102.7,86.0 102.9,87.3 103.0,88.8 103.1,90.3 103.0,91.8 102.9,93.4 102.6,95.1 102.1,96.8 101.5,98.3 100.7,99.8 100.0,101.1 99.2,102.3 98.4,103.4 97.6,104.4 96.4,106.2 95.8,107.1 95.0,108.3 94.2,109.4 93.4,110.5 91.9,112.5 90.7,114.3 90.1,115.4 89.9,116.0 89.8,116.5 89.8,116.7Z" fill="none" stroke="#dc1f22" stroke-width="1.0" clip-path="url(#clipA1)"/>
<ellipse cx="105.2" cy="73" rx="6.4" ry="8.2" fill="none" stroke="#dc1f22" stroke-width="1.0"/>
<ellipse cx="104.9" cy="72.2" rx="2.5" ry="3.1" fill="none" stroke="#dc1f22" stroke-width="1.0"/>
<path d="M91.0,106.0 91.5,105.2 91.9,104.5 92.4,103.7 92.9,102.9 93.5,102.1 94.1,101.4 94.7,100.7 95.4,100.1 96.2,99.5 97.0,99.0 97.9,98.6 98.9,98.2 100.0,97.9 101.1,97.6 102.2,97.4 103.4,97.3 104.6,97.1 105.8,97.1 106.9,97.0 108.0,97.0 109.1,97.0 110.2,97.1 111.3,97.1 112.4,97.3 113.5,97.4 114.6,97.6 115.5,97.9 116.5,98.2 117.3,98.6 118.0,99.0 118.6,99.5 119.2,100.1 119.6,100.7 120.0,101.4 120.4,102.1 120.6,102.9 120.8,103.7 121.0,104.5 121.0,105.2 121.0,106.0 120.9,106.8 120.7,107.6 120.5,108.4 120.2,109.2 119.8,110.1 119.4,110.9 118.9,111.7 118.3,112.5 117.7,113.3 117.0,114.0 116.2,114.7 115.4,115.4 114.5,116.0 113.5,116.7 112.4,117.3 111.4,117.9 110.3,118.5 109.2,119.0 108.1,119.5 107.0,120.0 105.9,120.4 104.8,120.9 103.6,121.3 102.5,121.7 101.3,122.0 100.2,122.3 99.0,122.6 98.0,122.8 96.9,122.9 96.0,123.0 95.1,123.0 94.2,123.0 93.4,122.9 92.6,122.8 91.9,122.6 91.2,122.4 90.5,122.1 90.0,121.8 89.4,121.4 89.0,121.0 88.6,120.5 88.4,119.9 88.1,119.3 88.0,118.6 87.9,117.9 87.8,117.1 87.8,116.3 87.8,115.5 87.9,114.8 88.0,114.0 88.1,113.2 88.3,112.4 88.5,111.6 88.8,110.8 89.1,110.0 89.4,109.2 89.8,108.4 90.1,107.6 90.6,106.8Z M90.9,107.7 91.3,107.0 91.7,106.3 92.2,105.7 92.6,105.0 93.1,104.3 93.6,103.7 94.2,103.1 94.8,102.5 95.4,102.0 96.2,101.6 96.9,101.2 97.8,100.9 98.7,100.6 99.7,100.4 100.7,100.2 101.8,100.1 102.8,100.0 103.8,99.9 104.8,99.9 105.7,99.8 106.7,99.9 107.6,99.9 108.6,100.0 109.6,100.1 110.5,100.2 111.4,100.4 112.3,100.6 113.1,100.9 113.8,101.2 114.4,101.6 115.0,102.0 115.5,102.5 115.9,103.1 116.2,103.7 116.5,104.3 116.7,105.0 116.9,105.7 117.0,106.3 117.1,107.0 117.1,107.7 117.0,108.4 116.8,109.0 116.6,109.8 116.4,110.5 116.0,111.2 115.6,111.9 115.2,112.7 114.7,113.4 114.2,114.0 113.6,114.6 112.9,115.3 112.2,115.8 111.4,116.4 110.5,117.0 109.6,117.5 108.7,118.1 107.7,118.6 106.7,119.0 105.8,119.5 104.9,119.9 103.9,120.3 103.0,120.6 101.9,121.0 100.9,121.3 99.9,121.6 98.9,121.9 97.9,122.1 97.0,122.3 96.1,122.4 95.3,122.5 94.5,122.5 93.8,122.5 93.0,122.4 92.3,122.3 91.7,122.2 91.1,122.0 90.5,121.7 90.0,121.4 89.6,121.1 89.2,120.7 88.9,120.3 88.6,119.8 88.4,119.3 88.3,118.7 88.2,118.0 88.2,117.4 88.2,116.7 88.2,116.0 88.2,115.3 88.3,114.6 88.4,114.0 88.6,113.3 88.8,112.6 89.0,111.9 89.2,111.2 89.5,110.4 89.9,109.7 90.2,109.0 90.6,108.3Z M90.9,108.9 91.2,108.3 91.6,107.7 92.0,107.1 92.4,106.5 92.8,105.9 93.3,105.4 93.8,104.8 94.3,104.3 94.9,103.9 95.5,103.5 96.2,103.2 97.0,102.9 97.8,102.7 98.7,102.5 99.6,102.3 100.5,102.2 101.4,102.1 102.3,102.0 103.2,102.0 104.1,102.0 104.9,102.0 105.7,102.0 106.6,102.1 107.5,102.2 108.3,102.3 109.1,102.5 109.9,102.7 110.6,102.9 111.3,103.2 111.8,103.5 112.3,103.9 112.7,104.3 113.1,104.8 113.4,105.4 113.6,105.9 113.9,106.5 114.0,107.1 114.1,107.7 114.1,108.3 114.1,108.9 114.1,109.5 113.9,110.1 113.7,110.8 113.5,111.4 113.2,112.1 112.9,112.7 112.5,113.4 112.0,114.0 111.6,114.6 111.0,115.1 110.5,115.7 109.8,116.2 109.1,116.7 108.3,117.2 107.5,117.7 106.7,118.2 105.8,118.6 105.0,119.0 104.1,119.4 103.3,119.8 102.4,120.1 101.6,120.5 100.7,120.8 99.8,121.1 98.9,121.3 98.0,121.6 97.1,121.8 96.3,121.9 95.5,122.0 94.8,122.1 94.1,122.1 93.4,122.1 92.8,122.0 92.1,121.9 91.6,121.8 91.0,121.6 90.5,121.4 90.1,121.2 89.7,120.9 89.3,120.5 89.1,120.2 88.8,119.7 88.7,119.2 88.5,118.7 88.5,118.1 88.4,117.5 88.4,116.9 88.4,116.3 88.5,115.7 88.6,115.1 88.7,114.5 88.8,113.9 89.0,113.3 89.2,112.7 89.4,112.0 89.6,111.4 89.9,110.8 90.2,110.1 90.5,109.5Z M90.8,110.0 91.2,109.5 91.5,109.0 91.8,108.4 92.2,107.9 92.6,107.4 93.0,106.9 93.4,106.4 93.9,106.0 94.4,105.6 95.0,105.2 95.6,104.9 96.3,104.7 97.0,104.5 97.8,104.3 98.6,104.2 99.4,104.0 100.2,104.0 101.0,103.9 101.8,103.9 102.5,103.9 103.3,103.9 104.0,103.9 104.8,104.0 105.6,104.0 106.3,104.2 107.1,104.3 107.7,104.5 108.4,104.7 108.9,104.9 109.4,105.2 109.9,105.6 110.2,106.0 110.6,106.4 110.8,106.9 111.1,107.4 111.3,107.9 111.4,108.4 111.5,109.0 111.5,109.5 111.5,110.0 111.4,110.6 111.3,111.1 111.2,111.7 110.9,112.3 110.7,112.8 110.4,113.4 110.0,114.0 109.6,114.5 109.2,115.1 108.7,115.6 108.2,116.0 107.6,116.5 107.0,117.0 106.3,117.4 105.6,117.8 104.9,118.3 104.1,118.6 103.3,119.0 102.6,119.4 101.9,119.7 101.1,120.0 100.3,120.3 99.6,120.6 98.7,120.8 97.9,121.1 97.2,121.3 96.4,121.5 95.6,121.6 94.9,121.7 94.3,121.8 93.7,121.8 93.1,121.8 92.5,121.7 92.0,121.6 91.4,121.5 91.0,121.3 90.5,121.2 90.1,120.9 89.8,120.7 89.5,120.4 89.2,120.0 89.0,119.6 88.9,119.2 88.8,118.7 88.7,118.2 88.7,117.7 88.7,117.2 88.7,116.6 88.7,116.1 88.8,115.6 88.9,115.0 89.0,114.5 89.1,113.9 89.3,113.4 89.5,112.8 89.7,112.2 90.0,111.7 90.3,111.1 90.5,110.6Z M90.8,111.1 91.1,110.6 91.4,110.2 91.7,109.7 92.0,109.2 92.3,108.7 92.7,108.3 93.1,107.9 93.5,107.5 94.0,107.1 94.5,106.8 95.0,106.6 95.6,106.4 96.3,106.2 96.9,106.0 97.6,105.9 98.4,105.8 99.1,105.7 99.8,105.7 100.5,105.6 101.1,105.6 101.8,105.6 102.5,105.7 103.1,105.7 103.8,105.8 104.5,105.9 105.1,106.0 105.7,106.2 106.3,106.4 106.8,106.6 107.2,106.8 107.6,107.1 107.9,107.5 108.2,107.9 108.5,108.3 108.7,108.7 108.8,109.2 108.9,109.7 109.0,110.2 109.1,110.6 109.0,111.1 109.0,111.6 108.9,112.0 108.7,112.5 108.6,113.1 108.3,113.6 108.1,114.1 107.7,114.6 107.4,115.1 107.0,115.5 106.6,116.0 106.2,116.4 105.6,116.8 105.1,117.2 104.5,117.6 103.8,118.0 103.2,118.3 102.5,118.7 101.8,119.0 101.2,119.3 100.5,119.6 99.9,119.9 99.2,120.1 98.5,120.4 97.8,120.6 97.1,120.8 96.4,121.0 95.7,121.2 95.0,121.3 94.4,121.4 93.8,121.4 93.3,121.4 92.8,121.4 92.3,121.4 91.8,121.3 91.3,121.2 90.9,121.1 90.5,120.9 90.2,120.7 89.9,120.5 89.6,120.2 89.4,119.9 89.2,119.6 89.1,119.2 89.0,118.8 88.9,118.3 88.9,117.9 88.9,117.4 88.9,116.9 88.9,116.4 89.0,116.0 89.1,115.5 89.2,115.0 89.3,114.5 89.4,114.0 89.6,113.5 89.8,113.0 90.0,112.5 90.3,112.0 90.5,111.6Z M90.8,112.1 91.0,111.7 91.3,111.3 91.5,110.9 91.8,110.4 92.1,110.0 92.4,109.6 92.8,109.3 93.1,108.9 93.5,108.6 94.0,108.4 94.4,108.1 95.0,108.0 95.5,107.8 96.1,107.7 96.7,107.5 97.4,107.5 98.0,107.4 98.6,107.3 99.2,107.3 99.8,107.3 100.4,107.3 101.0,107.3 101.5,107.4 102.1,107.5 102.7,107.5 103.3,107.7 103.8,107.8 104.3,108.0 104.7,108.1 105.1,108.4 105.4,108.6 105.7,108.9 106.0,109.3 106.2,109.6 106.4,110.0 106.5,110.4 106.6,110.9 106.7,111.3 106.7,111.7 106.7,112.1 106.7,112.5 106.6,112.9 106.4,113.4 106.3,113.8 106.1,114.3 105.8,114.7 105.6,115.1 105.3,115.6 104.9,116.0 104.6,116.3 104.2,116.7 103.7,117.1 103.2,117.4 102.7,117.8 102.2,118.1 101.6,118.4 101.0,118.7 100.4,119.0 99.8,119.3 99.3,119.5 98.7,119.8 98.1,120.0 97.5,120.2 96.9,120.4 96.2,120.6 95.6,120.8 95.0,120.9 94.5,121.0 93.9,121.1 93.4,121.1 93.0,121.1 92.5,121.1 92.0,121.1 91.6,121.0 91.2,120.9 90.9,120.8 90.5,120.7 90.2,120.5 89.9,120.3 89.7,120.1 89.5,119.8 89.4,119.5 89.2,119.2 89.2,118.8 89.1,118.4 89.1,118.0 89.1,117.6 89.1,117.2 89.1,116.7 89.2,116.3 89.2,115.9 89.3,115.5 89.4,115.1 89.6,114.7 89.7,114.2 89.9,113.8 90.1,113.3 90.3,112.9 90.5,112.5Z M90.7,113.0 90.9,112.7 91.2,112.3 91.4,112.0 91.6,111.6 91.9,111.3 92.1,110.9 92.4,110.6 92.8,110.3 93.1,110.1 93.5,109.8 93.9,109.7 94.3,109.5 94.8,109.3 95.3,109.2 95.9,109.1 96.4,109.1 97.0,109.0 97.5,109.0 98.0,108.9 98.5,108.9 99.0,108.9 99.5,109.0 100.0,109.0 100.5,109.1 101.0,109.1 101.5,109.2 102.0,109.3 102.4,109.5 102.8,109.7 103.1,109.8 103.4,110.1 103.6,110.3 103.8,110.6 104.0,110.9 104.2,111.3 104.3,111.6 104.4,112.0 104.4,112.3 104.5,112.7 104.5,113.0 104.4,113.4 104.3,113.8 104.2,114.1 104.1,114.5 103.9,114.9 103.7,115.3 103.5,115.7 103.2,116.0 102.9,116.4 102.6,116.7 102.3,117.0 101.9,117.3 101.5,117.6 101.0,117.9 100.5,118.2 100.0,118.5 99.5,118.8 99.0,119.0 98.5,119.2 98.1,119.5 97.6,119.7 97.0,119.9 96.5,120.0 96.0,120.2 95.4,120.4 94.9,120.5 94.4,120.6 93.9,120.7 93.4,120.8 93.0,120.8 92.6,120.8 92.2,120.8 91.8,120.8 91.5,120.7 91.1,120.7 90.8,120.6 90.5,120.4 90.2,120.3 90.0,120.1 89.8,119.9 89.6,119.7 89.5,119.4 89.4,119.1 89.3,118.8 89.3,118.5 89.3,118.1 89.3,117.8 89.3,117.4 89.3,117.1 89.4,116.7 89.4,116.4 89.5,116.0 89.6,115.6 89.7,115.3 89.8,114.9 90.0,114.5 90.2,114.1 90.3,113.8 90.5,113.4Z M90.7,114.0 90.9,113.7 91.1,113.4 91.2,113.1 91.4,112.8 91.7,112.5 91.9,112.2 92.1,111.9 92.4,111.7 92.7,111.5 93.0,111.3 93.4,111.1 93.7,111.0 94.2,110.8 94.6,110.7 95.0,110.7 95.5,110.6 96.0,110.6 96.4,110.5 96.8,110.5 97.3,110.5 97.7,110.5 98.1,110.5 98.5,110.6 99.0,110.6 99.4,110.7 99.8,110.7 100.2,110.8 100.5,111.0 100.9,111.1 101.1,111.3 101.4,111.5 101.6,111.7 101.8,111.9 101.9,112.2 102.0,112.5 102.2,112.8 102.2,113.1 102.3,113.4 102.3,113.7 102.3,114.0 102.3,114.3 102.2,114.6 102.1,114.9 102.0,115.2 101.8,115.5 101.7,115.9 101.5,116.2 101.2,116.5 101.0,116.8 100.7,117.1 100.5,117.3 100.1,117.6 99.8,117.9 99.4,118.1 99.0,118.3 98.6,118.6 98.1,118.8 97.7,119.0 97.3,119.2 96.9,119.4 96.5,119.6 96.0,119.7 95.6,119.9 95.1,120.0 94.7,120.2 94.2,120.3 93.8,120.4 93.4,120.5 93.0,120.5 92.6,120.5 92.3,120.6 91.9,120.5 91.6,120.5 91.3,120.5 91.0,120.4 90.8,120.3 90.5,120.2 90.3,120.1 90.1,119.9 89.9,119.8 89.8,119.6 89.7,119.4 89.6,119.1 89.5,118.8 89.5,118.6 89.5,118.3 89.5,118.0 89.5,117.7 89.5,117.4 89.5,117.1 89.6,116.8 89.6,116.5 89.7,116.2 89.8,115.8 89.9,115.5 90.1,115.2 90.2,114.9 90.4,114.6 90.5,114.3Z M90.7,114.9 90.8,114.6 91.0,114.4 91.1,114.1 91.3,113.9 91.5,113.6 91.6,113.4 91.8,113.2 92.1,113.0 92.3,112.8 92.6,112.7 92.8,112.5 93.2,112.4 93.5,112.3 93.9,112.2 94.2,112.2 94.6,112.1 95.0,112.1 95.4,112.0 95.7,112.0 96.1,112.0 96.4,112.0 96.7,112.0 97.1,112.1 97.5,112.1 97.8,112.2 98.1,112.2 98.5,112.3 98.7,112.4 99.0,112.5 99.2,112.7 99.4,112.8 99.6,113.0 99.7,113.2 99.9,113.4 100.0,113.6 100.1,113.9 100.1,114.1 100.2,114.4 100.2,114.6 100.2,114.9 100.2,115.1 100.1,115.4 100.0,115.6 99.9,115.9 99.8,116.2 99.7,116.4 99.5,116.7 99.3,116.9 99.1,117.2 98.9,117.4 98.7,117.6 98.4,117.8 98.1,118.1 97.8,118.3 97.5,118.5 97.1,118.7 96.8,118.8 96.4,119.0 96.1,119.2 95.7,119.3 95.4,119.5 95.0,119.6 94.7,119.7 94.3,119.8 93.9,120.0 93.6,120.0 93.2,120.1 92.9,120.2 92.5,120.2 92.2,120.3 92.0,120.3 91.7,120.3 91.4,120.2 91.2,120.2 90.9,120.2 90.7,120.1 90.5,120.0 90.3,119.9 90.2,119.8 90.0,119.6 89.9,119.5 89.8,119.3 89.7,119.1 89.7,118.9 89.7,118.6 89.7,118.4 89.6,118.2 89.7,117.9 89.7,117.7 89.7,117.4 89.7,117.2 89.8,116.9 89.9,116.7 90.0,116.4 90.0,116.1 90.1,115.9 90.3,115.6 90.4,115.4 90.5,115.1Z M90.6,115.8 90.7,115.6 90.9,115.4 91.0,115.2 91.1,115.0 91.2,114.8 91.4,114.6 91.6,114.4 91.7,114.3 91.9,114.1 92.1,114.0 92.4,113.9 92.6,113.8 92.9,113.7 93.1,113.7 93.4,113.6 93.7,113.6 94.0,113.5 94.3,113.5 94.6,113.5 94.9,113.5 95.1,113.5 95.4,113.5 95.7,113.5 96.0,113.6 96.2,113.6 96.5,113.7 96.8,113.7 97.0,113.8 97.2,113.9 97.4,114.0 97.5,114.1 97.7,114.3 97.8,114.4 97.9,114.6 98.0,114.8 98.0,115.0 98.1,115.2 98.1,115.4 98.1,115.6 98.1,115.8 98.1,115.9 98.1,116.1 98.0,116.3 97.9,116.6 97.8,116.8 97.7,117.0 97.6,117.2 97.4,117.4 97.3,117.6 97.1,117.8 96.9,117.9 96.7,118.1 96.5,118.3 96.2,118.4 96.0,118.6 95.7,118.7 95.4,118.9 95.2,119.0 94.9,119.1 94.6,119.2 94.4,119.4 94.1,119.5 93.8,119.6 93.5,119.7 93.2,119.8 92.9,119.8 92.6,119.9 92.4,119.9 92.1,120.0 91.9,120.0 91.7,120.0 91.4,120.0 91.2,120.0 91.0,120.0 90.8,119.9 90.7,119.8 90.5,119.8 90.4,119.7 90.2,119.6 90.1,119.5 90.0,119.4 90.0,119.2 89.9,119.1 89.9,118.9 89.8,118.7 89.8,118.5 89.8,118.3 89.8,118.1 89.9,117.9 89.9,117.8 89.9,117.6 89.9,117.4 90.0,117.2 90.1,117.0 90.1,116.8 90.2,116.5 90.3,116.3 90.4,116.1 90.5,115.9Z" fill="none" stroke="#dc1f22" stroke-width="1.0" opacity="1.0" clip-path="url(#clipA1)"/>
<ellipse cx="0" cy="0" rx="13.2" ry="8.6" fill="none" stroke="#dc1f22" stroke-width="1.6" transform="translate(97.6,116.6) rotate(-14)"/>
<path d="M87.2,114.5 87.5,114.0 87.8,113.6 88.3,113.2 88.9,112.8 89.5,112.4 90.2,112.1 90.9,111.8 91.6,111.6 92.4,111.3 93.2,111.1 94.0,110.9 94.9,110.8 95.8,110.6 96.8,110.5 97.9,110.5 98.9,110.4 99.9,110.4 100.8,110.5 101.7,110.6 102.5,110.7 103.2,110.9 103.9,111.2 104.6,111.5 105.2,111.8 105.7,112.2 106.3,112.6 106.7,113.1 107.1,113.6 107.4,114.0 107.6,114.5 107.7,115.1 107.8,115.6 107.8,116.3 107.8,116.9 107.7,117.6 107.5,118.3 107.2,118.9 106.8,119.5 106.4,120.0 105.9,120.5 105.3,120.9 104.5,121.2 103.6,121.5 102.6,121.8 101.6,122.0 100.5,122.2 99.5,122.3 98.4,122.5 97.5,122.5 96.5,122.6 95.7,122.6 94.8,122.7 93.9,122.6 93.1,122.6 92.2,122.5 91.5,122.4 90.7,122.2 90.0,122.0 89.4,121.7 88.9,121.3 88.5,120.9 88.1,120.3 87.7,119.6 87.4,118.8 87.2,118.1 87.0,117.3 87.0,116.5 87.0,115.8 87.0,115.1Z" fill="#2a2a96" fill-opacity="0.95" stroke="none" clip-path="url(#clipA1)"/>
<path d="M86.0,114.0 86.3,113.4 86.8,112.9 87.3,112.4 88.0,111.9 88.7,111.5 89.5,111.2 90.3,110.8 91.2,110.5 92.1,110.2 93.0,110.0 94.0,109.8 95.0,109.6 96.2,109.4 97.4,109.3 98.6,109.2 99.8,109.2 100.9,109.2 102.1,109.2 103.1,109.3 104.0,109.5 104.8,109.7 105.6,110.0 106.4,110.4 107.1,110.8 107.8,111.3 108.4,111.8 108.9,112.3 109.4,112.9 109.7,113.4 110.0,114.0 110.2,114.6 110.3,115.3 110.3,116.1 110.2,116.8 110.1,117.6 109.8,118.4 109.5,119.2 109.1,119.8 108.6,120.5 108.0,121.0 107.3,121.5 106.3,121.9 105.3,122.2 104.2,122.5 102.9,122.8 101.7,123.0 100.4,123.2 99.2,123.3 98.1,123.4 97.0,123.5 96.0,123.5 95.0,123.6 93.9,123.5 92.9,123.5 91.9,123.4 91.0,123.3 90.1,123.1 89.3,122.8 88.6,122.4 88.0,122.0 87.5,121.4 87.0,120.8 86.6,120.0 86.3,119.1 86.0,118.2 85.8,117.2 85.7,116.3 85.7,115.4 85.8,114.7Z M86.6,114.3 86.9,113.7 87.3,113.2 87.8,112.8 88.4,112.4 89.1,112.0 89.8,111.6 90.6,111.3 91.4,111.0 92.2,110.8 93.1,110.6 94.0,110.4 94.9,110.2 96.0,110.0 97.1,109.9 98.2,109.8 99.3,109.8 100.4,109.8 101.5,109.8 102.4,109.9 103.2,110.1 104.0,110.3 104.8,110.6 105.5,110.9 106.2,111.3 106.8,111.7 107.3,112.2 107.8,112.7 108.2,113.2 108.6,113.7 108.8,114.3 109.0,114.8 109.0,115.5 109.1,116.2 109.0,116.9 108.9,117.6 108.6,118.3 108.3,119.0 108.0,119.7 107.5,120.2 107.0,120.7 106.3,121.2 105.4,121.5 104.5,121.9 103.4,122.1 102.3,122.4 101.1,122.6 100.0,122.8 98.8,122.9 97.8,123.0 96.8,123.0 95.8,123.1 94.9,123.1 93.9,123.1 93.0,123.0 92.1,123.0 91.2,122.8 90.4,122.6 89.7,122.4 89.0,122.1 88.5,121.7 88.0,121.1 87.5,120.5 87.2,119.8 86.8,119.0 86.6,118.1 86.4,117.2 86.3,116.4 86.3,115.6 86.4,114.9Z M87.2,114.5 87.5,114.0 87.8,113.6 88.3,113.2 88.9,112.8 89.5,112.4 90.2,112.1 90.9,111.8 91.6,111.6 92.4,111.3 93.2,111.1 94.0,110.9 94.9,110.8 95.8,110.6 96.8,110.5 97.9,110.5 98.9,110.4 99.9,110.4 100.8,110.5 101.7,110.6 102.5,110.7 103.2,110.9 103.9,111.2 104.6,111.5 105.2,111.8 105.7,112.2 106.3,112.6 106.7,113.1 107.1,113.6 107.4,114.0 107.6,114.5 107.7,115.1 107.8,115.6 107.8,116.3 107.8,116.9 107.7,117.6 107.5,118.3 107.2,118.9 106.8,119.5 106.4,120.0 105.9,120.5 105.3,120.9 104.5,121.2 103.6,121.5 102.6,121.8 101.6,122.0 100.5,122.2 99.5,122.3 98.4,122.5 97.5,122.5 96.5,122.6 95.7,122.6 94.8,122.7 93.9,122.6 93.1,122.6 92.2,122.5 91.5,122.4 90.7,122.2 90.0,122.0 89.4,121.7 88.9,121.3 88.5,120.9 88.1,120.3 87.7,119.6 87.4,118.8 87.2,118.1 87.0,117.3 87.0,116.5 87.0,115.8 87.0,115.1Z" fill="none" stroke="#2a2a96" stroke-width="0.9" opacity="1.0" clip-path="url(#clipA1)"/>
<ellipse cx="93.6" cy="118.0" rx="6.2" ry="5.3" fill="#22b83e" clip-path="url(#clipA1)" />
<path d="M254.5,84.0 254.4,85.2 254.3,86.3 254.4,87.5 254.5,88.7 254.6,90.0 254.8,91.3 255.2,92.6 255.6,94.0 255.9,95.5 256.0,97.0 256.0,98.7 256.0,100.5 255.8,102.4 255.5,104.2 255.0,106.0 254.2,107.7 253.0,109.3 251.7,110.9 250.6,112.5 249.8,114.0 249.3,115.5 248.9,116.9 248.7,118.3 248.8,119.7 249.3,121.0 250.2,122.4 251.5,123.7 253.1,125.0 255.0,126.1 257.0,126.8 259.4,127.1 262.3,127.0 265.3,126.7 268.2,126.1 270.5,125.5 272.3,124.7 273.7,123.8 275.0,122.7 276.0,121.4 277.0,120.0 278.0,118.3 278.9,116.4 279.6,114.3 280.2,112.3 280.5,110.5 280.6,108.8 280.4,107.1 280.0,105.5 279.4,104.1 278.5,103.0 277.2,102.3 275.4,101.9 273.4,101.6 271.5,101.4 270.0,101.0 268.8,100.4 267.7,99.8 266.7,99.1 266.0,98.4 265.5,97.5 265.3,96.6 265.3,95.6 265.5,94.5 265.8,93.4 266.0,92.0 266.2,90.4 266.5,88.5 266.8,86.5 267.0,84.6 267.0,83.0 266.8,81.6 266.5,80.3 266.1,79.2 265.6,78.3 265.0,77.5 264.3,76.9 263.4,76.5 262.4,76.3 261.4,76.3 260.5,76.3 259.6,76.5 258.8,76.8 257.9,77.2 257.2,77.8 256.5,78.5 255.9,79.4 255.5,80.4 255.1,81.6 254.7,82.8 254.5,84.0Z M256.4,84.3 256.3,85.3 256.2,86.3 256.3,87.4 256.4,88.5 256.5,89.8 256.7,90.9 257.0,92.1 257.2,92.8 257.4,93.6 257.6,94.4 257.7,95.2 257.8,96.1 257.9,97.0 257.9,97.8 257.9,98.7 257.9,99.7 257.9,100.6 257.8,101.6 257.7,102.6 257.6,103.7 257.3,104.7 257.1,105.7 256.7,106.8 256.3,107.8 255.7,108.7 255.1,109.6 254.5,110.5 253.9,111.3 252.7,112.8 251.8,114.1 251.3,115.4 250.9,116.7 250.6,117.9 250.6,118.9 250.8,119.7 251.3,120.6 252.2,121.8 253.5,122.9 255.0,124.0 256.6,124.7 258.4,125.1 260.8,125.2 263.6,125.0 266.4,124.6 268.9,124.0 270.7,123.4 272.0,122.7 273.1,121.9 274.0,120.9 274.9,119.6 275.9,118.2 276.7,116.6 277.5,114.7 278.1,112.8 278.5,111.1 278.7,109.6 278.6,108.1 278.4,106.7 278.0,105.6 277.5,104.7 277.0,104.3 275.9,103.9 274.2,103.6 273.2,103.5 272.2,103.4 271.2,103.3 270.1,103.0 269.2,102.7 268.5,102.4 267.9,102.1 267.2,101.7 266.6,101.4 266.0,101.0 265.4,100.5 264.9,100.0 264.5,99.4 264.0,98.8 263.7,98.1 263.5,97.3 263.4,96.6 263.4,95.9 263.4,95.3 263.5,94.7 263.7,94.1 263.9,93.0 264.1,91.8 264.2,91.0 264.3,90.1 264.5,89.2 264.8,87.2 265.0,85.4 265.1,83.8 265.0,82.5 264.8,81.4 264.6,80.4 264.2,79.6 263.8,79.0 263.5,78.7 263.1,78.5 262.5,78.3 261.7,78.2 261.0,78.2 260.4,78.2 259.8,78.4 259.2,78.7 258.7,79.0 258.2,79.4 257.8,79.9 257.4,80.7 257.0,81.6 256.7,82.7 256.5,83.8Z" fill="none" stroke="#dc1f22" stroke-width="1.0" clip-path="url(#clipA2)"/>
<path d="M251.0,113.0 251.4,112.2 251.8,111.4 252.2,110.6 252.8,109.9 253.3,109.1 254.0,108.4 254.7,107.7 255.4,107.1 256.2,106.5 257.0,106.0 257.9,105.6 258.9,105.2 260.0,104.9 261.1,104.6 262.3,104.4 263.5,104.2 264.7,104.1 265.8,104.0 267.0,104.0 268.0,104.0 269.0,104.1 270.1,104.2 271.1,104.3 272.1,104.6 273.1,104.8 274.1,105.1 275.0,105.5 275.7,105.9 276.4,106.4 277.0,107.0 277.5,107.7 277.8,108.4 278.1,109.3 278.4,110.2 278.5,111.2 278.6,112.2 278.5,113.2 278.4,114.2 278.3,115.1 278.0,116.0 277.7,116.8 277.2,117.7 276.7,118.5 276.1,119.4 275.4,120.2 274.6,120.9 273.8,121.7 272.9,122.4 272.0,123.0 271.0,123.5 269.9,124.0 268.7,124.4 267.4,124.8 266.0,125.1 264.5,125.4 263.1,125.6 261.7,125.8 260.3,125.8 259.1,125.9 258.0,125.8 257.0,125.7 256.0,125.4 255.1,125.1 254.2,124.8 253.4,124.3 252.7,123.8 252.0,123.3 251.4,122.7 250.9,122.1 250.5,121.5 250.2,120.8 250.0,120.0 249.9,119.2 249.9,118.3 249.9,117.4 250.0,116.5 250.2,115.6 250.4,114.7 250.7,113.8Z M251.4,114.0 251.7,113.3 252.1,112.6 252.5,111.9 252.9,111.3 253.4,110.6 254.0,110.0 254.6,109.4 255.2,108.8 255.9,108.3 256.6,107.9 257.4,107.5 258.3,107.2 259.2,106.9 260.2,106.7 261.3,106.5 262.3,106.3 263.3,106.2 264.3,106.2 265.3,106.1 266.2,106.2 267.1,106.2 268.0,106.3 268.9,106.5 269.8,106.6 270.7,106.9 271.5,107.1 272.3,107.5 273.0,107.8 273.6,108.3 274.1,108.8 274.5,109.4 274.8,110.0 275.1,110.8 275.3,111.6 275.4,112.5 275.5,113.3 275.4,114.2 275.3,115.1 275.2,115.9 275.0,116.6 274.7,117.4 274.3,118.1 273.8,118.8 273.3,119.6 272.7,120.3 272.0,121.0 271.3,121.6 270.5,122.2 269.7,122.7 268.8,123.2 267.9,123.6 266.8,124.0 265.7,124.3 264.5,124.6 263.2,124.8 261.9,125.0 260.7,125.2 259.5,125.2 258.5,125.2 257.5,125.2 256.6,125.1 255.8,124.9 255.0,124.6 254.2,124.3 253.5,123.9 252.8,123.5 252.2,123.0 251.7,122.5 251.3,122.0 250.9,121.4 250.7,120.8 250.5,120.2 250.4,119.4 250.4,118.7 250.4,117.9 250.5,117.1 250.7,116.3 250.9,115.5 251.1,114.7Z M251.7,114.8 251.9,114.2 252.3,113.5 252.6,112.9 253.0,112.3 253.5,111.7 254.0,111.2 254.5,110.6 255.1,110.1 255.7,109.7 256.3,109.3 257.0,109.0 257.8,108.7 258.7,108.4 259.6,108.2 260.5,108.0 261.4,107.9 262.3,107.8 263.2,107.7 264.1,107.7 264.9,107.7 265.7,107.8 266.5,107.9 267.3,108.0 268.1,108.2 268.9,108.4 269.7,108.6 270.3,108.9 271.0,109.3 271.5,109.6 271.9,110.1 272.3,110.6 272.6,111.2 272.8,111.9 273.0,112.6 273.1,113.4 273.2,114.2 273.1,114.9 273.1,115.7 272.9,116.4 272.7,117.1 272.4,117.8 272.1,118.4 271.7,119.1 271.2,119.7 270.7,120.4 270.1,121.0 269.4,121.5 268.7,122.1 268.0,122.5 267.3,122.9 266.4,123.3 265.5,123.6 264.4,123.9 263.3,124.2 262.2,124.4 261.1,124.6 260.0,124.7 258.9,124.8 258.0,124.8 257.1,124.7 256.3,124.6 255.6,124.5 254.9,124.2 254.2,123.9 253.5,123.6 253.0,123.2 252.4,122.8 252.0,122.4 251.6,121.9 251.3,121.4 251.0,120.9 250.9,120.3 250.8,119.6 250.8,118.9 250.8,118.2 250.9,117.5 251.0,116.8 251.2,116.1 251.4,115.4Z M251.9,115.4 252.2,114.9 252.4,114.3 252.8,113.8 253.1,113.2 253.5,112.7 254.0,112.2 254.5,111.7 255.0,111.3 255.5,110.9 256.1,110.6 256.7,110.3 257.4,110.0 258.2,109.8 259.0,109.6 259.8,109.4 260.6,109.3 261.4,109.2 262.2,109.2 263.0,109.2 263.7,109.2 264.4,109.2 265.2,109.3 265.9,109.4 266.6,109.6 267.3,109.7 268.0,110.0 268.6,110.2 269.1,110.5 269.6,110.9 270.0,111.3 270.3,111.7 270.6,112.3 270.8,112.9 270.9,113.5 271.0,114.2 271.1,114.9 271.1,115.6 271.0,116.3 270.9,116.9 270.7,117.5 270.4,118.1 270.1,118.7 269.8,119.3 269.3,119.9 268.9,120.4 268.3,121.0 267.8,121.5 267.2,121.9 266.5,122.4 265.8,122.7 265.1,123.1 264.2,123.4 263.3,123.6 262.3,123.9 261.3,124.1 260.3,124.2 259.3,124.3 258.4,124.4 257.5,124.4 256.8,124.3 256.1,124.2 255.4,124.1 254.8,123.9 254.2,123.6 253.6,123.3 253.1,123.0 252.6,122.6 252.2,122.2 251.8,121.8 251.6,121.3 251.4,120.9 251.2,120.3 251.1,119.8 251.1,119.1 251.2,118.5 251.2,117.9 251.4,117.2 251.5,116.6 251.7,116.0Z M252.2,116.1 252.4,115.6 252.6,115.1 252.9,114.6 253.2,114.1 253.6,113.7 254.0,113.2 254.4,112.8 254.9,112.4 255.3,112.1 255.8,111.8 256.4,111.5 257.0,111.3 257.7,111.1 258.4,110.9 259.1,110.8 259.9,110.6 260.6,110.6 261.3,110.5 262.0,110.5 262.6,110.5 263.3,110.6 263.9,110.6 264.5,110.7 265.2,110.9 265.8,111.0 266.4,111.2 266.9,111.4 267.4,111.7 267.8,112.0 268.2,112.4 268.5,112.8 268.7,113.3 268.9,113.8 269.0,114.4 269.1,115.0 269.1,115.6 269.1,116.2 269.1,116.8 269.0,117.4 268.8,117.9 268.6,118.4 268.3,119.0 268.0,119.5 267.6,120.0 267.2,120.5 266.7,121.0 266.2,121.4 265.7,121.8 265.1,122.2 264.5,122.5 263.8,122.8 263.1,123.1 262.2,123.3 261.4,123.5 260.5,123.7 259.6,123.8 258.7,123.9 257.9,124.0 257.1,124.0 256.5,124.0 255.8,123.9 255.2,123.7 254.7,123.5 254.1,123.3 253.6,123.0 253.2,122.8 252.8,122.4 252.4,122.1 252.1,121.7 251.8,121.3 251.7,120.9 251.5,120.4 251.5,119.9 251.4,119.4 251.5,118.8 251.5,118.2 251.7,117.7 251.8,117.1 252.0,116.6Z M252.4,116.7 252.6,116.2 252.8,115.8 253.0,115.4 253.3,115.0 253.6,114.6 254.0,114.2 254.4,113.8 254.8,113.4 255.2,113.1 255.6,112.9 256.1,112.6 256.7,112.4 257.2,112.3 257.9,112.1 258.5,112.0 259.1,111.9 259.8,111.8 260.4,111.8 261.0,111.8 261.6,111.8 262.1,111.8 262.7,111.9 263.3,112.0 263.8,112.1 264.4,112.2 264.9,112.4 265.3,112.6 265.8,112.8 266.1,113.1 266.5,113.4 266.7,113.8 266.9,114.2 267.1,114.7 267.2,115.2 267.3,115.7 267.3,116.2 267.3,116.8 267.2,117.3 267.1,117.8 267.0,118.3 266.8,118.7 266.6,119.2 266.3,119.7 265.9,120.1 265.6,120.5 265.2,121.0 264.7,121.4 264.2,121.7 263.7,122.1 263.2,122.4 262.6,122.6 262.0,122.8 261.2,123.0 260.5,123.2 259.7,123.4 258.9,123.5 258.2,123.6 257.4,123.6 256.8,123.6 256.2,123.6 255.6,123.5 255.1,123.4 254.6,123.2 254.1,123.0 253.7,122.8 253.3,122.5 252.9,122.2 252.6,121.9 252.3,121.6 252.1,121.3 251.9,120.9 251.8,120.5 251.8,120.0 251.8,119.6 251.8,119.1 251.8,118.6 251.9,118.1 252.1,117.6 252.2,117.1Z M252.6,117.2 252.8,116.9 253.0,116.5 253.2,116.1 253.4,115.8 253.7,115.4 254.0,115.1 254.3,114.7 254.7,114.5 255.0,114.2 255.4,114.0 255.8,113.8 256.3,113.6 256.8,113.4 257.4,113.3 257.9,113.2 258.5,113.1 259.0,113.1 259.6,113.0 260.1,113.0 260.6,113.0 261.1,113.0 261.5,113.1 262.0,113.2 262.5,113.3 263.0,113.4 263.4,113.5 263.8,113.7 264.2,113.9 264.5,114.2 264.8,114.4 265.0,114.7 265.2,115.1 265.3,115.5 265.4,115.9 265.5,116.4 265.5,116.9 265.5,117.3 265.5,117.8 265.4,118.2 265.3,118.7 265.1,119.0 264.9,119.4 264.6,119.8 264.4,120.2 264.0,120.6 263.7,121.0 263.3,121.3 262.9,121.6 262.4,121.9 262.0,122.2 261.5,122.4 260.9,122.6 260.3,122.8 259.6,122.9 258.9,123.1 258.3,123.2 257.6,123.2 257.0,123.3 256.4,123.3 255.9,123.3 255.4,123.2 254.9,123.1 254.5,122.9 254.1,122.8 253.7,122.6 253.4,122.3 253.1,122.1 252.8,121.8 252.5,121.5 252.4,121.2 252.2,120.9 252.1,120.6 252.1,120.2 252.1,119.7 252.1,119.3 252.1,118.9 252.2,118.5 252.3,118.0 252.4,117.6Z M252.8,117.8 252.9,117.5 253.1,117.2 253.3,116.9 253.5,116.5 253.7,116.2 254.0,115.9 254.3,115.7 254.6,115.4 254.9,115.2 255.2,115.0 255.6,114.8 256.0,114.7 256.4,114.5 256.9,114.4 257.3,114.3 257.8,114.3 258.3,114.2 258.7,114.2 259.2,114.2 259.6,114.2 260.0,114.2 260.4,114.3 260.8,114.3 261.3,114.4 261.6,114.5 262.0,114.7 262.4,114.8 262.7,115.0 263.0,115.2 263.2,115.4 263.4,115.7 263.5,116.0 263.7,116.3 263.7,116.7 263.8,117.1 263.8,117.5 263.8,117.9 263.8,118.3 263.7,118.7 263.6,119.0 263.5,119.3 263.3,119.7 263.1,120.0 262.8,120.3 262.6,120.7 262.2,121.0 261.9,121.3 261.6,121.5 261.2,121.8 260.8,122.0 260.4,122.2 259.9,122.4 259.3,122.5 258.8,122.6 258.2,122.8 257.6,122.8 257.1,122.9 256.5,122.9 256.0,122.9 255.6,122.9 255.2,122.9 254.8,122.8 254.4,122.7 254.1,122.5 253.8,122.3 253.5,122.1 253.2,121.9 253.0,121.7 252.8,121.5 252.6,121.2 252.5,120.9 252.4,120.6 252.4,120.3 252.3,119.9 252.4,119.6 252.4,119.2 252.5,118.8 252.6,118.5 252.7,118.1Z" fill="none" stroke="#dc1f22" stroke-width="1.0" opacity="1.0" clip-path="url(#clipA2)"/>
<ellipse cx="259.9" cy="87.9" rx="2.6" ry="3.9" fill="none" stroke="#dc1f22" stroke-width="1.05"/>
<ellipse cx="259.6" cy="119" rx="9.6" ry="8.2" fill="none" stroke="#dc1f22" stroke-width="1.5"/>
<ellipse cx="263.2" cy="118.6" rx="8.6" ry="7.0" fill="#2a2a96" fill-opacity="0.95"/>
<ellipse cx="263.6" cy="118.6" rx="9.4" ry="7.6" fill="none" stroke="#2a2a96" stroke-width="0.8"/>
<ellipse cx="258.4" cy="118.6" rx="7.3" ry="6.9" fill="#22b83e" clip-path="url(#clipA2)" />
<path d="M122.2,284.6 122.4,284.6 122.5,284.6 122.7,284.6 122.9,284.6 123.0,284.7 123.2,284.7 123.4,284.8 123.5,284.9 123.7,285.0 123.9,285.1 124.1,285.2 124.3,285.3 124.6,285.5 124.8,285.7 125.0,285.8 125.2,286.0 125.5,286.2 125.7,286.4 125.9,286.6 126.1,286.8 126.3,287.0 126.5,287.3 126.7,287.5 126.9,287.8 127.1,288.0 127.3,288.3 127.5,288.5 127.6,288.8 127.7,289.0 127.9,289.2 127.9,289.5 128.0,289.7 128.1,289.9 128.1,290.1 128.1,290.4 128.2,290.6 128.2,290.8 128.1,291.0 128.1,291.2 128.1,291.4 128.0,291.6 128.0,291.8 127.9,292.0 127.8,292.2 127.7,292.4 127.6,292.6 127.4,292.8 127.3,293.0 127.1,293.2 127.0,293.4 126.8,293.5 126.7,293.7 126.5,293.8 126.4,293.9 126.2,294.1 126.0,294.2 125.8,294.3 125.5,294.4 125.2,294.6 124.8,294.7 124.3,294.8 123.7,295.0 123.0,295.2 122.3,295.4 121.6,295.6 120.8,295.8 120.1,295.9 119.3,296.0 118.6,296.0 117.9,296.0 117.3,295.8 116.5,295.6 115.8,295.3 115.1,295.0 114.4,294.6 113.7,294.3 113.1,293.9 112.6,293.5 112.2,293.2 111.9,292.9 111.8,292.6 111.7,292.3 111.8,292.1 111.9,291.8 112.1,291.6 112.3,291.3 112.6,291.1 112.9,290.9 113.1,290.7 113.4,290.5 113.6,290.3 113.8,290.1 114.1,290.0 114.4,289.8 114.7,289.7 115.0,289.6 115.3,289.4 115.6,289.3 115.8,289.2 116.1,289.0 116.3,288.9 116.5,288.7 116.7,288.5 116.9,288.3 117.1,288.2 117.3,288.0 117.5,287.8 117.7,287.6 117.8,287.4 118.0,287.3 118.2,287.1 118.4,286.9 118.6,286.7 118.8,286.4 119.0,286.2 119.2,286.0 119.4,285.8 119.6,285.6 119.8,285.5 120.0,285.3 120.2,285.2 120.4,285.1 120.6,285.0 120.9,284.9 121.1,284.8 121.3,284.7 121.5,284.7 121.8,284.6 122.0,284.6Z" fill="#d82020" fill-opacity="0.6" stroke="none" clip-path="url(#clipA3)"/>
<path d="M122.7,267.5 123.5,267.5 124.2,267.5 125.0,267.6 125.7,267.7 126.4,267.9 127.0,268.1 127.7,268.4 128.5,268.7 129.2,269.1 130.0,269.5 130.8,270.0 131.7,270.6 132.7,271.2 133.6,271.9 134.5,272.6 135.5,273.4 136.4,274.2 137.4,275.1 138.3,275.9 139.1,276.8 139.9,277.7 140.8,278.6 141.6,279.6 142.5,280.6 143.3,281.7 144.0,282.7 144.7,283.8 145.4,284.8 145.9,285.8 146.4,286.8 146.8,287.8 147.1,288.7 147.3,289.6 147.5,290.6 147.6,291.5 147.6,292.4 147.6,293.3 147.6,294.2 147.5,295.0 147.3,295.9 147.1,296.8 146.8,297.6 146.5,298.5 146.1,299.3 145.6,300.2 145.1,301.0 144.6,301.8 144.0,302.6 143.4,303.3 142.7,304.0 142.1,304.7 141.5,305.3 140.9,305.8 140.3,306.4 139.6,306.9 138.9,307.4 137.9,307.9 136.7,308.5 135.3,309.0 133.6,309.5 131.5,310.1 129.1,310.9 126.3,311.7 123.4,312.5 120.3,313.3 117.1,314.0 113.9,314.5 110.8,314.9 107.8,315.0 105.0,314.8 102.2,314.2 99.3,313.4 96.3,312.2 93.3,310.8 90.3,309.4 87.6,307.8 85.1,306.2 83.0,304.7 81.2,303.2 80.0,302.0 79.3,300.9 79.1,299.8 79.4,298.7 79.9,297.6 80.7,296.6 81.7,295.6 82.8,294.6 84.0,293.7 85.0,292.8 86.0,292.0 86.9,291.2 88.0,290.5 89.1,289.9 90.3,289.3 91.5,288.8 92.7,288.2 94.0,287.7 95.2,287.1 96.3,286.5 97.3,285.9 98.2,285.2 99.1,284.5 100.0,283.8 100.8,283.1 101.6,282.4 102.4,281.6 103.1,280.9 103.9,280.1 104.7,279.4 105.5,278.6 106.3,277.8 107.1,276.9 107.9,276.1 108.7,275.2 109.5,274.3 110.3,273.4 111.1,272.6 111.9,271.8 112.7,271.1 113.6,270.5 114.5,270.0 115.4,269.5 116.3,269.1 117.3,268.7 118.2,268.4 119.1,268.1 120.1,267.9 121.0,267.7 121.9,267.6Z M122.6,269.3 123.4,269.2 124.1,269.3 124.7,269.3 125.4,269.4 126.0,269.6 126.6,269.8 127.3,270.0 128.0,270.3 128.6,270.7 129.4,271.1 130.2,271.6 131.0,272.1 131.8,272.7 132.7,273.3 133.6,274.0 134.4,274.7 135.3,275.5 136.2,276.2 137.0,277.0 137.8,277.8 138.5,278.7 139.3,279.5 140.1,280.4 140.9,281.4 141.6,282.3 142.3,283.3 143.0,284.3 143.6,285.2 144.1,286.2 144.5,287.0 144.8,287.9 145.1,288.8 145.3,289.7 145.5,290.5 145.6,291.4 145.6,292.2 145.6,293.0 145.6,293.8 145.5,294.6 145.3,295.4 145.1,296.2 144.9,297.0 144.6,297.8 144.2,298.6 143.8,299.4 143.3,300.1 142.8,300.9 142.3,301.6 141.7,302.3 141.1,302.9 140.5,303.5 140.0,304.1 139.4,304.6 138.9,305.1 138.3,305.6 137.5,306.1 136.7,306.5 135.6,307.0 134.3,307.5 132.7,308.0 130.8,308.6 128.5,309.2 126.0,310.0 123.3,310.7 120.4,311.5 117.5,312.1 114.6,312.6 111.7,313.0 108.9,313.1 106.3,312.9 103.8,312.3 101.0,311.5 98.3,310.5 95.5,309.2 92.8,307.8 90.3,306.4 88.0,304.9 86.0,303.5 84.4,302.2 83.3,301.1 82.6,300.0 82.5,299.0 82.7,298.0 83.2,297.0 84.0,296.1 84.9,295.1 85.9,294.3 86.9,293.4 87.9,292.6 88.8,291.8 89.7,291.1 90.6,290.5 91.7,289.9 92.8,289.4 93.9,288.9 95.0,288.4 96.2,287.9 97.2,287.4 98.3,286.8 99.2,286.2 100.1,285.6 100.9,285.0 101.7,284.3 102.5,283.6 103.2,283.0 103.9,282.3 104.6,281.6 105.3,280.9 106.0,280.2 106.8,279.5 107.5,278.8 108.3,278.0 109.0,277.2 109.7,276.3 110.5,275.5 111.2,274.7 111.9,273.9 112.7,273.2 113.5,272.6 114.3,272.0 115.1,271.5 115.9,271.1 116.8,270.7 117.6,270.4 118.5,270.1 119.4,269.8 120.2,269.6 121.1,269.4 121.9,269.3Z M122.6,271.0 123.3,271.0 123.9,271.0 124.5,271.1 125.1,271.2 125.7,271.3 126.3,271.5 126.8,271.7 127.4,272.0 128.1,272.3 128.8,272.7 129.5,273.1 130.2,273.6 131.0,274.1 131.8,274.7 132.6,275.4 133.4,276.0 134.2,276.7 135.0,277.4 135.7,278.1 136.4,278.9 137.1,279.6 137.8,280.4 138.6,281.2 139.3,282.1 139.9,283.0 140.6,283.9 141.2,284.8 141.7,285.6 142.2,286.5 142.6,287.3 142.9,288.1 143.2,288.9 143.4,289.7 143.5,290.5 143.6,291.2 143.6,292.0 143.6,292.8 143.6,293.5 143.5,294.2 143.4,295.0 143.2,295.7 142.9,296.4 142.6,297.2 142.3,297.9 141.9,298.6 141.5,299.3 141.1,300.0 140.6,300.6 140.0,301.2 139.5,301.8 138.9,302.4 138.4,302.9 138.0,303.4 137.5,303.8 136.9,304.3 136.2,304.7 135.4,305.1 134.4,305.6 133.2,306.0 131.8,306.5 130.0,307.0 128.0,307.6 125.7,308.3 123.2,309.0 120.6,309.7 117.9,310.2 115.2,310.7 112.5,311.0 110.0,311.1 107.7,310.9 105.3,310.5 102.8,309.7 100.3,308.7 97.7,307.6 95.3,306.3 93.0,305.0 90.9,303.7 89.0,302.4 87.6,301.2 86.6,300.1 86.0,299.2 85.8,298.2 86.0,297.3 86.5,296.4 87.2,295.6 88.0,294.7 88.9,293.9 89.9,293.1 90.8,292.4 91.6,291.7 92.4,291.0 93.3,290.5 94.2,289.9 95.2,289.4 96.3,289.0 97.3,288.5 98.3,288.1 99.3,287.6 100.3,287.1 101.2,286.5 102.0,286.0 102.7,285.4 103.4,284.8 104.1,284.2 104.8,283.6 105.4,282.9 106.1,282.3 106.7,281.7 107.4,281.0 108.1,280.4 108.8,279.7 109.4,279.0 110.1,278.2 110.8,277.5 111.4,276.7 112.1,276.0 112.8,275.3 113.5,274.6 114.2,274.1 114.9,273.5 115.7,273.1 116.4,272.7 117.2,272.3 118.0,272.0 118.8,271.7 119.6,271.5 120.4,271.3 121.1,271.2 121.9,271.1Z M122.5,272.8 123.1,272.7 123.7,272.8 124.3,272.8 124.8,272.9 125.3,273.0 125.9,273.2 126.4,273.4 126.9,273.7 127.5,274.0 128.1,274.3 128.8,274.7 129.5,275.1 130.2,275.6 130.9,276.1 131.6,276.7 132.3,277.3 133.1,277.9 133.8,278.6 134.5,279.2 135.1,279.9 135.7,280.6 136.4,281.3 137.0,282.1 137.7,282.8 138.3,283.6 138.9,284.4 139.4,285.2 139.9,286.0 140.3,286.8 140.7,287.5 141.0,288.3 141.2,289.0 141.4,289.7 141.5,290.4 141.6,291.1 141.6,291.8 141.6,292.5 141.6,293.2 141.5,293.9 141.4,294.5 141.2,295.2 141.0,295.8 140.7,296.5 140.4,297.2 140.1,297.8 139.7,298.4 139.3,299.0 138.8,299.6 138.4,300.2 137.9,300.7 137.4,301.2 136.9,301.7 136.5,302.1 136.0,302.6 135.5,303.0 134.9,303.4 134.2,303.7 133.3,304.1 132.2,304.5 130.9,304.9 129.3,305.4 127.4,306.0 125.3,306.6 123.1,307.2 120.7,307.8 118.3,308.4 115.8,308.8 113.4,309.1 111.1,309.2 109.0,309.0 106.8,308.6 104.6,307.9 102.3,307.0 100.0,306.0 97.7,304.8 95.6,303.6 93.7,302.4 92.1,301.2 90.8,300.1 89.8,299.2 89.3,298.3 89.2,297.5 89.3,296.6 89.8,295.8 90.4,295.0 91.2,294.3 92.0,293.5 92.9,292.8 93.7,292.2 94.4,291.5 95.1,290.9 95.9,290.4 96.8,289.9 97.7,289.5 98.6,289.1 99.6,288.7 100.5,288.2 101.4,287.8 102.3,287.4 103.1,286.9 103.8,286.3 104.5,285.8 105.1,285.3 105.8,284.7 106.4,284.2 107.0,283.6 107.6,283.0 108.1,282.4 108.7,281.9 109.4,281.3 110.0,280.7 110.6,280.0 111.2,279.3 111.8,278.6 112.4,278.0 113.0,277.3 113.7,276.7 114.3,276.1 114.9,275.5 115.6,275.1 116.2,274.7 116.9,274.3 117.6,274.0 118.4,273.7 119.1,273.4 119.8,273.2 120.5,273.0 121.2,272.9 121.9,272.8Z M122.5,274.5 123.0,274.5 123.5,274.5 124.0,274.6 124.5,274.6 125.0,274.8 125.5,274.9 125.9,275.1 126.4,275.3 127.0,275.6 127.5,275.9 128.1,276.2 128.7,276.6 129.3,277.1 130.0,277.6 130.6,278.1 131.3,278.6 131.9,279.2 132.6,279.7 133.2,280.3 133.8,280.9 134.3,281.5 134.9,282.2 135.5,282.9 136.1,283.6 136.6,284.3 137.2,285.0 137.6,285.7 138.1,286.4 138.5,287.1 138.8,287.8 139.0,288.5 139.3,289.1 139.4,289.7 139.5,290.4 139.6,291.0 139.6,291.6 139.6,292.3 139.6,292.9 139.5,293.5 139.4,294.1 139.3,294.7 139.1,295.2 138.8,295.8 138.6,296.4 138.3,297.0 137.9,297.6 137.5,298.1 137.1,298.6 136.7,299.2 136.2,299.6 135.8,300.1 135.4,300.5 135.0,300.9 134.6,301.3 134.1,301.6 133.6,302.0 132.9,302.3 132.1,302.7 131.2,303.1 130.0,303.4 128.5,303.8 126.9,304.4 125.0,304.9 123.0,305.5 120.8,306.0 118.6,306.5 116.4,306.9 114.3,307.1 112.2,307.2 110.3,307.1 108.4,306.7 106.4,306.1 104.3,305.3 102.2,304.3 100.2,303.3 98.3,302.2 96.6,301.1 95.1,300.1 93.9,299.1 93.1,298.3 92.6,297.5 92.5,296.7 92.7,296.0 93.0,295.2 93.6,294.5 94.3,293.8 95.1,293.2 95.8,292.5 96.6,291.9 97.2,291.4 97.9,290.9 98.6,290.4 99.4,289.9 100.2,289.5 101.0,289.2 101.9,288.8 102.7,288.4 103.5,288.0 104.3,287.6 105.0,287.2 105.7,286.7 106.3,286.2 106.9,285.8 107.4,285.3 108.0,284.8 108.5,284.2 109.0,283.7 109.6,283.2 110.1,282.7 110.6,282.2 111.2,281.6 111.8,281.0 112.3,280.4 112.8,279.8 113.4,279.2 113.9,278.6 114.5,278.0 115.1,277.5 115.6,277.0 116.2,276.6 116.8,276.2 117.4,275.9 118.1,275.6 118.7,275.3 119.4,275.1 120.0,274.9 120.7,274.8 121.3,274.7 121.9,274.6Z M122.4,276.3 122.9,276.3 123.4,276.3 123.8,276.3 124.2,276.4 124.7,276.5 125.1,276.6 125.5,276.8 125.9,277.0 126.4,277.2 126.9,277.5 127.4,277.8 127.9,278.2 128.5,278.5 129.1,279.0 129.7,279.4 130.2,279.9 130.8,280.4 131.4,280.9 131.9,281.4 132.4,281.9 132.9,282.5 133.5,283.1 134.0,283.7 134.5,284.3 135.0,284.9 135.4,285.6 135.9,286.2 136.3,286.8 136.6,287.5 136.9,288.0 137.1,288.6 137.3,289.2 137.4,289.8 137.5,290.3 137.6,290.9 137.6,291.4 137.6,292.0 137.6,292.5 137.5,293.1 137.4,293.6 137.3,294.1 137.1,294.7 136.9,295.2 136.7,295.7 136.4,296.2 136.1,296.7 135.8,297.2 135.4,297.7 135.0,298.1 134.6,298.5 134.2,298.9 133.9,299.3 133.5,299.7 133.2,300.0 132.8,300.3 132.3,300.6 131.7,300.9 131.0,301.3 130.1,301.6 129.1,301.9 127.8,302.3 126.3,302.7 124.6,303.2 122.8,303.7 121.0,304.2 119.0,304.6 117.1,305.0 115.2,305.2 113.3,305.3 111.6,305.1 109.9,304.8 108.1,304.2 106.3,303.5 104.5,302.7 102.7,301.8 101.0,300.9 99.5,299.9 98.2,298.9 97.1,298.1 96.4,297.3 96.0,296.6 95.9,296.0 96.0,295.3 96.3,294.6 96.8,294.0 97.4,293.4 98.1,292.8 98.8,292.3 99.5,291.7 100.0,291.2 100.6,290.8 101.2,290.3 101.9,290.0 102.7,289.6 103.4,289.3 104.2,288.9 104.9,288.6 105.6,288.3 106.3,287.9 106.9,287.5 107.5,287.1 108.1,286.7 108.6,286.2 109.1,285.8 109.6,285.3 110.0,284.9 110.5,284.4 111.0,284.0 111.4,283.5 111.9,283.0 112.4,282.6 112.9,282.0 113.4,281.5 113.9,281.0 114.4,280.4 114.9,279.9 115.4,279.4 115.8,278.9 116.4,278.5 116.9,278.1 117.4,277.8 118.0,277.5 118.5,277.2 119.1,277.0 119.7,276.8 120.3,276.6 120.8,276.5 121.4,276.4 121.9,276.3Z M122.4,278.0 122.8,278.0 123.2,278.0 123.6,278.1 123.9,278.1 124.3,278.2 124.7,278.3 125.1,278.5 125.4,278.7 125.8,278.9 126.3,279.1 126.7,279.4 127.2,279.7 127.7,280.0 128.2,280.4 128.7,280.8 129.2,281.2 129.7,281.6 130.2,282.1 130.6,282.5 131.1,283.0 131.5,283.5 132.0,284.0 132.4,284.5 132.9,285.0 133.3,285.6 133.7,286.1 134.1,286.7 134.4,287.2 134.7,287.8 135.0,288.3 135.2,288.8 135.3,289.3 135.5,289.8 135.6,290.3 135.6,290.8 135.6,291.3 135.6,291.7 135.6,292.2 135.5,292.7 135.5,293.1 135.3,293.6 135.2,294.1 135.0,294.5 134.8,295.0 134.6,295.4 134.3,295.8 134.0,296.3 133.7,296.7 133.4,297.1 133.0,297.4 132.7,297.8 132.4,298.1 132.1,298.4 131.7,298.7 131.4,299.0 131.0,299.3 130.5,299.5 129.8,299.8 129.1,300.1 128.2,300.4 127.1,300.7 125.8,301.1 124.3,301.5 122.7,302.0 121.1,302.4 119.4,302.8 117.7,303.1 116.0,303.2 114.4,303.3 113.0,303.2 111.5,302.9 109.9,302.4 108.3,301.8 106.7,301.1 105.2,300.3 103.7,299.5 102.4,298.6 101.2,297.8 100.3,297.0 99.7,296.4 99.3,295.8 99.2,295.2 99.3,294.6 99.6,294.0 100.0,293.5 100.6,293.0 101.2,292.5 101.8,292.0 102.3,291.5 102.8,291.1 103.3,290.7 103.9,290.3 104.5,290.0 105.1,289.6 105.8,289.4 106.4,289.1 107.1,288.8 107.7,288.5 108.3,288.2 108.9,287.8 109.4,287.5 109.8,287.1 110.3,286.7 110.7,286.3 111.1,285.9 111.6,285.5 112.0,285.2 112.4,284.7 112.8,284.3 113.2,283.9 113.7,283.5 114.1,283.1 114.5,282.6 114.9,282.1 115.3,281.6 115.8,281.2 116.2,280.7 116.6,280.3 117.1,279.9 117.5,279.6 118.0,279.3 118.5,279.1 119.0,278.9 119.5,278.7 120.0,278.5 120.5,278.3 121.0,278.2 121.5,278.1 121.9,278.1Z M122.3,279.8 122.7,279.8 123.0,279.8 123.3,279.8 123.7,279.9 124.0,279.9 124.3,280.0 124.6,280.2 124.9,280.3 125.3,280.5 125.6,280.7 126.0,280.9 126.4,281.2 126.8,281.5 127.3,281.8 127.7,282.1 128.1,282.5 128.6,282.8 129.0,283.2 129.4,283.6 129.8,284.0 130.1,284.4 130.5,284.8 130.9,285.3 131.3,285.8 131.7,286.2 132.0,286.7 132.3,287.2 132.6,287.6 132.9,288.1 133.1,288.5 133.2,289.0 133.4,289.4 133.5,289.8 133.6,290.3 133.6,290.7 133.6,291.1 133.6,291.5 133.6,291.9 133.6,292.3 133.5,292.7 133.4,293.1 133.3,293.5 133.1,293.9 132.9,294.2 132.7,294.6 132.5,295.0 132.3,295.4 132.0,295.7 131.7,296.0 131.4,296.4 131.1,296.7 130.8,296.9 130.6,297.2 130.3,297.4 130.0,297.7 129.7,297.9 129.2,298.1 128.7,298.4 128.0,298.6 127.3,298.9 126.3,299.1 125.2,299.5 124.0,299.8 122.6,300.2 121.2,300.6 119.8,300.9 118.3,301.1 116.9,301.3 115.6,301.4 114.3,301.3 113.0,301.0 111.7,300.6 110.3,300.1 108.9,299.5 107.6,298.8 106.4,298.1 105.3,297.4 104.3,296.7 103.5,296.0 102.9,295.4 102.6,294.9 102.5,294.4 102.6,293.9 102.9,293.5 103.3,293.0 103.7,292.5 104.2,292.1 104.7,291.7 105.2,291.3 105.7,290.9 106.1,290.6 106.6,290.2 107.1,290.0 107.6,289.7 108.2,289.4 108.7,289.2 109.3,289.0 109.8,288.7 110.3,288.4 110.8,288.1 111.2,287.8 111.6,287.5 112.0,287.2 112.4,286.9 112.7,286.5 113.1,286.2 113.4,285.9 113.8,285.5 114.1,285.2 114.5,284.8 114.9,284.5 115.2,284.1 115.6,283.7 116.0,283.3 116.3,282.9 116.7,282.5 117.1,282.1 117.4,281.7 117.8,281.4 118.2,281.1 118.6,280.9 119.0,280.7 119.4,280.5 119.8,280.3 120.3,280.2 120.7,280.1 121.1,280.0 121.5,279.9 121.9,279.8Z M122.3,281.5 122.6,281.5 122.8,281.5 123.1,281.6 123.4,281.6 123.6,281.7 123.9,281.8 124.2,281.9 124.4,282.0 124.7,282.1 125.0,282.3 125.3,282.5 125.7,282.7 126.0,282.9 126.4,283.2 126.7,283.5 127.1,283.8 127.4,284.1 127.8,284.4 128.1,284.7 128.4,285.0 128.7,285.4 129.1,285.7 129.4,286.1 129.7,286.5 130.0,286.9 130.3,287.3 130.5,287.7 130.8,288.1 131.0,288.4 131.2,288.8 131.3,289.2 131.4,289.5 131.5,289.9 131.6,290.2 131.6,290.6 131.6,290.9 131.6,291.2 131.6,291.6 131.6,291.9 131.5,292.2 131.4,292.5 131.3,292.9 131.2,293.2 131.1,293.5 130.9,293.8 130.7,294.1 130.5,294.4 130.3,294.7 130.0,295.0 129.8,295.3 129.5,295.5 129.3,295.7 129.1,296.0 128.9,296.2 128.6,296.4 128.3,296.6 128.0,296.7 127.5,296.9 127.0,297.1 126.4,297.3 125.6,297.6 124.7,297.8 123.6,298.1 122.5,298.5 121.4,298.8 120.2,299.0 119.0,299.2 117.8,299.4 116.7,299.4 115.6,299.3 114.6,299.1 113.5,298.8 112.3,298.3 111.2,297.8 110.1,297.3 109.1,296.7 108.1,296.1 107.3,295.5 106.7,295.0 106.2,294.5 106.0,294.1 105.9,293.7 106.0,293.3 106.2,292.9 106.5,292.5 106.9,292.1 107.3,291.7 107.7,291.4 108.1,291.1 108.5,290.8 108.8,290.5 109.2,290.2 109.6,290.0 110.1,289.8 110.5,289.5 111.0,289.3 111.5,289.1 111.9,288.9 112.3,288.7 112.7,288.5 113.1,288.2 113.4,287.9 113.7,287.7 114.0,287.4 114.3,287.1 114.6,286.9 114.9,286.6 115.2,286.3 115.5,286.0 115.8,285.7 116.1,285.4 116.4,285.1 116.7,284.8 117.0,284.4 117.3,284.1 117.6,283.8 117.9,283.5 118.2,283.2 118.5,282.9 118.8,282.7 119.2,282.5 119.5,282.3 119.9,282.1 120.2,282.0 120.6,281.9 120.9,281.8 121.3,281.7 121.6,281.6 121.9,281.6Z M122.2,283.3 122.4,283.3 122.7,283.3 122.9,283.3 123.1,283.4 123.3,283.4 123.5,283.5 123.7,283.5 123.9,283.6 124.1,283.8 124.4,283.9 124.6,284.0 124.9,284.2 125.2,284.4 125.5,284.6 125.7,284.8 126.0,285.1 126.3,285.3 126.6,285.6 126.8,285.8 127.1,286.1 127.3,286.3 127.6,286.6 127.8,286.9 128.1,287.2 128.3,287.5 128.6,287.8 128.8,288.1 129.0,288.5 129.1,288.8 129.3,289.0 129.4,289.3 129.5,289.6 129.5,289.9 129.6,290.2 129.6,290.4 129.6,290.7 129.6,291.0 129.6,291.2 129.6,291.5 129.5,291.8 129.5,292.0 129.4,292.3 129.3,292.5 129.2,292.8 129.0,293.0 128.9,293.3 128.7,293.5 128.6,293.7 128.4,294.0 128.2,294.2 128.0,294.4 127.8,294.6 127.6,294.7 127.5,294.9 127.3,295.0 127.0,295.2 126.7,295.3 126.4,295.5 126.0,295.7 125.5,295.8 124.8,296.0 124.1,296.2 123.3,296.5 122.4,296.7 121.5,296.9 120.5,297.1 119.6,297.3 118.7,297.4 117.8,297.5 116.9,297.4 116.1,297.2 115.2,297.0 114.3,296.6 113.4,296.2 112.6,295.8 111.7,295.3 111.0,294.8 110.4,294.4 109.9,293.9 109.5,293.6 109.3,293.2 109.2,292.9 109.3,292.6 109.5,292.3 109.7,292.0 110.0,291.7 110.3,291.4 110.7,291.1 111.0,290.8 111.3,290.6 111.5,290.4 111.9,290.2 112.2,290.0 112.5,289.8 112.9,289.6 113.3,289.5 113.6,289.3 114.0,289.1 114.3,289.0 114.6,288.8 114.9,288.6 115.2,288.4 115.4,288.2 115.7,287.9 115.9,287.7 116.2,287.5 116.4,287.3 116.6,287.1 116.8,286.8 117.1,286.6 117.3,286.4 117.6,286.1 117.8,285.8 118.0,285.6 118.3,285.3 118.5,285.1 118.8,284.8 119.0,284.6 119.2,284.4 119.5,284.2 119.8,284.0 120.0,283.9 120.3,283.8 120.6,283.7 120.9,283.6 121.1,283.5 121.4,283.4 121.7,283.4 122.0,283.3Z M122.2,285.1 122.3,285.0 122.5,285.0 122.7,285.1 122.8,285.1 123.0,285.1 123.1,285.2 123.3,285.2 123.4,285.3 123.6,285.4 123.8,285.5 123.9,285.6 124.1,285.7 124.3,285.9 124.6,286.0 124.8,286.2 125.0,286.4 125.2,286.5 125.4,286.7 125.6,286.9 125.8,287.1 125.9,287.3 126.1,287.5 126.3,287.7 126.5,287.9 126.7,288.2 126.8,288.4 127.0,288.6 127.1,288.9 127.3,289.1 127.4,289.3 127.5,289.5 127.5,289.7 127.6,289.9 127.6,290.1 127.6,290.3 127.6,290.5 127.6,290.7 127.6,290.9 127.6,291.1 127.6,291.3 127.5,291.5 127.5,291.7 127.4,291.9 127.3,292.1 127.2,292.2 127.1,292.4 127.0,292.6 126.8,292.8 126.7,292.9 126.6,293.1 126.4,293.2 126.3,293.4 126.2,293.5 126.0,293.6 125.9,293.7 125.7,293.8 125.5,293.9 125.2,294.1 124.9,294.2 124.6,294.3 124.1,294.4 123.6,294.6 123.0,294.8 122.3,295.0 121.6,295.1 120.9,295.3 120.2,295.4 119.5,295.5 118.9,295.5 118.3,295.5 117.6,295.3 117.0,295.1 116.3,294.9 115.7,294.6 115.0,294.3 114.4,293.9 113.9,293.6 113.4,293.2 113.0,292.9 112.8,292.6 112.6,292.4 112.6,292.1 112.6,291.9 112.7,291.7 112.9,291.4 113.1,291.2 113.4,291.0 113.6,290.8 113.9,290.6 114.1,290.4 114.3,290.3 114.5,290.1 114.8,290.0 115.0,289.9 115.3,289.7 115.6,289.6 115.8,289.5 116.1,289.4 116.3,289.2 116.6,289.1 116.8,288.9 117.0,288.8 117.2,288.6 117.3,288.5 117.5,288.3 117.7,288.2 117.9,288.0 118.0,287.8 118.2,287.7 118.4,287.5 118.5,287.3 118.7,287.1 118.9,286.9 119.1,286.7 119.2,286.5 119.4,286.4 119.6,286.2 119.8,286.0 120.0,285.8 120.2,285.7 120.3,285.6 120.5,285.5 120.7,285.4 121.0,285.3 121.2,285.2 121.4,285.2 121.6,285.1 121.8,285.1 122.0,285.1Z" fill="none" stroke="#d82020" stroke-width="1.2" opacity="1.0" clip-path="url(#clipA3)"/>
<path d="M74.7,307.8 74.9,306.9 75.3,306.0 75.9,305.1 76.7,304.1 77.6,303.2 78.7,302.2 79.8,301.2 81.1,300.2 82.5,299.3 84.0,298.4 85.6,297.5 87.5,296.6 89.4,295.6 91.6,294.7 93.8,293.8 96.0,292.9 98.3,292.1 100.6,291.4 102.8,290.7 105.0,290.2 107.2,289.7 109.5,289.3 111.8,289.0 114.2,288.7 116.5,288.4 118.8,288.3 120.9,288.2 122.9,288.2 124.6,288.4 126.0,288.6 127.2,288.9 128.1,289.4 128.9,289.9 129.5,290.5 130.0,291.2 130.3,292.0 130.5,292.9 130.6,293.9 130.6,294.9 130.5,296.0 130.4,297.3 130.1,298.7 129.8,300.3 129.3,302.1 128.7,303.8 128.0,305.6 127.2,307.2 126.3,308.8 125.2,310.2 124.0,311.3 122.6,312.2 121.1,313.0 119.4,313.7 117.5,314.2 115.5,314.7 113.5,315.0 111.4,315.3 109.3,315.6 107.1,315.8 105.0,316.0 102.8,316.2 100.4,316.3 97.8,316.3 95.2,316.3 92.6,316.2 90.1,316.1 87.6,315.9 85.4,315.7 83.4,315.4 81.7,315.0 80.3,314.5 79.0,314.0 77.9,313.4 76.9,312.7 76.2,311.9 75.5,311.1 75.1,310.3 74.8,309.5 74.7,308.6Z M76.9,307.6 77.1,306.8 77.5,306.0 78.0,305.1 78.7,304.2 79.6,303.3 80.5,302.4 81.6,301.5 82.9,300.6 84.1,299.7 85.5,298.9 87.0,298.0 88.7,297.2 90.6,296.3 92.6,295.4 94.6,294.6 96.7,293.8 98.9,293.0 101.0,292.3 103.1,291.7 105.1,291.2 107.1,290.8 109.2,290.4 111.4,290.1 113.6,289.8 115.8,289.6 117.9,289.4 119.9,289.4 121.7,289.4 123.3,289.5 124.6,289.7 125.7,290.1 126.6,290.5 127.3,291.0 127.9,291.5 128.3,292.2 128.6,292.9 128.8,293.8 128.9,294.6 128.9,295.6 128.8,296.6 128.7,297.8 128.4,299.2 128.1,300.7 127.7,302.3 127.1,303.9 126.5,305.5 125.7,307.1 124.9,308.5 123.9,309.8 122.8,310.9 121.5,311.7 120.0,312.5 118.4,313.1 116.7,313.6 114.9,314.0 113.0,314.3 111.0,314.6 109.0,314.9 107.1,315.1 105.1,315.2 103.0,315.4 100.7,315.5 98.4,315.5 96.0,315.5 93.5,315.5 91.2,315.3 88.9,315.2 86.8,314.9 85.0,314.7 83.4,314.3 82.0,313.9 80.9,313.4 79.8,312.8 79.0,312.1 78.2,311.4 77.7,310.7 77.2,309.9 77.0,309.2 76.8,308.4Z M78.7,307.4 78.9,306.7 79.3,305.9 79.8,305.1 80.5,304.3 81.3,303.4 82.2,302.5 83.2,301.7 84.3,300.9 85.6,300.0 86.8,299.3 88.3,298.5 89.8,297.7 91.6,296.9 93.4,296.0 95.3,295.3 97.3,294.5 99.3,293.8 101.3,293.2 103.3,292.6 105.1,292.1 107.0,291.7 109.0,291.3 111.1,291.0 113.1,290.8 115.2,290.6 117.1,290.4 119.0,290.4 120.7,290.4 122.2,290.5 123.4,290.7 124.4,291.0 125.3,291.4 125.9,291.9 126.5,292.4 126.9,293.0 127.1,293.7 127.3,294.5 127.4,295.3 127.4,296.2 127.3,297.2 127.2,298.3 127.0,299.5 126.7,300.9 126.3,302.4 125.8,304.0 125.2,305.5 124.5,307.0 123.7,308.3 122.7,309.5 121.7,310.5 120.5,311.3 119.1,312.0 117.6,312.5 116.0,313.0 114.3,313.4 112.5,313.7 110.7,314.0 108.9,314.2 107.0,314.4 105.1,314.6 103.2,314.7 101.1,314.8 98.9,314.9 96.6,314.8 94.3,314.8 92.1,314.7 90.0,314.5 88.0,314.3 86.3,314.0 84.8,313.7 83.6,313.3 82.5,312.8 81.5,312.3 80.7,311.7 80.0,311.0 79.5,310.3 79.1,309.6 78.8,308.9 78.7,308.2Z M80.5,307.3 80.7,306.6 81.0,305.8 81.5,305.1 82.1,304.3 82.9,303.5 83.7,302.7 84.7,301.9 85.8,301.1 86.9,300.4 88.1,299.6 89.4,298.9 90.9,298.1 92.5,297.4 94.2,296.6 96.0,295.9 97.9,295.2 99.8,294.5 101.6,293.9 103.4,293.4 105.2,293.0 107.0,292.6 108.8,292.2 110.7,291.9 112.7,291.7 114.6,291.5 116.4,291.4 118.1,291.3 119.7,291.4 121.1,291.5 122.3,291.7 123.2,291.9 124.0,292.3 124.6,292.7 125.1,293.2 125.5,293.8 125.8,294.5 125.9,295.2 126.0,295.9 126.0,296.8 125.9,297.7 125.8,298.7 125.6,299.9 125.3,301.2 125.0,302.6 124.5,304.0 123.9,305.5 123.3,306.8 122.5,308.1 121.6,309.2 120.6,310.1 119.5,310.9 118.3,311.5 116.9,312.1 115.4,312.5 113.8,312.9 112.1,313.2 110.4,313.4 108.7,313.6 106.9,313.8 105.2,314.0 103.4,314.1 101.4,314.2 99.3,314.2 97.2,314.2 95.1,314.2 93.0,314.1 91.0,313.9 89.2,313.7 87.6,313.4 86.2,313.1 85.1,312.8 84.0,312.3 83.1,311.8 82.4,311.2 81.7,310.6 81.2,310.0 80.8,309.3 80.6,308.6 80.5,308.0Z M82.2,307.1 82.4,306.5 82.7,305.8 83.2,305.1 83.8,304.3 84.4,303.6 85.2,302.9 86.1,302.1 87.1,301.4 88.2,300.7 89.3,300.0 90.5,299.3 91.9,298.6 93.4,297.9 95.0,297.2 96.7,296.5 98.4,295.9 100.2,295.2 101.9,294.7 103.6,294.2 105.2,293.8 106.9,293.4 108.6,293.1 110.4,292.8 112.2,292.6 114.0,292.4 115.7,292.3 117.3,292.3 118.8,292.3 120.1,292.4 121.2,292.6 122.1,292.8 122.8,293.1 123.4,293.5 123.8,294.0 124.2,294.6 124.4,295.2 124.6,295.8 124.6,296.6 124.6,297.3 124.6,298.2 124.5,299.1 124.3,300.2 124.0,301.5 123.7,302.8 123.2,304.1 122.7,305.4 122.1,306.7 121.4,307.9 120.6,308.9 119.7,309.8 118.6,310.5 117.4,311.1 116.1,311.6 114.7,312.0 113.2,312.3 111.7,312.6 110.1,312.8 108.5,313.0 106.9,313.2 105.2,313.3 103.5,313.5 101.7,313.5 99.8,313.6 97.8,313.6 95.8,313.5 93.9,313.4 92.1,313.3 90.4,313.1 88.8,312.9 87.6,312.6 86.5,312.2 85.5,311.8 84.7,311.3 84.0,310.8 83.4,310.3 82.9,309.7 82.5,309.0 82.3,308.4 82.2,307.8Z M83.9,307.0 84.1,306.4 84.4,305.7 84.8,305.1 85.3,304.4 86.0,303.7 86.7,303.0 87.5,302.3 88.5,301.6 89.4,301.0 90.5,300.3 91.6,299.7 92.9,299.1 94.3,298.4 95.8,297.7 97.4,297.1 99.0,296.5 100.6,295.9 102.2,295.4 103.8,294.9 105.3,294.6 106.8,294.2 108.4,293.9 110.1,293.7 111.8,293.5 113.4,293.3 115.0,293.2 116.5,293.2 117.9,293.2 119.1,293.3 120.1,293.4 120.9,293.7 121.6,294.0 122.2,294.4 122.6,294.8 122.9,295.3 123.1,295.9 123.3,296.5 123.3,297.2 123.3,297.9 123.3,298.7 123.2,299.5 123.0,300.6 122.8,301.7 122.4,302.9 122.0,304.2 121.5,305.4 121.0,306.6 120.3,307.7 119.5,308.6 118.7,309.4 117.7,310.1 116.6,310.6 115.4,311.1 114.1,311.5 112.7,311.8 111.3,312.1 109.8,312.3 108.3,312.5 106.8,312.6 105.3,312.8 103.7,312.9 102.0,312.9 100.2,313.0 98.4,313.0 96.6,312.9 94.8,312.8 93.0,312.7 91.5,312.5 90.1,312.3 88.9,312.1 87.9,311.7 87.0,311.3 86.2,310.9 85.5,310.4 85.0,309.9 84.5,309.3 84.2,308.7 84.0,308.2 83.9,307.6Z M85.6,306.8 85.7,306.3 86.0,305.7 86.4,305.1 86.9,304.4 87.5,303.8 88.2,303.2 88.9,302.5 89.8,301.9 90.7,301.3 91.6,300.7 92.7,300.1 93.9,299.5 95.2,298.9 96.6,298.3 98.0,297.7 99.5,297.1 101.0,296.6 102.5,296.1 103.9,295.7 105.3,295.3 106.8,295.0 108.3,294.8 109.8,294.5 111.3,294.3 112.9,294.2 114.3,294.1 115.7,294.0 117.0,294.1 118.1,294.1 119.1,294.3 119.8,294.5 120.4,294.8 121.0,295.2 121.3,295.6 121.6,296.0 121.8,296.5 122.0,297.1 122.0,297.7 122.0,298.4 122.0,299.1 121.9,299.9 121.7,300.9 121.5,302.0 121.2,303.1 120.8,304.2 120.4,305.4 119.8,306.5 119.2,307.5 118.5,308.4 117.7,309.1 116.9,309.7 115.8,310.2 114.7,310.7 113.5,311.0 112.2,311.3 110.9,311.6 109.5,311.8 108.1,311.9 106.7,312.1 105.3,312.2 103.9,312.3 102.3,312.4 100.7,312.4 99.0,312.4 97.3,312.3 95.6,312.3 94.0,312.1 92.5,312.0 91.2,311.8 90.1,311.5 89.2,311.2 88.4,310.9 87.7,310.5 87.0,310.0 86.5,309.5 86.1,309.0 85.8,308.5 85.6,307.9 85.6,307.4Z M87.2,306.7 87.3,306.2 87.6,305.6 87.9,305.1 88.4,304.5 88.9,303.9 89.6,303.3 90.3,302.7 91.1,302.1 91.9,301.6 92.8,301.0 93.8,300.5 94.9,299.9 96.0,299.4 97.3,298.8 98.6,298.3 100.0,297.8 101.4,297.3 102.8,296.8 104.1,296.4 105.4,296.1 106.7,295.8 108.1,295.6 109.5,295.4 110.9,295.2 112.3,295.0 113.7,294.9 115.0,294.9 116.1,294.9 117.2,295.0 118.0,295.1 118.7,295.3 119.3,295.6 119.8,295.9 120.1,296.3 120.4,296.7 120.6,297.2 120.7,297.7 120.8,298.3 120.8,298.9 120.7,299.6 120.6,300.3 120.5,301.2 120.3,302.2 120.0,303.2 119.7,304.3 119.2,305.3 118.7,306.3 118.2,307.3 117.5,308.1 116.8,308.8 116.0,309.3 115.1,309.8 114.0,310.2 112.9,310.5 111.7,310.8 110.5,311.0 109.3,311.2 108.0,311.4 106.7,311.5 105.4,311.6 104.1,311.7 102.6,311.8 101.1,311.8 99.5,311.8 97.9,311.8 96.4,311.7 95.0,311.6 93.6,311.4 92.4,311.2 91.4,311.0 90.5,310.7 89.8,310.4 89.1,310.0 88.5,309.6 88.1,309.2 87.7,308.7 87.4,308.2 87.2,307.7 87.2,307.2Z M88.8,306.5 88.9,306.1 89.1,305.6 89.5,305.1 89.9,304.5 90.4,304.0 91.0,303.4 91.6,302.9 92.3,302.4 93.1,301.9 93.9,301.4 94.8,300.9 95.8,300.4 96.9,299.9 98.1,299.3 99.3,298.8 100.5,298.4 101.8,297.9 103.0,297.5 104.3,297.2 105.5,296.9 106.6,296.6 107.9,296.4 109.2,296.2 110.5,296.0 111.8,295.9 113.0,295.8 114.2,295.8 115.3,295.8 116.2,295.9 117.0,296.0 117.6,296.2 118.2,296.4 118.6,296.7 118.9,297.0 119.2,297.4 119.4,297.9 119.5,298.4 119.5,298.9 119.5,299.4 119.5,300.1 119.4,300.7 119.3,301.5 119.1,302.4 118.8,303.4 118.5,304.4 118.1,305.3 117.7,306.2 117.2,307.1 116.6,307.8 115.9,308.5 115.1,309.0 114.3,309.4 113.3,309.8 112.3,310.1 111.3,310.3 110.1,310.5 109.0,310.7 107.8,310.8 106.6,310.9 105.5,311.1 104.2,311.1 102.9,311.2 101.5,311.2 100.1,311.2 98.6,311.2 97.2,311.1 95.9,311.0 94.7,310.9 93.6,310.7 92.6,310.5 91.8,310.2 91.1,309.9 90.5,309.6 90.0,309.2 89.6,308.8 89.2,308.4 89.0,307.9 88.8,307.5 88.8,307.0Z" fill="none" stroke="#2a2a96" stroke-width="0.9" opacity="1.0" clip-path="url(#clipA3)"/>
<path d="M88.0,297.0 89.0,296.1 90.3,295.4 91.8,294.7 93.4,294.2 95.1,293.7 96.9,293.3 98.8,292.9 100.6,292.6 102.3,292.3 104.0,292.0 105.6,291.7 107.3,291.4 109.1,291.2 110.8,291.0 112.5,290.9 114.2,290.8 115.8,290.7 117.3,290.8 118.7,290.8 120.0,291.0 121.2,291.2 122.3,291.5 123.3,291.9 124.2,292.3 125.1,292.8 125.8,293.4 126.5,293.9 127.1,294.6 127.6,295.3 128.0,296.0 128.3,296.8 128.5,297.7 128.6,298.7 128.5,299.8 128.4,300.9 128.3,302.0 128.0,303.1 127.7,304.1 127.4,305.1 127.0,306.0 126.6,306.8 126.2,307.7 125.8,308.5 125.3,309.3 124.7,310.0 124.0,310.7 123.2,311.4 122.3,312.0 121.3,312.5 120.0,313.0 118.5,313.4 116.7,313.8 114.8,314.2 112.6,314.4 110.4,314.7 108.2,314.9 106.0,315.0 103.8,315.1 101.8,315.1 100.0,315.0 98.3,314.9 96.6,314.7 94.9,314.6 93.2,314.3 91.6,314.0 90.2,313.6 88.8,313.1 87.7,312.5 86.7,311.8 86.0,311.0 85.5,310.0 85.2,308.7 85.0,307.3 85.0,305.7 85.1,304.1 85.4,302.4 85.9,300.9 86.4,299.4 87.2,298.1Z" fill="#2a2a96" fill-opacity="0.88" clip-path="url(#clipA3)"/>
<ellipse cx="97.6" cy="309.6" rx="14.6" ry="6.5" fill="#22c13e" clip-path="url(#clipA3)"/>
<circle cx="111.5" cy="306.5" r="1.2" fill="#dc1f22"/>
<path d="M287.4,289.2 287.6,289.3 287.8,289.4 287.9,289.6 288.1,289.8 288.3,290.1 288.4,290.3 288.6,290.6 288.8,290.9 289.1,291.2 289.4,291.4 289.7,291.7 290.1,292.0 290.5,292.3 290.9,292.6 291.4,292.9 291.9,293.2 292.3,293.6 292.7,293.9 293.1,294.2 293.4,294.4 293.6,294.7 293.8,295.0 294.0,295.2 294.2,295.5 294.3,295.7 294.4,295.9 294.5,296.2 294.5,296.4 294.6,296.7 294.6,296.9 294.6,297.2 294.6,297.5 294.6,297.8 294.6,298.1 294.5,298.4 294.5,298.7 294.4,299.0 294.2,299.3 294.1,299.6 293.9,299.9 293.6,300.2 293.4,300.5 293.1,300.9 292.7,301.2 292.3,301.5 292.0,301.8 291.6,302.1 291.2,302.4 290.8,302.7 290.4,302.9 290.0,303.2 289.6,303.4 289.3,303.6 289.0,303.8 288.6,304.0 288.2,304.2 287.8,304.4 287.2,304.5 286.6,304.6 285.9,304.7 285.0,304.7 284.0,304.7 282.8,304.7 281.6,304.6 280.4,304.5 279.1,304.5 277.8,304.4 276.6,304.3 275.5,304.2 274.5,304.1 273.5,304.0 272.6,304.0 271.7,304.0 270.8,304.0 269.9,304.0 269.1,303.9 268.4,303.8 267.8,303.7 267.2,303.5 266.8,303.3 266.5,302.9 266.2,302.5 266.0,302.0 265.9,301.4 265.8,300.8 265.9,300.2 266.0,299.6 266.2,299.1 266.5,298.6 266.8,298.2 267.2,297.9 267.8,297.6 268.5,297.4 269.3,297.2 270.1,297.1 271.0,296.9 271.9,296.8 272.7,296.6 273.6,296.4 274.4,296.2 275.1,295.9 275.9,295.6 276.7,295.3 277.6,294.9 278.4,294.6 279.2,294.2 279.9,293.9 280.6,293.6 281.3,293.2 281.8,292.9 282.3,292.7 282.7,292.4 283.1,292.1 283.4,291.8 283.7,291.6 283.9,291.3 284.1,291.1 284.3,290.9 284.6,290.6 284.8,290.4 285.1,290.3 285.4,290.1 285.7,289.9 285.9,289.7 286.2,289.5 286.4,289.4 286.7,289.3 286.9,289.2 287.1,289.2Z" fill="#d82020" fill-opacity="0.6" stroke="none" clip-path="url(#clipA4)"/>
<path d="M290.3,270.5 291.0,270.7 291.5,271.2 292.1,271.7 292.6,272.4 293.1,273.2 293.6,274.0 294.2,274.9 294.9,275.8 295.6,276.7 296.5,277.5 297.5,278.3 298.7,279.3 300.1,280.2 301.5,281.2 302.9,282.2 304.3,283.1 305.7,284.1 306.9,285.1 308.1,286.0 309.0,286.9 309.8,287.7 310.4,288.5 311.0,289.3 311.5,290.1 311.9,290.8 312.2,291.5 312.5,292.3 312.7,293.1 312.8,293.9 312.9,294.7 313.0,295.6 313.0,296.5 312.9,297.4 312.8,298.3 312.7,299.2 312.4,300.2 312.1,301.2 311.7,302.1 311.2,303.1 310.6,304.0 309.9,305.0 309.0,305.9 308.0,306.9 307.0,307.9 305.8,308.9 304.6,309.9 303.4,310.9 302.1,311.8 300.9,312.6 299.6,313.4 298.4,314.1 297.3,314.9 296.3,315.6 295.3,316.2 294.1,316.9 292.9,317.4 291.5,317.9 289.8,318.3 287.9,318.7 285.6,318.9 282.9,319.0 279.7,319.0 276.1,318.9 272.4,318.7 268.4,318.4 264.4,318.2 260.5,317.8 256.7,317.5 253.2,317.2 250.0,317.0 247.0,316.8 244.1,316.8 241.2,316.7 238.4,316.7 235.8,316.6 233.3,316.5 231.1,316.3 229.1,315.9 227.4,315.3 226.0,314.5 224.9,313.4 224.1,312.0 223.5,310.4 223.1,308.6 223.0,306.8 223.1,304.9 223.5,303.1 224.1,301.4 224.9,299.9 226.0,298.6 227.4,297.6 229.2,296.8 231.4,296.1 233.8,295.6 236.3,295.1 239.0,294.6 241.8,294.2 244.5,293.6 247.1,293.0 249.6,292.3 252.0,291.4 254.5,290.5 257.1,289.5 259.6,288.4 262.2,287.3 264.7,286.3 267.0,285.2 269.2,284.1 271.2,283.1 273.0,282.2 274.5,281.3 275.8,280.4 276.9,279.6 277.8,278.7 278.7,277.9 279.4,277.1 280.1,276.4 280.8,275.7 281.6,275.0 282.4,274.4 283.3,273.8 284.1,273.2 284.9,272.6 285.7,272.0 286.6,271.5 287.3,271.1 288.1,270.7 288.9,270.5 289.6,270.4Z M289.9,272.9 290.5,273.1 291.1,273.5 291.6,274.0 292.0,274.6 292.5,275.3 293.0,276.1 293.5,276.9 294.1,277.7 294.8,278.5 295.6,279.3 296.5,280.1 297.6,280.9 298.8,281.8 300.1,282.6 301.4,283.5 302.7,284.4 304.0,285.3 305.1,286.2 306.1,287.1 307.0,287.9 307.7,288.6 308.3,289.4 308.8,290.1 309.2,290.8 309.6,291.4 309.9,292.1 310.1,292.8 310.3,293.5 310.5,294.2 310.5,295.0 310.6,295.8 310.6,296.6 310.6,297.4 310.5,298.3 310.3,299.1 310.1,300.0 309.8,300.9 309.5,301.8 309.0,302.6 308.4,303.5 307.8,304.3 307.0,305.2 306.1,306.2 305.1,307.1 304.1,308.0 303.0,308.9 301.9,309.7 300.7,310.6 299.6,311.3 298.4,312.1 297.3,312.7 296.3,313.4 295.4,314.0 294.4,314.6 293.4,315.2 292.3,315.7 291.0,316.2 289.5,316.6 287.7,316.9 285.6,317.1 283.1,317.2 280.2,317.2 277.0,317.1 273.6,316.9 270.0,316.7 266.3,316.4 262.7,316.1 259.3,315.8 256.1,315.6 253.2,315.3 250.4,315.2 247.7,315.1 245.1,315.1 242.6,315.1 240.2,315.0 237.9,314.9 235.9,314.7 234.1,314.3 232.5,313.8 231.2,313.1 230.3,312.1 229.5,310.8 229.0,309.3 228.6,307.7 228.5,306.0 228.6,304.3 229.0,302.6 229.5,301.1 230.3,299.7 231.2,298.5 232.5,297.6 234.2,296.9 236.1,296.3 238.3,295.8 240.7,295.3 243.2,294.9 245.7,294.5 248.1,294.0 250.5,293.5 252.8,292.8 255.0,292.0 257.3,291.1 259.6,290.2 262.0,289.3 264.3,288.3 266.5,287.3 268.7,286.3 270.7,285.3 272.5,284.4 274.1,283.6 275.5,282.8 276.7,282.0 277.7,281.2 278.6,280.4 279.3,279.7 280.0,279.0 280.6,278.3 281.3,277.6 282.0,277.0 282.7,276.5 283.5,275.9 284.3,275.4 285.0,274.8 285.8,274.3 286.5,273.8 287.2,273.4 287.9,273.1 288.6,272.9 289.3,272.8Z M289.5,275.3 290.1,275.5 290.6,275.9 291.0,276.3 291.4,276.9 291.9,277.5 292.3,278.2 292.8,278.9 293.3,279.7 293.9,280.4 294.7,281.1 295.5,281.8 296.5,282.5 297.6,283.3 298.8,284.1 299.9,284.9 301.1,285.7 302.2,286.6 303.3,287.3 304.2,288.1 305.0,288.8 305.6,289.5 306.2,290.2 306.6,290.8 307.0,291.5 307.3,292.1 307.6,292.7 307.8,293.3 308.0,293.9 308.1,294.6 308.2,295.3 308.2,296.0 308.3,296.7 308.2,297.5 308.1,298.3 308.0,299.0 307.8,299.8 307.6,300.6 307.2,301.4 306.8,302.2 306.3,302.9 305.7,303.7 305.0,304.5 304.2,305.4 303.3,306.2 302.4,307.0 301.4,307.8 300.4,308.6 299.3,309.4 298.3,310.1 297.2,310.7 296.2,311.3 295.4,311.9 294.5,312.5 293.6,313.0 292.7,313.6 291.7,314.0 290.5,314.4 289.2,314.8 287.6,315.1 285.7,315.2 283.4,315.3 280.8,315.3 277.9,315.2 274.7,315.1 271.5,314.9 268.2,314.6 265.0,314.4 261.8,314.1 258.9,313.9 256.3,313.7 253.8,313.5 251.4,313.5 249.0,313.4 246.7,313.4 244.6,313.4 242.5,313.3 240.7,313.1 239.0,312.7 237.6,312.3 236.5,311.6 235.6,310.7 234.9,309.6 234.4,308.2 234.1,306.8 234.0,305.2 234.1,303.7 234.4,302.2 234.9,300.8 235.6,299.5 236.5,298.5 237.7,297.7 239.2,297.0 240.9,296.5 242.9,296.0 245.0,295.6 247.3,295.2 249.5,294.8 251.8,294.4 253.9,293.9 256.0,293.3 258.0,292.6 260.0,291.8 262.1,291.0 264.3,290.1 266.4,289.2 268.4,288.3 270.3,287.4 272.2,286.6 273.8,285.7 275.3,285.0 276.5,284.2 277.6,283.5 278.5,282.8 279.3,282.1 280.0,281.4 280.6,280.8 281.2,280.2 281.7,279.6 282.4,279.0 283.0,278.5 283.7,278.0 284.4,277.5 285.1,277.0 285.8,276.6 286.5,276.2 287.1,275.8 287.7,275.5 288.4,275.3 289.0,275.3Z M289.2,277.7 289.7,277.9 290.1,278.2 290.5,278.6 290.9,279.1 291.2,279.7 291.6,280.3 292.1,280.9 292.6,281.6 293.1,282.3 293.7,282.9 294.5,283.5 295.4,284.2 296.4,284.9 297.4,285.6 298.5,286.3 299.5,287.0 300.5,287.8 301.5,288.5 302.3,289.2 303.0,289.8 303.5,290.4 304.0,291.0 304.4,291.6 304.8,292.1 305.1,292.7 305.3,293.2 305.5,293.8 305.7,294.4 305.8,295.0 305.8,295.6 305.9,296.2 305.9,296.9 305.9,297.5 305.8,298.2 305.7,298.9 305.5,299.6 305.3,300.3 305.0,301.0 304.6,301.7 304.1,302.4 303.6,303.1 303.0,303.9 302.3,304.6 301.5,305.3 300.6,306.1 299.7,306.8 298.8,307.5 297.9,308.2 297.0,308.8 296.0,309.4 295.2,309.9 294.4,310.4 293.6,311.0 292.8,311.4 292.0,311.9 291.1,312.3 290.0,312.7 288.8,313.0 287.4,313.2 285.7,313.4 283.7,313.5 281.3,313.5 278.7,313.4 275.9,313.3 273.0,313.1 270.1,312.9 267.2,312.6 264.4,312.4 261.8,312.2 259.4,312.0 257.3,311.9 255.1,311.8 253.0,311.8 250.9,311.8 249.0,311.7 247.1,311.6 245.5,311.5 244.0,311.2 242.8,310.8 241.8,310.2 241.0,309.4 240.3,308.3 239.9,307.2 239.6,305.8 239.6,304.5 239.6,303.1 239.9,301.8 240.4,300.5 241.0,299.4 241.8,298.4 242.8,297.7 244.1,297.1 245.7,296.6 247.5,296.2 249.4,295.9 251.4,295.5 253.4,295.2 255.4,294.8 257.3,294.3 259.2,293.8 260.9,293.2 262.8,292.5 264.7,291.7 266.6,290.9 268.4,290.1 270.3,289.3 272.0,288.5 273.6,287.8 275.1,287.0 276.4,286.3 277.5,285.7 278.5,285.0 279.3,284.4 280.0,283.8 280.6,283.2 281.1,282.6 281.7,282.1 282.2,281.5 282.7,281.0 283.3,280.6 284.0,280.2 284.6,279.7 285.2,279.3 285.8,278.9 286.4,278.5 287.0,278.2 287.6,277.9 288.1,277.7 288.6,277.7Z M288.8,280.1 289.2,280.3 289.6,280.6 290.0,280.9 290.3,281.4 290.6,281.9 291.0,282.4 291.3,283.0 291.8,283.6 292.3,284.1 292.8,284.7 293.5,285.2 294.3,285.8 295.1,286.4 296.0,287.1 297.0,287.7 297.9,288.3 298.8,289.0 299.6,289.6 300.3,290.2 300.9,290.8 301.4,291.3 301.9,291.8 302.2,292.4 302.6,292.8 302.8,293.3 303.0,293.8 303.2,294.3 303.3,294.8 303.4,295.3 303.5,295.9 303.5,296.4 303.5,297.0 303.5,297.6 303.4,298.2 303.3,298.8 303.2,299.4 303.0,300.1 302.7,300.7 302.4,301.3 302.0,301.9 301.5,302.5 301.0,303.2 300.3,303.8 299.6,304.5 298.9,305.1 298.1,305.7 297.3,306.4 296.5,306.9 295.7,307.5 294.8,308.0 294.1,308.5 293.4,309.0 292.7,309.4 292.0,309.9 291.3,310.3 290.5,310.6 289.6,310.9 288.5,311.2 287.2,311.4 285.7,311.6 284.0,311.7 281.9,311.7 279.6,311.6 277.1,311.5 274.6,311.3 272.0,311.1 269.4,310.9 267.0,310.7 264.7,310.5 262.6,310.4 260.7,310.2 258.7,310.2 256.9,310.2 255.1,310.1 253.4,310.1 251.8,310.0 250.3,309.9 249.0,309.6 247.9,309.2 247.0,308.7 246.3,308.0 245.8,307.1 245.4,306.1 245.1,304.9 245.1,303.7 245.1,302.5 245.4,301.3 245.8,300.2 246.3,299.2 247.0,298.4 247.9,297.7 249.1,297.2 250.5,296.8 252.0,296.4 253.7,296.1 255.5,295.8 257.3,295.5 259.0,295.2 260.7,294.8 262.3,294.3 263.9,293.7 265.5,293.1 267.2,292.5 268.9,291.8 270.5,291.1 272.1,290.4 273.7,289.7 275.1,289.0 276.4,288.3 277.6,287.7 278.5,287.2 279.4,286.6 280.1,286.0 280.7,285.5 281.2,284.9 281.7,284.4 282.2,283.9 282.6,283.5 283.1,283.1 283.7,282.7 284.2,282.3 284.8,281.9 285.3,281.5 285.8,281.1 286.4,280.8 286.9,280.5 287.4,280.3 287.9,280.1 288.3,280.1Z M288.4,282.5 288.8,282.7 289.1,282.9 289.4,283.2 289.7,283.6 290.0,284.0 290.3,284.5 290.6,285.0 291.0,285.5 291.4,286.0 291.9,286.5 292.5,286.9 293.2,287.5 293.9,288.0 294.7,288.5 295.5,289.1 296.3,289.6 297.1,290.2 297.8,290.7 298.4,291.3 298.9,291.8 299.4,292.2 299.7,292.7 300.1,293.1 300.3,293.5 300.6,294.0 300.7,294.4 300.9,294.8 301.0,295.2 301.1,295.7 301.1,296.1 301.2,296.6 301.2,297.1 301.2,297.6 301.1,298.2 301.0,298.7 300.9,299.2 300.7,299.8 300.5,300.3 300.2,300.8 299.8,301.4 299.4,301.9 298.9,302.5 298.4,303.0 297.8,303.6 297.2,304.2 296.5,304.7 295.8,305.2 295.1,305.7 294.4,306.2 293.7,306.7 293.0,307.1 292.4,307.5 291.8,307.9 291.2,308.3 290.6,308.6 289.9,308.9 289.1,309.2 288.2,309.4 287.1,309.6 285.8,309.8 284.2,309.8 282.4,309.8 280.5,309.8 278.3,309.6 276.1,309.5 273.9,309.3 271.7,309.2 269.5,309.0 267.5,308.8 265.8,308.7 264.1,308.6 262.4,308.5 260.8,308.5 259.2,308.5 257.7,308.5 256.4,308.4 255.1,308.3 254.0,308.1 253.0,307.7 252.2,307.3 251.6,306.7 251.2,305.9 250.8,305.0 250.6,304.0 250.6,302.9 250.6,301.9 250.8,300.9 251.2,299.9 251.7,299.0 252.2,298.3 253.0,297.8 254.1,297.3 255.3,296.9 256.6,296.6 258.1,296.4 259.6,296.1 261.1,295.8 262.7,295.6 264.1,295.2 265.5,294.8 266.9,294.3 268.3,293.8 269.7,293.2 271.2,292.6 272.6,292.0 274.0,291.4 275.3,290.8 276.6,290.2 277.7,289.6 278.7,289.1 279.5,288.6 280.3,288.1 280.9,287.6 281.4,287.2 281.9,286.7 282.3,286.3 282.7,285.8 283.1,285.4 283.5,285.1 284.0,284.7 284.5,284.4 284.9,284.0 285.4,283.7 285.9,283.4 286.3,283.1 286.8,282.9 287.2,282.7 287.6,282.5 288.0,282.5Z M288.0,284.9 288.4,285.1 288.6,285.3 288.9,285.5 289.1,285.8 289.4,286.2 289.6,286.6 289.9,287.0 290.2,287.4 290.6,287.9 291.0,288.3 291.5,288.7 292.0,289.1 292.7,289.5 293.3,290.0 294.0,290.5 294.7,290.9 295.3,291.4 296.0,291.9 296.5,292.3 296.9,292.7 297.3,293.1 297.6,293.5 297.9,293.9 298.1,294.2 298.3,294.6 298.4,294.9 298.6,295.3 298.7,295.7 298.7,296.0 298.8,296.4 298.8,296.8 298.8,297.3 298.8,297.7 298.8,298.1 298.7,298.6 298.6,299.0 298.4,299.5 298.2,300.0 298.0,300.4 297.7,300.9 297.3,301.3 296.9,301.8 296.5,302.2 296.0,302.7 295.4,303.2 294.9,303.7 294.3,304.1 293.7,304.5 293.1,304.9 292.5,305.3 291.9,305.7 291.4,306.0 290.9,306.3 290.4,306.7 289.9,307.0 289.3,307.2 288.6,307.5 287.8,307.7 286.9,307.8 285.8,307.9 284.5,308.0 283.0,308.0 281.3,307.9 279.5,307.8 277.7,307.7 275.8,307.6 273.9,307.4 272.1,307.3 270.4,307.1 268.9,307.0 267.5,306.9 266.1,306.9 264.7,306.9 263.4,306.9 262.1,306.8 261.0,306.8 259.9,306.7 259.0,306.5 258.2,306.2 257.5,305.8 257.0,305.3 256.6,304.7 256.3,303.9 256.1,303.1 256.1,302.2 256.1,301.3 256.3,300.4 256.6,299.6 257.0,298.9 257.5,298.3 258.2,297.8 259.0,297.4 260.0,297.1 261.2,296.8 262.4,296.6 263.7,296.4 265.0,296.2 266.3,295.9 267.5,295.6 268.7,295.3 269.9,294.9 271.0,294.4 272.3,294.0 273.5,293.5 274.7,292.9 275.9,292.4 277.0,291.9 278.0,291.4 279.0,290.9 279.8,290.5 280.5,290.1 281.2,289.7 281.7,289.2 282.1,288.8 282.5,288.5 282.9,288.1 283.2,287.7 283.5,287.4 283.9,287.1 284.3,286.8 284.7,286.5 285.1,286.2 285.5,285.9 285.9,285.7 286.3,285.4 286.6,285.2 287.0,285.1 287.4,284.9 287.7,284.9Z M287.7,287.3 287.9,287.4 288.1,287.6 288.4,287.8 288.6,288.1 288.8,288.4 289.0,288.7 289.2,289.0 289.4,289.4 289.7,289.7 290.1,290.1 290.5,290.4 290.9,290.7 291.4,291.1 292.0,291.5 292.5,291.9 293.1,292.2 293.6,292.6 294.1,293.0 294.6,293.4 294.9,293.7 295.2,294.0 295.5,294.3 295.7,294.6 295.9,294.9 296.0,295.2 296.2,295.5 296.3,295.8 296.3,296.1 296.4,296.4 296.4,296.7 296.4,297.1 296.5,297.4 296.4,297.8 296.4,298.1 296.3,298.5 296.2,298.9 296.1,299.2 296.0,299.6 295.8,300.0 295.5,300.3 295.2,300.7 294.9,301.1 294.5,301.5 294.1,301.9 293.7,302.2 293.2,302.6 292.7,303.0 292.3,303.3 291.8,303.7 291.3,304.0 290.8,304.3 290.4,304.5 290.0,304.8 289.6,305.1 289.2,305.3 288.7,305.5 288.1,305.7 287.5,305.9 286.7,306.0 285.8,306.1 284.8,306.1 283.5,306.1 282.2,306.1 280.7,306.0 279.2,305.9 277.6,305.8 276.1,305.7 274.7,305.6 273.3,305.5 272.1,305.4 270.9,305.3 269.8,305.3 268.6,305.3 267.6,305.2 266.5,305.2 265.6,305.2 264.7,305.1 263.9,304.9 263.3,304.7 262.8,304.4 262.3,304.0 262.0,303.4 261.8,302.8 261.6,302.1 261.6,301.4 261.6,300.7 261.8,300.0 262.0,299.3 262.3,298.7 262.8,298.2 263.3,297.8 264.0,297.5 264.8,297.3 265.8,297.1 266.8,296.9 267.8,296.7 268.9,296.5 269.9,296.3 270.9,296.1 271.9,295.8 272.8,295.5 273.8,295.1 274.8,294.7 275.8,294.3 276.8,293.9 277.7,293.4 278.6,293.0 279.5,292.6 280.3,292.2 281.0,291.9 281.5,291.5 282.0,291.2 282.5,290.9 282.8,290.5 283.2,290.2 283.5,289.9 283.7,289.6 284.0,289.3 284.3,289.1 284.6,288.9 284.9,288.6 285.3,288.4 285.6,288.2 285.9,287.9 286.2,287.7 286.5,287.6 286.8,287.4 287.1,287.4 287.4,287.3Z M287.3,289.8 287.5,289.8 287.7,289.9 287.8,290.1 288.0,290.3 288.1,290.6 288.3,290.8 288.5,291.1 288.7,291.3 288.9,291.6 289.1,291.9 289.5,292.1 289.8,292.4 290.2,292.7 290.6,292.9 291.1,293.2 291.5,293.5 291.9,293.8 292.3,294.1 292.6,294.4 292.9,294.7 293.1,294.9 293.3,295.2 293.5,295.4 293.6,295.6 293.8,295.8 293.9,296.1 293.9,296.3 294.0,296.5 294.0,296.8 294.1,297.0 294.1,297.3 294.1,297.5 294.1,297.8 294.1,298.1 294.0,298.4 293.9,298.7 293.8,298.9 293.7,299.2 293.6,299.5 293.4,299.8 293.2,300.1 292.9,300.4 292.6,300.7 292.3,301.0 291.9,301.3 291.6,301.6 291.2,301.9 290.8,302.1 290.5,302.4 290.1,302.6 289.7,302.8 289.4,303.1 289.1,303.3 288.8,303.5 288.4,303.7 288.1,303.8 287.6,304.0 287.1,304.1 286.6,304.2 285.9,304.3 285.1,304.3 284.1,304.3 283.0,304.3 281.9,304.2 280.7,304.1 279.5,304.0 278.4,304.0 277.2,303.9 276.2,303.8 275.2,303.7 274.3,303.7 273.4,303.6 272.6,303.6 271.7,303.6 270.9,303.6 270.2,303.5 269.5,303.5 268.9,303.4 268.4,303.2 268.0,302.9 267.7,302.6 267.4,302.2 267.2,301.7 267.1,301.2 267.1,300.6 267.1,300.1 267.3,299.5 267.4,299.0 267.7,298.6 268.0,298.2 268.4,297.9 269.0,297.6 269.6,297.4 270.3,297.3 271.1,297.1 271.9,297.0 272.7,296.9 273.6,296.7 274.3,296.5 275.1,296.3 275.8,296.0 276.6,295.7 277.3,295.4 278.1,295.1 278.9,294.8 279.6,294.5 280.3,294.2 281.0,293.8 281.6,293.5 282.1,293.3 282.6,293.0 282.9,292.7 283.3,292.5 283.6,292.2 283.8,292.0 284.0,291.7 284.2,291.5 284.5,291.3 284.7,291.1 284.9,290.9 285.2,290.7 285.4,290.6 285.7,290.4 285.9,290.2 286.2,290.1 286.4,289.9 286.6,289.8 286.9,289.8 287.1,289.7Z" fill="none" stroke="#d82020" stroke-width="1.2" opacity="1.0" clip-path="url(#clipA4)"/>
<path d="M180.0,300.0 184.3,299.0 190.1,298.1 197.0,297.3 204.7,296.6 212.8,296.0 221.2,295.5 229.3,295.0 237.0,294.5 243.9,294.0 249.6,293.5 254.3,293.0 258.5,292.4 262.3,291.8 265.6,291.3 268.5,290.8 271.2,290.3 273.8,289.9 276.2,289.7 278.5,289.5 280.9,289.5 283.3,289.6 285.5,289.9 287.6,290.3 289.6,290.7 291.4,291.3 293.1,291.9 294.6,292.5 295.9,293.3 297.0,294.0 298.0,294.7 298.7,295.4 299.3,296.2 299.6,297.0 299.8,297.9 299.8,298.8 299.7,299.7 299.5,300.7 299.1,301.7 298.6,302.8 298.0,304.0 297.4,305.3 296.8,306.8 296.1,308.5 295.4,310.2 294.4,312.0 293.3,313.6 291.9,315.2 290.2,316.6 288.1,317.7 285.6,318.5 282.7,319.0 279.4,319.1 275.8,319.1 271.9,318.8 267.7,318.4 263.2,318.0 258.6,317.5 253.7,317.1 248.6,316.7 243.4,316.5 237.6,316.5 231.1,316.6 223.9,316.7 216.5,316.9 209.1,317.1 201.8,317.2 195.0,317.2 189.0,317.1 183.9,316.7 180.0,316.0 177.1,315.0 174.8,313.6 173.1,312.0 172.1,310.3 171.7,308.4 171.9,306.5 172.9,304.6 174.5,302.8 176.9,301.3Z M187.2,300.3 191.2,299.4 196.6,298.5 203.0,297.8 210.2,297.2 217.8,296.6 225.5,296.1 233.1,295.7 240.3,295.2 246.7,294.8 252.0,294.3 256.4,293.8 260.3,293.3 263.8,292.7 266.8,292.2 269.6,291.8 272.1,291.3 274.5,291.0 276.7,290.7 278.9,290.6 281.1,290.6 283.3,290.7 285.4,290.9 287.4,291.3 289.2,291.7 290.9,292.2 292.4,292.8 293.8,293.4 295.1,294.1 296.1,294.7 297.0,295.4 297.7,296.1 298.2,296.8 298.6,297.6 298.7,298.4 298.7,299.2 298.6,300.1 298.4,301.0 298.0,302.0 297.6,303.0 297.0,304.1 296.5,305.3 295.9,306.7 295.3,308.2 294.6,309.9 293.7,311.5 292.7,313.0 291.4,314.5 289.8,315.8 287.8,316.8 285.5,317.6 282.8,318.0 279.7,318.2 276.4,318.1 272.7,317.9 268.8,317.5 264.7,317.1 260.3,316.6 255.8,316.2 251.1,315.9 246.2,315.7 240.8,315.7 234.7,315.8 228.1,315.9 221.2,316.1 214.3,316.3 207.5,316.4 201.2,316.4 195.5,316.2 190.8,315.9 187.2,315.2 184.5,314.3 182.4,313.0 180.8,311.6 179.8,309.9 179.5,308.1 179.7,306.4 180.6,304.6 182.1,303.0 184.3,301.5Z M193.4,300.6 197.2,299.7 202.2,298.9 208.2,298.3 214.9,297.7 222.0,297.2 229.3,296.7 236.4,296.3 243.1,295.8 249.1,295.4 254.0,295.0 258.2,294.5 261.8,294.0 265.1,293.5 267.9,293.1 270.5,292.6 272.9,292.2 275.1,291.9 277.2,291.7 279.2,291.5 281.3,291.5 283.4,291.6 285.3,291.8 287.1,292.2 288.9,292.6 290.4,293.0 291.9,293.6 293.2,294.2 294.4,294.8 295.4,295.4 296.2,296.0 296.8,296.7 297.3,297.3 297.6,298.1 297.8,298.8 297.8,299.6 297.7,300.4 297.5,301.3 297.1,302.2 296.7,303.1 296.2,304.1 295.7,305.3 295.1,306.6 294.6,308.0 293.9,309.5 293.1,311.1 292.1,312.5 290.9,313.9 289.4,315.1 287.6,316.1 285.4,316.8 282.9,317.2 280.0,317.3 276.9,317.2 273.4,317.0 269.8,316.7 265.9,316.3 261.8,315.9 257.6,315.5 253.2,315.2 248.6,315.0 243.6,315.0 237.9,315.1 231.7,315.2 225.2,315.4 218.7,315.6 212.4,315.7 206.5,315.7 201.2,315.5 196.8,315.2 193.4,314.6 190.9,313.7 188.9,312.5 187.5,311.1 186.6,309.6 186.2,307.9 186.4,306.3 187.2,304.6 188.7,303.1 190.7,301.8Z M199.4,300.9 202.9,300.1 207.6,299.3 213.2,298.7 219.4,298.2 226.1,297.7 232.9,297.2 239.5,296.8 245.8,296.4 251.3,296.1 256.0,295.6 259.9,295.2 263.3,294.7 266.3,294.3 269.0,293.8 271.4,293.4 273.6,293.1 275.7,292.7 277.6,292.5 279.5,292.4 281.5,292.4 283.4,292.5 285.2,292.7 286.9,293.0 288.5,293.4 290.0,293.8 291.4,294.3 292.6,294.9 293.7,295.4 294.6,296.0 295.4,296.6 296.0,297.2 296.4,297.8 296.7,298.5 296.9,299.2 296.9,299.9 296.8,300.7 296.6,301.5 296.3,302.3 295.9,303.2 295.4,304.2 294.9,305.3 294.4,306.5 293.9,307.8 293.2,309.2 292.5,310.7 291.6,312.0 290.4,313.3 289.0,314.4 287.3,315.3 285.3,316.0 282.9,316.4 280.3,316.5 277.3,316.4 274.1,316.2 270.7,315.9 267.1,315.6 263.3,315.2 259.3,314.8 255.2,314.5 251.0,314.4 246.3,314.3 240.9,314.4 235.1,314.5 229.1,314.7 223.0,314.9 217.1,315.0 211.6,315.0 206.7,314.8 202.5,314.5 199.4,314.0 197.0,313.1 195.1,312.0 193.8,310.7 192.9,309.3 192.6,307.7 192.8,306.2 193.6,304.7 194.9,303.2 196.8,302.0Z M205.1,301.2 208.4,300.4 212.7,299.7 218.0,299.1 223.8,298.6 230.0,298.2 236.3,297.8 242.5,297.4 248.3,297.0 253.6,296.7 257.9,296.3 261.5,295.9 264.7,295.4 267.5,295.0 270.0,294.6 272.3,294.2 274.3,293.9 276.2,293.6 278.1,293.4 279.8,293.3 281.6,293.2 283.4,293.3 285.1,293.5 286.7,293.8 288.2,294.2 289.6,294.6 290.9,295.0 292.0,295.6 293.0,296.1 293.9,296.6 294.6,297.2 295.2,297.7 295.6,298.3 295.9,298.9 296.0,299.6 296.0,300.3 295.9,301.0 295.7,301.7 295.4,302.5 295.1,303.4 294.6,304.2 294.2,305.2 293.7,306.4 293.2,307.6 292.6,309.0 291.9,310.3 291.1,311.6 290.0,312.7 288.7,313.8 287.1,314.6 285.2,315.2 283.0,315.6 280.5,315.7 277.8,315.7 274.8,315.5 271.6,315.2 268.2,314.9 264.7,314.5 261.0,314.2 257.1,313.9 253.2,313.7 248.8,313.7 243.8,313.8 238.4,313.9 232.8,314.1 227.1,314.2 221.6,314.3 216.5,314.3 211.9,314.2 208.0,313.9 205.1,313.3 202.9,312.6 201.2,311.6 199.9,310.3 199.1,309.0 198.8,307.6 199.0,306.1 199.7,304.7 200.9,303.4 202.7,302.2Z M210.7,301.5 213.7,300.7 217.8,300.1 222.6,299.6 228.1,299.1 233.8,298.7 239.7,298.3 245.5,297.9 250.9,297.6 255.7,297.2 259.7,296.9 263.1,296.5 266.0,296.1 268.7,295.7 271.0,295.3 273.1,295.0 275.0,294.6 276.8,294.4 278.5,294.2 280.1,294.1 281.8,294.1 283.5,294.2 285.1,294.3 286.5,294.6 287.9,294.9 289.2,295.3 290.4,295.7 291.5,296.2 292.4,296.7 293.2,297.2 293.9,297.7 294.4,298.3 294.8,298.8 295.0,299.4 295.2,300.0 295.2,300.6 295.1,301.3 294.9,302.0 294.6,302.7 294.3,303.5 293.9,304.3 293.4,305.2 293.0,306.3 292.6,307.5 292.0,308.7 291.4,309.9 290.6,311.1 289.6,312.2 288.4,313.2 286.9,314.0 285.1,314.5 283.1,314.8 280.8,315.0 278.2,314.9 275.5,314.7 272.5,314.5 269.4,314.2 266.1,313.8 262.6,313.5 259.0,313.3 255.4,313.1 251.3,313.1 246.7,313.1 241.6,313.3 236.4,313.4 231.2,313.6 226.0,313.6 221.3,313.6 217.0,313.5 213.4,313.2 210.7,312.8 208.6,312.0 207.0,311.1 205.8,310.0 205.1,308.7 204.8,307.4 205.0,306.0 205.6,304.7 206.8,303.5 208.5,302.4Z M216.1,301.7 218.9,301.1 222.7,300.5 227.2,300.0 232.2,299.5 237.6,299.1 243.0,298.8 248.3,298.5 253.3,298.1 257.8,297.8 261.5,297.5 264.6,297.1 267.4,296.8 269.8,296.4 272.0,296.0 273.9,295.7 275.7,295.4 277.3,295.2 278.9,295.0 280.4,294.9 282.0,294.9 283.5,295.0 285.0,295.1 286.4,295.4 287.6,295.7 288.8,296.0 289.9,296.4 290.9,296.9 291.8,297.3 292.5,297.8 293.1,298.3 293.6,298.8 294.0,299.3 294.2,299.8 294.3,300.4 294.3,300.9 294.3,301.5 294.1,302.2 293.8,302.9 293.5,303.6 293.1,304.3 292.7,305.2 292.3,306.2 291.9,307.3 291.4,308.4 290.8,309.5 290.1,310.6 289.2,311.7 288.0,312.6 286.7,313.3 285.0,313.8 283.1,314.1 281.0,314.2 278.6,314.2 276.1,314.0 273.4,313.8 270.4,313.5 267.4,313.2 264.2,312.9 260.9,312.6 257.5,312.5 253.7,312.5 249.5,312.5 244.8,312.7 240.0,312.8 235.1,312.9 230.4,313.0 225.9,313.0 222.0,312.9 218.6,312.6 216.1,312.2 214.2,311.5 212.7,310.6 211.7,309.6 211.0,308.4 210.7,307.2 210.9,306.0 211.5,304.7 212.6,303.6 214.1,302.6Z M221.5,302.0 224.1,301.4 227.6,300.8 231.7,300.4 236.3,299.9 241.2,299.6 246.2,299.3 251.2,299.0 255.8,298.7 259.9,298.4 263.3,298.1 266.2,297.8 268.7,297.4 270.9,297.1 272.9,296.8 274.7,296.4 276.3,296.2 277.8,296.0 279.3,295.8 280.7,295.7 282.1,295.7 283.6,295.8 284.9,295.9 286.2,296.1 287.4,296.4 288.5,296.7 289.5,297.1 290.4,297.5 291.2,297.9 291.8,298.4 292.4,298.8 292.9,299.3 293.2,299.7 293.4,300.2 293.5,300.7 293.5,301.3 293.4,301.8 293.3,302.4 293.1,303.0 292.8,303.7 292.4,304.4 292.1,305.2 291.7,306.1 291.3,307.1 290.8,308.1 290.3,309.2 289.6,310.2 288.7,311.1 287.7,312.0 286.5,312.6 285.0,313.1 283.2,313.4 281.2,313.5 279.1,313.5 276.7,313.3 274.2,313.1 271.5,312.8 268.7,312.5 265.8,312.3 262.7,312.0 259.6,311.9 256.1,311.9 252.2,311.9 247.9,312.0 243.4,312.2 239.0,312.3 234.6,312.4 230.5,312.4 226.9,312.3 223.8,312.0 221.5,311.6 219.8,311.0 218.4,310.2 217.4,309.2 216.7,308.2 216.5,307.0 216.7,305.9 217.2,304.8 218.2,303.7 219.6,302.8Z M226.8,302.2 229.2,301.7 232.3,301.2 236.1,300.8 240.4,300.4 244.9,300.1 249.4,299.8 253.9,299.5 258.2,299.2 261.9,299.0 265.1,298.7 267.7,298.4 270.0,298.1 272.0,297.8 273.9,297.5 275.5,297.2 277.0,296.9 278.4,296.7 279.7,296.6 281.0,296.5 282.3,296.5 283.6,296.5 284.8,296.7 286.0,296.9 287.1,297.1 288.1,297.4 289.0,297.8 289.8,298.2 290.5,298.5 291.2,298.9 291.7,299.3 292.1,299.7 292.4,300.2 292.6,300.6 292.7,301.1 292.7,301.6 292.6,302.1 292.5,302.6 292.3,303.2 292.0,303.8 291.7,304.4 291.4,305.2 291.0,306.0 290.7,306.9 290.2,307.9 289.7,308.8 289.1,309.8 288.3,310.6 287.4,311.4 286.3,312.0 284.9,312.4 283.3,312.7 281.5,312.8 279.5,312.7 277.3,312.6 275.0,312.4 272.6,312.1 270.0,311.9 267.3,311.6 264.5,311.4 261.7,311.3 258.5,311.3 254.9,311.4 251.0,311.5 246.9,311.6 242.8,311.7 238.8,311.7 235.1,311.7 231.7,311.6 228.9,311.4 226.8,311.1 225.2,310.5 224.0,309.8 223.0,308.9 222.5,307.9 222.2,306.9 222.4,305.8 222.9,304.8 223.8,303.8 225.1,303.0Z" fill="none" stroke="#2a2a96" stroke-width="0.9" opacity="1.0" clip-path="url(#clipA4)"/>
<path d="M252.0,296.0 253.2,295.1 254.6,294.4 256.4,293.8 258.2,293.4 260.2,293.1 262.3,292.8 264.4,292.6 266.4,292.4 268.3,292.2 270.0,292.0 271.6,291.7 273.1,291.5 274.6,291.2 276.0,291.0 277.4,290.8 278.7,290.6 280.1,290.5 281.4,290.4 282.7,290.4 284.0,290.5 285.3,290.7 286.7,290.9 288.1,291.1 289.5,291.4 290.8,291.8 292.1,292.2 293.3,292.7 294.3,293.3 295.3,293.9 296.0,294.5 296.6,295.2 297.1,296.0 297.5,296.9 297.7,297.8 297.9,298.7 297.9,299.7 297.9,300.8 297.7,301.8 297.4,302.9 297.0,304.0 296.5,305.2 295.9,306.5 295.3,307.9 294.5,309.3 293.6,310.8 292.6,312.2 291.4,313.5 290.1,314.7 288.7,315.7 287.0,316.5 285.0,317.1 282.8,317.5 280.2,317.8 277.5,318.0 274.6,318.1 271.8,318.1 269.0,318.0 266.4,317.9 264.0,317.7 262.0,317.5 260.2,317.3 258.5,317.0 257.0,316.7 255.6,316.3 254.3,315.8 253.2,315.3 252.2,314.6 251.3,313.9 250.6,313.0 250.0,312.0 249.6,310.8 249.2,309.3 249.1,307.6 249.0,305.8 249.1,303.9 249.4,302.0 249.8,300.2 250.4,298.6 251.1,297.2Z" fill="#2a2a96" fill-opacity="0.88" clip-path="url(#clipA4)"/>
<rect x="243.4" y="304.6" width="40.6" height="13.6" rx="10" ry="6.8" fill="#22c13e" clip-path="url(#clipA4)"/>
<circle cx="283.2" cy="306.9" r="1.2" fill="#dc1f22"/>
<text x="0" y="0" transform="matrix(1.05,0,0,1,167.00,51.60)" font-size="11.6" text-anchor="end" font-family="Liberation Sans" font-weight="bold" >MLC</text>
<text x="0" y="0" transform="matrix(1.05,0,0,1,332.80,54.80)" font-size="11.6" text-anchor="end" font-family="Liberation Sans" font-weight="bold" >TW MLC</text>
<text x="0" y="0" transform="matrix(1.05,0,0,1,166.50,250.40)" font-size="11.6" text-anchor="end" font-family="Liberation Sans" font-weight="bold" >MLC</text>
<text x="0" y="0" transform="matrix(1.05,0,0,1,336.20,248.80)" font-size="11.6" text-anchor="end" font-family="Liberation Sans" font-weight="bold" >TW MLC</text>
<path d="M426.20,147.40 L426.70,147.40 L427.20,147.40 L427.70,147.40 L428.20,147.40 L428.70,147.40 L429.20,147.40 L429.70,147.40 L430.20,147.40 L430.70,147.40 L431.20,147.40 L431.70,147.40 L432.20,147.40 L432.70,147.40 L433.20,147.40 L433.70,147.40 L434.20,147.40 L434.70,147.40 L435.20,147.40 L435.70,147.40 L436.20,147.40 L436.70,147.40 L437.20,147.40 L437.70,147.40 L438.20,147.40 L438.70,147.40 L439.20,147.40 L439.70,147.40 L440.20,147.40 L440.70,147.40 L441.20,147.40 L441.70,147.40 L442.20,147.40 L442.70,147.40 L443.20,147.40 L443.70,147.40 L444.20,147.40 L444.70,147.40 L445.20,147.40 L445.70,147.40 L446.20,147.40 L446.70,147.40 L447.20,147.40 L447.70,147.40 L448.20,147.40 L448.70,147.40 L449.20,147.40 L449.70,147.40 L450.20,147.40 L450.70,147.40 L451.20,147.40 L451.70,147.40 L452.20,147.40 L452.70,147.40 L453.20,147.40 L453.70,147.40 L454.20,147.40 L454.70,147.40 L455.20,147.40 L455.70,147.40 L456.20,147.40 L456.70,147.40 L457.20,147.40 L457.70,147.40 L458.20,147.40 L458.70,147.40 L459.20,147.40 L459.70,147.40 L460.20,147.40 L460.70,147.40 L461.20,147.33 L461.70,147.15 L462.20,146.94 L462.70,146.65 L463.20,146.27 L463.70,145.77 L464.20,145.14 L464.70,144.50 L465.20,144.28 L465.70,142.21 L466.20,142.61 L466.70,140.52 L467.20,138.09 L467.70,134.11 L468.20,128.96 L468.70,124.97 L469.20,120.06 L469.70,116.62 L470.20,111.94 L470.70,108.30 L471.20,103.71 L471.70,100.60 L472.20,96.81 L472.70,94.82 L473.20,91.27 L473.70,87.63 L474.20,86.41 L474.70,82.72 L475.20,80.07 L475.70,77.39 L476.20,75.12 L476.70,72.78 L477.20,69.76 L477.70,68.62 L478.20,65.85 L478.70,64.07 L479.20,62.47 L479.70,61.60 L480.20,61.35 L480.70,59.56 L481.20,60.34 L481.70,60.37 L482.20,61.28 L482.70,62.66 L483.20,63.56 L483.70,62.34 L484.20,62.29 L484.70,61.77 L485.20,61.37 L485.70,61.68 L486.20,62.37 L486.70,63.60 L487.20,65.05 L487.70,65.89 L488.20,68.18 L488.70,69.76 L489.20,72.92 L489.70,74.78 L490.20,75.91 L490.70,79.42 L491.20,81.62 L491.70,84.68 L492.20,85.92 L492.70,89.09 L493.20,92.06 L493.70,94.18 L494.20,95.48 L494.70,97.87 L495.20,101.16 L495.70,101.48 L496.20,104.33 L496.70,105.23 L497.20,107.28 L497.70,109.50 L498.20,113.38 L498.70,115.19 L499.20,118.68 L499.70,120.23 L500.20,122.22 L500.70,125.05 L501.20,128.28 L501.70,129.44 L502.20,132.08 L502.70,133.91 L503.20,136.00 L503.70,139.03 L504.20,140.04 L504.70,141.44 L505.20,142.15 L505.70,143.63 L506.20,144.72 L506.70,145.47 L507.20,146.15 L507.70,146.73 L508.20,147.19 L508.70,147.40 L509.20,147.40 L509.70,147.40 L510.20,147.40 L510.70,147.40 L511.20,147.40 L511.70,147.40 L512.20,147.40 L512.70,147.40 L513.20,147.40 L513.70,147.40 L514.20,147.40 L514.70,147.40 L515.20,147.40 L515.70,147.40 L516.20,147.40 L516.70,147.40 L517.20,147.40 L517.70,147.40 L518.20,147.40 L518.70,147.40 L519.20,147.40 L519.70,147.40 L520.20,147.40 L520.70,147.40 L521.20,147.40 L521.70,147.40 L522.20,147.40 L522.70,147.40 L523.20,147.40 L523.70,147.40 L524.20,147.40 L524.70,147.40 L525.20,147.40 L525.70,147.40 L526.20,147.40 L526.70,147.40 L527.20,147.40 L527.70,147.40 L528.20,147.40 L528.70,147.40 L529.20,147.40 L529.70,147.40 L530.20,147.40 L530.70,147.40 L531.20,147.40 L531.70,147.40 L532.20,147.40 L532.70,147.40 L532.70,147.40 L426.20,147.40 Z" fill="#d89898" stroke="none"/>
<path d="M426.20,147.40 L426.70,147.40 L427.20,147.40 L427.70,147.40 L428.20,147.40 L428.70,147.40 L429.20,147.40 L429.70,147.40 L430.20,147.40 L430.70,147.40 L431.20,147.40 L431.70,147.40 L432.20,147.40 L432.70,147.40 L433.20,147.40 L433.70,147.40 L434.20,147.40 L434.70,147.40 L435.20,147.40 L435.70,147.40 L436.20,147.40 L436.70,147.40 L437.20,147.40 L437.70,147.40 L438.20,147.40 L438.70,147.40 L439.20,147.40 L439.70,147.40 L440.20,147.40 L440.70,147.40 L441.20,147.40 L441.70,147.40 L442.20,147.40 L442.70,147.40 L443.20,147.40 L443.70,147.40 L444.20,147.40 L444.70,147.40 L445.20,147.40 L445.70,147.40 L446.20,147.40 L446.70,147.40 L447.20,147.40 L447.70,147.40 L448.20,147.40 L448.70,147.40 L449.20,147.40 L449.70,147.40 L450.20,147.40 L450.70,147.40 L451.20,147.40 L451.70,147.40 L452.20,147.40 L452.70,147.40 L453.20,147.40 L453.70,147.40 L454.20,147.40 L454.70,147.40 L455.20,147.40 L455.70,147.40 L456.20,147.40 L456.70,147.40 L457.20,147.40 L457.70,147.40 L458.20,147.40 L458.70,147.40 L459.20,147.40 L459.70,147.40 L460.20,147.40 L460.70,147.40 L461.20,147.33 L461.70,147.15 L462.20,146.94 L462.70,146.65 L463.20,146.27 L463.70,145.77 L464.20,145.14 L464.70,144.50 L465.20,144.28 L465.70,142.21 L466.20,142.61 L466.70,140.52 L467.20,138.09 L467.70,134.11 L468.20,128.96 L468.70,124.97 L469.20,120.06 L469.70,116.62 L470.20,111.94 L470.70,108.30 L471.20,103.71 L471.70,100.60 L472.20,96.81 L472.70,94.82 L473.20,91.27 L473.70,87.63 L474.20,86.41 L474.70,82.72 L475.20,80.07 L475.70,77.39 L476.20,75.12 L476.70,72.78 L477.20,69.76 L477.70,68.62 L478.20,65.85 L478.70,64.07 L479.20,62.47 L479.70,61.60 L480.20,61.35 L480.70,59.56 L481.20,60.34 L481.70,60.37 L482.20,61.28 L482.70,62.66 L483.20,63.56 L483.70,62.34 L484.20,62.29 L484.70,61.77 L485.20,61.37 L485.70,61.68 L486.20,62.37 L486.70,63.60 L487.20,65.05 L487.70,65.89 L488.20,68.18 L488.70,69.76 L489.20,72.92 L489.70,74.78 L490.20,75.91 L490.70,79.42 L491.20,81.62 L491.70,84.68 L492.20,85.92 L492.70,89.09 L493.20,92.06 L493.70,94.18 L494.20,95.48 L494.70,97.87 L495.20,101.16 L495.70,101.48 L496.20,104.33 L496.70,105.23 L497.20,107.28 L497.70,109.50 L498.20,113.38 L498.70,115.19 L499.20,118.68 L499.70,120.23 L500.20,122.22 L500.70,125.05 L501.20,128.28 L501.70,129.44 L502.20,132.08 L502.70,133.91 L503.20,136.00 L503.70,139.03 L504.20,140.04 L504.70,141.44 L505.20,142.15 L505.70,143.63 L506.20,144.72 L506.70,145.47 L507.20,146.15 L507.70,146.73 L508.20,147.19 L508.70,147.40 L509.20,147.40 L509.70,147.40 L510.20,147.40 L510.70,147.40 L511.20,147.40 L511.70,147.40 L512.20,147.40 L512.70,147.40 L513.20,147.40 L513.70,147.40 L514.20,147.40 L514.70,147.40 L515.20,147.40 L515.70,147.40 L516.20,147.40 L516.70,147.40 L517.20,147.40 L517.70,147.40 L518.20,147.40 L518.70,147.40 L519.20,147.40 L519.70,147.40 L520.20,147.40 L520.70,147.40 L521.20,147.40 L521.70,147.40 L522.20,147.40 L522.70,147.40 L523.20,147.40 L523.70,147.40 L524.20,147.40 L524.70,147.40 L525.20,147.40 L525.70,147.40 L526.20,147.40 L526.70,147.40 L527.20,147.40 L527.70,147.40 L528.20,147.40 L528.70,147.40 L529.20,147.40 L529.70,147.40 L530.20,147.40 L530.70,147.40 L531.20,147.40 L531.70,147.40 L532.20,147.40 L532.70,147.40" fill="none" stroke="#e51c23" stroke-width="1.3" stroke-linejoin="round"/>
<path d="M426.20,147.40 L426.70,147.40 L427.20,147.40 L427.70,147.40 L428.20,147.40 L428.70,147.40 L429.20,147.40 L429.70,147.40 L430.20,147.40 L430.70,147.40 L431.20,147.40 L431.70,147.40 L432.20,147.40 L432.70,147.40 L433.20,147.40 L433.70,147.40 L434.20,147.40 L434.70,147.40 L435.20,147.40 L435.70,147.40 L436.20,147.40 L436.70,147.40 L437.20,147.40 L437.70,147.40 L438.20,147.40 L438.70,147.40 L439.20,147.40 L439.70,147.40 L440.20,147.40 L440.70,147.40 L441.20,147.40 L441.70,147.40 L442.20,147.40 L442.70,147.40 L443.20,147.40 L443.70,147.40 L444.20,147.40 L444.70,147.40 L445.20,147.40 L445.70,147.40 L446.20,147.40 L446.70,147.40 L447.20,147.40 L447.70,147.40 L448.20,147.40 L448.70,147.40 L449.20,147.40 L449.70,147.40 L450.20,147.40 L450.70,147.40 L451.20,147.40 L451.70,147.40 L452.20,147.40 L452.70,147.40 L453.20,147.40 L453.70,147.40 L454.20,147.40 L454.70,147.40 L455.20,147.40 L455.70,147.40 L456.20,147.40 L456.70,147.40 L457.20,147.40 L457.70,147.40 L458.20,147.40 L458.70,147.40 L459.20,147.30 L459.70,147.03 L460.20,146.70 L460.70,146.28 L461.20,145.71 L461.70,144.96 L462.20,143.81 L462.70,142.25 L463.20,140.30 L463.70,137.57 L464.20,133.70 L464.70,128.66 L465.20,122.78 L465.70,116.36 L466.20,110.22 L466.70,104.37 L467.20,98.15 L467.70,91.87 L468.20,85.81 L468.70,80.18 L469.20,74.51 L469.70,68.97 L470.20,63.86 L470.70,59.51 L471.20,55.73 L471.70,52.96 L472.20,51.59 L472.70,50.90 L473.20,50.68 L473.70,51.14 L474.20,52.33 L474.70,54.02 L475.20,55.93 L475.70,58.24 L476.20,60.86 L476.70,63.67 L477.20,66.39 L477.70,69.02 L478.20,71.84 L478.70,74.77 L479.20,77.74 L479.70,80.68 L480.20,83.55 L480.70,86.49 L481.20,89.49 L481.70,92.45 L482.20,95.30 L482.70,97.94 L483.20,100.30 L483.70,102.29 L484.20,104.04 L484.70,105.67 L485.20,107.34 L485.70,109.16 L486.20,111.06 L486.70,112.82 L487.20,114.70 L487.70,116.65 L488.20,118.63 L488.70,120.60 L489.20,122.53 L489.70,124.36 L490.20,126.07 L490.70,127.74 L491.20,129.38 L491.70,130.97 L492.20,132.51 L492.70,133.98 L493.20,135.37 L493.70,136.67 L494.20,138.02 L494.70,139.46 L495.20,140.75 L495.70,141.91 L496.20,142.95 L496.70,143.88 L497.20,144.72 L497.70,145.44 L498.20,146.03 L498.70,146.52 L499.20,146.92 L499.70,147.24 L500.20,147.40 L500.70,147.40 L501.20,147.40 L501.70,147.40 L502.20,147.40 L502.70,147.40 L503.20,147.40 L503.70,147.40 L504.20,147.40 L504.70,147.40 L505.20,147.40 L505.70,147.40 L506.20,147.40 L506.70,147.40 L507.20,147.40 L507.70,147.40 L508.20,147.40 L508.70,147.40 L509.20,147.40 L509.70,147.40 L510.20,147.40 L510.70,147.40 L511.20,147.40 L511.70,147.40 L512.20,147.40 L512.70,147.40 L513.20,147.40 L513.70,147.40 L514.20,147.40 L514.70,147.40 L515.20,147.40 L515.70,147.40 L516.20,147.40 L516.70,147.40 L517.20,147.40 L517.70,147.40 L518.20,147.40 L518.70,147.40 L519.20,147.40 L519.70,147.40 L520.20,147.40 L520.70,147.40 L521.20,147.40 L521.70,147.40 L522.20,147.40 L522.70,147.40 L523.20,147.40 L523.70,147.40 L524.20,147.40 L524.70,147.40 L525.20,147.40 L525.70,147.40 L526.20,147.40 L526.70,147.40 L527.20,147.40 L527.70,147.40 L528.20,147.40 L528.70,147.40 L529.20,147.40 L529.70,147.40 L530.20,147.40 L530.70,147.40 L531.20,147.40 L531.70,147.40 L532.20,147.40 L532.70,147.40" fill="none" stroke="#2b2ba3" stroke-width="1.3" stroke-linejoin="round"/>
<path d="M426.20,147.40 L426.70,147.40 L427.20,147.40 L427.70,147.40 L428.20,147.40 L428.70,147.40 L429.20,147.40 L429.70,147.40 L430.20,147.40 L430.70,147.40 L431.20,147.40 L431.70,147.40 L432.20,147.40 L432.70,147.40 L433.20,147.40 L433.70,147.40 L434.20,147.40 L434.70,147.40 L435.20,147.40 L435.70,147.40 L436.20,147.40 L436.70,147.40 L437.20,147.40 L437.70,147.40 L438.20,147.40 L438.70,147.40 L439.20,147.40 L439.70,147.40 L440.20,147.40 L440.70,147.40 L441.20,147.40 L441.70,147.40 L442.20,147.40 L442.70,147.40 L443.20,147.40 L443.70,147.40 L444.20,147.40 L444.70,147.39 L445.20,147.37 L445.70,147.30 L446.20,147.11 L446.70,146.64 L447.20,145.58 L447.70,143.40 L448.20,139.34 L448.70,132.51 L449.20,122.16 L449.70,108.16 L450.20,91.45 L450.70,74.25 L451.20,59.67 L451.70,50.91 L452.20,49.94 L452.70,55.83 L453.20,67.12 L453.70,81.73 L454.20,97.27 L454.70,111.70 L455.20,123.67 L455.70,132.69 L456.20,138.89 L456.70,142.80 L457.20,145.08 L457.70,146.31 L458.20,146.92 L458.70,147.20 L459.20,147.33 L459.70,147.37 L460.20,147.39 L460.70,147.40 L461.20,147.40 L461.70,147.40 L462.20,147.40 L462.70,147.40 L463.20,147.40 L463.70,147.40 L464.20,147.40 L464.70,147.40 L465.20,147.40 L465.70,147.40 L466.20,147.40 L466.70,147.40 L467.20,147.40 L467.70,147.40 L468.20,147.40 L468.70,147.40 L469.20,147.40 L469.70,147.40 L470.20,147.40 L470.70,147.40 L471.20,147.40 L471.70,147.40 L472.20,147.40 L472.70,147.40 L473.20,147.40 L473.70,147.40 L474.20,147.40 L474.70,147.40 L475.20,147.40 L475.70,147.40 L476.20,147.40 L476.70,147.40 L477.20,147.40 L477.70,147.40 L478.20,147.40 L478.70,147.40 L479.20,147.40 L479.70,147.40 L480.20,147.40 L480.70,147.40 L481.20,147.40 L481.70,147.40 L482.20,147.40 L482.70,147.40 L483.20,147.40 L483.70,147.40 L484.20,147.40 L484.70,147.40 L485.20,147.40 L485.70,147.40 L486.20,147.40 L486.70,147.40 L487.20,147.40 L487.70,147.40 L488.20,147.40 L488.70,147.40 L489.20,147.40 L489.70,147.40 L490.20,147.40 L490.70,147.40 L491.20,147.40 L491.70,147.40 L492.20,147.40 L492.70,147.40 L493.20,147.40 L493.70,147.40 L494.20,147.40 L494.70,147.40 L495.20,147.40 L495.70,147.40 L496.20,147.40 L496.70,147.40 L497.20,147.40 L497.70,147.40 L498.20,147.40 L498.70,147.40 L499.20,147.40 L499.70,147.40 L500.20,147.40 L500.70,147.40 L501.20,147.40 L501.70,147.40 L502.20,147.40 L502.70,147.40 L503.20,147.40 L503.70,147.40 L504.20,147.40 L504.70,147.40 L505.20,147.40 L505.70,147.40 L506.20,147.40 L506.70,147.40 L507.20,147.40 L507.70,147.40 L508.20,147.40 L508.70,147.40 L509.20,147.40 L509.70,147.40 L510.20,147.40 L510.70,147.40 L511.20,147.40 L511.70,147.40 L512.20,147.40 L512.70,147.40 L513.20,147.40 L513.70,147.40 L514.20,147.40 L514.70,147.40 L515.20,147.40 L515.70,147.40 L516.20,147.40 L516.70,147.40 L517.20,147.40 L517.70,147.40 L518.20,147.40 L518.70,147.40 L519.20,147.40 L519.70,147.40 L520.20,147.40 L520.70,147.40 L521.20,147.40 L521.70,147.40 L522.20,147.40 L522.70,147.40 L523.20,147.40 L523.70,147.40 L524.20,147.40 L524.70,147.40 L525.20,147.40 L525.70,147.40 L526.20,147.40 L526.70,147.40 L527.20,147.40 L527.70,147.40 L528.20,147.40 L528.70,147.40 L529.20,147.40 L529.70,147.40 L530.20,147.40 L530.70,147.40 L531.20,147.40 L531.70,147.40 L532.20,147.40 L532.70,147.40" fill="none" stroke="#1db84a" stroke-width="1.6" stroke-linejoin="round"/>
<path d="M425.70,41.00 H533.30 V147.40" fill="none" stroke="#444" stroke-width="1.1"/>
<path d="M425.70,41.00 V147.40 H533.30" fill="none" stroke="#555" stroke-width="1.5"/>
<path d="M426.20,147.10 H532.80" fill="none" stroke="#2b2ba3" stroke-width="1.2"/>
<path d="M425.70,147.40h-2.6 M425.70,142.34h-1.3 M425.70,137.28h-1.3 M425.70,132.22h-1.3 M425.70,127.16h-2.6 M425.70,122.10h-1.3 M425.70,117.04h-1.3 M425.70,111.98h-1.3 M425.70,106.92h-2.6 M425.70,101.86h-1.3 M425.70,96.80h-1.3 M425.70,91.74h-1.3 M425.70,86.68h-2.6 M425.70,81.62h-1.3 M425.70,76.56h-1.3 M425.70,71.50h-1.3 M425.70,66.44h-2.6 M425.70,61.38h-1.3 M425.70,56.32h-1.3 M425.70,51.26h-1.3 M425.70,46.20h-2.6" stroke="#111" stroke-width="0.9"/>
<text x="0" y="0" transform="matrix(1.05,0,0,1,420.40,145.30)" font-size="6.6" text-anchor="end" font-family="Liberation Sans" font-weight="bold">0</text>
<text x="0" y="0" transform="matrix(1.05,0,0,1,420.40,129.56)" font-size="6.6" text-anchor="end" font-family="Liberation Sans" font-weight="bold">20</text>
<text x="0" y="0" transform="matrix(1.05,0,0,1,420.40,109.32)" font-size="6.6" text-anchor="end" font-family="Liberation Sans" font-weight="bold">40</text>
<text x="0" y="0" transform="matrix(1.05,0,0,1,420.40,89.08)" font-size="6.6" text-anchor="end" font-family="Liberation Sans" font-weight="bold">60</text>
<text x="0" y="0" transform="matrix(1.05,0,0,1,420.40,68.84)" font-size="6.6" text-anchor="end" font-family="Liberation Sans" font-weight="bold">80</text>
<text x="0" y="0" transform="matrix(1.05,0,0,1,420.40,48.60)" font-size="6.6" text-anchor="end" font-family="Liberation Sans" font-weight="bold">100</text>
<text x="0" y="0" transform="matrix(1.05,0,0,1,528.80,56.00)" font-size="11.8" text-anchor="end" font-family="Liberation Sans" font-weight="bold">MLC</text>
<rect x="422.70" y="145.90" width="3.5" height="2.6" fill="#111"/>
<path d="M426.00,261.00 L426.50,261.00 L427.00,261.00 L427.50,261.00 L428.00,261.00 L428.50,261.00 L429.00,261.00 L429.50,261.00 L430.00,261.00 L430.50,261.00 L431.00,261.00 L431.50,261.00 L432.00,261.00 L432.50,261.00 L433.00,261.00 L433.50,261.00 L434.00,261.00 L434.50,261.00 L435.00,261.00 L435.50,261.00 L436.00,261.00 L436.50,261.00 L437.00,261.00 L437.50,261.00 L438.00,261.00 L438.50,261.00 L439.00,261.00 L439.50,261.00 L440.00,261.00 L440.50,261.00 L441.00,261.00 L441.50,261.00 L442.00,261.00 L442.50,261.00 L443.00,261.00 L443.50,261.00 L444.00,261.00 L444.50,261.00 L445.00,261.00 L445.50,261.00 L446.00,261.00 L446.50,261.00 L447.00,261.00 L447.50,261.00 L448.00,261.00 L448.50,261.00 L449.00,261.00 L449.50,261.00 L450.00,261.00 L450.50,261.00 L451.00,261.00 L451.50,261.00 L452.00,261.00 L452.50,261.00 L453.00,261.00 L453.50,261.00 L454.00,261.00 L454.50,261.00 L455.00,261.00 L455.50,261.00 L456.00,261.00 L456.50,260.95 L457.00,260.90 L457.50,260.47 L458.00,259.46 L458.50,258.70 L459.00,257.41 L459.50,256.16 L460.00,255.63 L460.50,254.16 L461.00,253.77 L461.50,251.39 L462.00,250.68 L462.50,247.51 L463.00,244.59 L463.50,242.60 L464.00,240.04 L464.50,236.88 L465.00,232.77 L465.50,228.62 L466.00,222.42 L466.50,217.34 L467.00,212.72 L467.50,208.42 L468.00,205.85 L468.50,202.65 L469.00,201.01 L469.50,198.14 L470.00,196.22 L470.50,196.05 L471.00,193.94 L471.50,191.65 L472.00,190.36 L472.50,188.00 L473.00,185.40 L473.50,181.04 L474.00,178.88 L474.50,175.90 L475.00,176.31 L475.50,175.74 L476.00,176.30 L476.50,177.60 L477.00,180.24 L477.50,181.71 L478.00,184.42 L478.50,186.06 L479.00,189.99 L479.50,193.97 L480.00,197.47 L480.50,201.38 L481.00,204.05 L481.50,205.31 L482.00,207.38 L482.50,208.41 L483.00,207.67 L483.50,209.11 L484.00,208.63 L484.50,209.30 L485.00,210.21 L485.50,211.13 L486.00,212.60 L486.50,213.66 L487.00,215.29 L487.50,217.10 L488.00,217.14 L488.50,217.43 L489.00,216.39 L489.50,217.12 L490.00,216.11 L490.50,215.15 L491.00,216.97 L491.50,216.60 L492.00,217.24 L492.50,218.79 L493.00,220.85 L493.50,220.92 L494.00,223.17 L494.50,224.26 L495.00,225.46 L495.50,228.30 L496.00,231.07 L496.50,235.24 L497.00,239.46 L497.50,244.39 L498.00,247.09 L498.50,249.30 L499.00,252.81 L499.50,254.14 L500.00,255.55 L500.50,257.12 L501.00,259.32 L501.50,260.40 L502.00,260.90 L502.50,261.00 L503.00,261.00 L503.50,261.00 L504.00,261.00 L504.50,261.00 L505.00,261.00 L505.50,261.00 L506.00,261.00 L506.50,261.00 L507.00,261.00 L507.50,261.00 L508.00,261.00 L508.50,261.00 L509.00,261.00 L509.50,261.00 L510.00,261.00 L510.50,261.00 L511.00,261.00 L511.50,261.00 L512.00,261.00 L512.50,261.00 L513.00,261.00 L513.50,261.00 L514.00,261.00 L514.50,261.00 L515.00,261.00 L515.50,261.00 L516.00,261.00 L516.50,261.00 L517.00,261.00 L517.50,261.00 L518.00,261.00 L518.50,261.00 L519.00,261.00 L519.50,261.00 L520.00,261.00 L520.50,261.00 L521.00,261.00 L521.50,261.00 L522.00,261.00 L522.50,261.00 L523.00,261.00 L523.50,261.00 L524.00,261.00 L524.50,261.00 L525.00,261.00 L525.50,261.00 L526.00,261.00 L526.50,261.00 L527.00,261.00 L527.50,261.00 L528.00,261.00 L528.50,261.00 L529.00,261.00 L529.50,261.00 L530.00,261.00 L530.50,261.00 L531.00,261.00 L531.50,261.00 L532.00,261.00 L532.00,261.00 L426.00,261.00 Z" fill="#d89898" stroke="none"/>
<path d="M426.00,261.00 L426.50,261.00 L427.00,261.00 L427.50,261.00 L428.00,261.00 L428.50,261.00 L429.00,261.00 L429.50,261.00 L430.00,261.00 L430.50,261.00 L431.00,261.00 L431.50,261.00 L432.00,261.00 L432.50,261.00 L433.00,261.00 L433.50,261.00 L434.00,261.00 L434.50,261.00 L435.00,261.00 L435.50,261.00 L436.00,261.00 L436.50,261.00 L437.00,261.00 L437.50,261.00 L438.00,261.00 L438.50,261.00 L439.00,261.00 L439.50,261.00 L440.00,261.00 L440.50,261.00 L441.00,261.00 L441.50,261.00 L442.00,261.00 L442.50,261.00 L443.00,261.00 L443.50,261.00 L444.00,261.00 L444.50,261.00 L445.00,261.00 L445.50,261.00 L446.00,261.00 L446.50,261.00 L447.00,261.00 L447.50,261.00 L448.00,261.00 L448.50,261.00 L449.00,261.00 L449.50,261.00 L450.00,261.00 L450.50,261.00 L451.00,261.00 L451.50,261.00 L452.00,261.00 L452.50,261.00 L453.00,261.00 L453.50,261.00 L454.00,261.00 L454.50,261.00 L455.00,261.00 L455.50,261.00 L456.00,261.00 L456.50,260.95 L457.00,260.90 L457.50,260.47 L458.00,259.46 L458.50,258.70 L459.00,257.41 L459.50,256.16 L460.00,255.63 L460.50,254.16 L461.00,253.77 L461.50,251.39 L462.00,250.68 L462.50,247.51 L463.00,244.59 L463.50,242.60 L464.00,240.04 L464.50,236.88 L465.00,232.77 L465.50,228.62 L466.00,222.42 L466.50,217.34 L467.00,212.72 L467.50,208.42 L468.00,205.85 L468.50,202.65 L469.00,201.01 L469.50,198.14 L470.00,196.22 L470.50,196.05 L471.00,193.94 L471.50,191.65 L472.00,190.36 L472.50,188.00 L473.00,185.40 L473.50,181.04 L474.00,178.88 L474.50,175.90 L475.00,176.31 L475.50,175.74 L476.00,176.30 L476.50,177.60 L477.00,180.24 L477.50,181.71 L478.00,184.42 L478.50,186.06 L479.00,189.99 L479.50,193.97 L480.00,197.47 L480.50,201.38 L481.00,204.05 L481.50,205.31 L482.00,207.38 L482.50,208.41 L483.00,207.67 L483.50,209.11 L484.00,208.63 L484.50,209.30 L485.00,210.21 L485.50,211.13 L486.00,212.60 L486.50,213.66 L487.00,215.29 L487.50,217.10 L488.00,217.14 L488.50,217.43 L489.00,216.39 L489.50,217.12 L490.00,216.11 L490.50,215.15 L491.00,216.97 L491.50,216.60 L492.00,217.24 L492.50,218.79 L493.00,220.85 L493.50,220.92 L494.00,223.17 L494.50,224.26 L495.00,225.46 L495.50,228.30 L496.00,231.07 L496.50,235.24 L497.00,239.46 L497.50,244.39 L498.00,247.09 L498.50,249.30 L499.00,252.81 L499.50,254.14 L500.00,255.55 L500.50,257.12 L501.00,259.32 L501.50,260.40 L502.00,260.90 L502.50,261.00 L503.00,261.00 L503.50,261.00 L504.00,261.00 L504.50,261.00 L505.00,261.00 L505.50,261.00 L506.00,261.00 L506.50,261.00 L507.00,261.00 L507.50,261.00 L508.00,261.00 L508.50,261.00 L509.00,261.00 L509.50,261.00 L510.00,261.00 L510.50,261.00 L511.00,261.00 L511.50,261.00 L512.00,261.00 L512.50,261.00 L513.00,261.00 L513.50,261.00 L514.00,261.00 L514.50,261.00 L515.00,261.00 L515.50,261.00 L516.00,261.00 L516.50,261.00 L517.00,261.00 L517.50,261.00 L518.00,261.00 L518.50,261.00 L519.00,261.00 L519.50,261.00 L520.00,261.00 L520.50,261.00 L521.00,261.00 L521.50,261.00 L522.00,261.00 L522.50,261.00 L523.00,261.00 L523.50,261.00 L524.00,261.00 L524.50,261.00 L525.00,261.00 L525.50,261.00 L526.00,261.00 L526.50,261.00 L527.00,261.00 L527.50,261.00 L528.00,261.00 L528.50,261.00 L529.00,261.00 L529.50,261.00 L530.00,261.00 L530.50,261.00 L531.00,261.00 L531.50,261.00 L532.00,261.00" fill="none" stroke="#e51c23" stroke-width="1.3" stroke-linejoin="round"/>
<path d="M426.00,261.00 L426.50,261.00 L427.00,261.00 L427.50,261.00 L428.00,261.00 L428.50,261.00 L429.00,261.00 L429.50,261.00 L430.00,261.00 L430.50,261.00 L431.00,261.00 L431.50,261.00 L432.00,261.00 L432.50,261.00 L433.00,261.00 L433.50,261.00 L434.00,261.00 L434.50,261.00 L435.00,261.00 L435.50,261.00 L436.00,261.00 L436.50,261.00 L437.00,261.00 L437.50,261.00 L438.00,261.00 L438.50,261.00 L439.00,261.00 L439.50,261.00 L440.00,261.00 L440.50,261.00 L441.00,261.00 L441.50,261.00 L442.00,261.00 L442.50,261.00 L443.00,261.00 L443.50,261.00 L444.00,261.00 L444.50,261.00 L445.00,261.00 L445.50,261.00 L446.00,261.00 L446.50,261.00 L447.00,261.00 L447.50,261.00 L448.00,261.00 L448.50,261.00 L449.00,261.00 L449.50,261.00 L450.00,261.00 L450.50,261.00 L451.00,261.00 L451.50,261.00 L452.00,261.00 L452.50,261.00 L453.00,261.00 L453.50,261.00 L454.00,261.00 L454.50,261.00 L455.00,261.00 L455.50,261.00 L456.00,261.00 L456.50,260.37 L457.00,259.75 L457.50,259.12 L458.00,258.40 L458.50,257.51 L459.00,256.39 L459.50,254.96 L460.00,253.14 L460.50,250.86 L461.00,248.00 L461.50,244.45 L462.00,240.34 L462.50,235.84 L463.00,231.10 L463.50,226.30 L464.00,221.59 L464.50,217.13 L465.00,213.10 L465.50,207.58 L466.00,202.23 L466.50,197.14 L467.00,192.40 L467.50,188.09 L468.00,184.06 L468.50,179.88 L469.00,176.46 L469.50,173.66 L470.00,171.32 L470.50,168.32 L471.00,166.65 L471.50,166.94 L472.00,168.95 L472.50,172.13 L473.00,175.59 L473.50,179.44 L474.00,183.85 L474.50,188.55 L475.00,193.02 L475.50,197.84 L476.00,203.01 L476.50,208.19 L477.00,212.48 L477.50,217.12 L478.00,221.87 L478.50,226.45 L479.00,230.61 L479.50,234.17 L480.00,237.28 L480.50,240.00 L481.00,242.40 L481.50,244.55 L482.00,246.52 L482.50,248.28 L483.00,249.81 L483.50,251.12 L484.00,252.25 L484.50,253.20 L485.00,254.00 L485.50,254.33 L486.00,254.57 L486.50,254.74 L487.00,254.86 L487.50,254.94 L488.00,254.99 L488.50,255.03 L489.00,255.06 L489.50,255.12 L490.00,255.20 L490.50,255.33 L491.00,255.55 L491.50,255.83 L492.00,256.13 L492.50,256.46 L493.00,256.80 L493.50,257.14 L494.00,257.47 L494.50,257.80 L495.00,258.10 L495.50,258.40 L496.00,258.70 L496.50,259.00 L497.00,259.29 L497.50,259.58 L498.00,259.84 L498.50,260.08 L499.00,260.29 L499.50,260.55 L500.00,260.80 L500.50,260.92 L501.00,261.00 L501.50,261.00 L502.00,261.00 L502.50,261.00 L503.00,261.00 L503.50,261.00 L504.00,261.00 L504.50,261.00 L505.00,261.00 L505.50,261.00 L506.00,261.00 L506.50,261.00 L507.00,261.00 L507.50,261.00 L508.00,261.00 L508.50,261.00 L509.00,261.00 L509.50,261.00 L510.00,261.00 L510.50,261.00 L511.00,261.00 L511.50,261.00 L512.00,261.00 L512.50,261.00 L513.00,261.00 L513.50,261.00 L514.00,261.00 L514.50,261.00 L515.00,261.00 L515.50,261.00 L516.00,261.00 L516.50,261.00 L517.00,261.00 L517.50,261.00 L518.00,261.00 L518.50,261.00 L519.00,261.00 L519.50,261.00 L520.00,261.00 L520.50,261.00 L521.00,261.00 L521.50,261.00 L522.00,261.00 L522.50,261.00 L523.00,261.00 L523.50,261.00 L524.00,261.00 L524.50,261.00 L525.00,261.00 L525.50,261.00 L526.00,261.00 L526.50,261.00 L527.00,261.00 L527.50,261.00 L528.00,261.00 L528.50,261.00 L529.00,261.00 L529.50,261.00 L530.00,261.00 L530.50,261.00 L531.00,261.00 L531.50,261.00 L532.00,261.00" fill="none" stroke="#2b2ba3" stroke-width="1.3" stroke-linejoin="round"/>
<path d="M426.00,261.00 L426.50,261.00 L427.00,261.00 L427.50,261.00 L428.00,261.00 L428.50,261.00 L429.00,261.00 L429.50,261.00 L430.00,261.00 L430.50,261.00 L431.00,261.00 L431.50,261.00 L432.00,261.00 L432.50,261.00 L433.00,261.00 L433.50,261.00 L434.00,261.00 L434.50,261.00 L435.00,261.00 L435.50,261.00 L436.00,261.00 L436.50,261.00 L437.00,261.00 L437.50,261.00 L438.00,261.00 L438.50,261.00 L439.00,261.00 L439.50,261.00 L440.00,261.00 L440.50,261.00 L441.00,261.00 L441.50,261.00 L442.00,261.00 L442.50,261.00 L443.00,261.00 L443.50,261.00 L444.00,261.00 L444.50,260.99 L445.00,260.98 L445.50,260.93 L446.00,260.80 L446.50,260.47 L447.00,259.68 L447.50,257.99 L448.00,254.72 L448.50,248.99 L449.00,239.93 L449.50,227.09 L450.00,210.94 L450.50,193.25 L451.00,176.89 L451.50,165.23 L452.00,161.00 L452.50,164.40 L453.00,173.93 L453.50,187.78 L454.00,203.54 L454.50,218.92 L455.00,232.25 L455.50,242.67 L456.00,250.10 L456.50,254.95 L457.00,257.87 L457.50,259.48 L458.00,260.32 L458.50,260.71 L459.00,260.89 L459.50,260.96 L460.00,260.99 L460.50,261.00 L461.00,261.00 L461.50,261.00 L462.00,261.00 L462.50,261.00 L463.00,261.00 L463.50,261.00 L464.00,261.00 L464.50,261.00 L465.00,261.00 L465.50,261.00 L466.00,261.00 L466.50,261.00 L467.00,261.00 L467.50,261.00 L468.00,261.00 L468.50,261.00 L469.00,261.00 L469.50,261.00 L470.00,261.00 L470.50,261.00 L471.00,261.00 L471.50,261.00 L472.00,261.00 L472.50,261.00 L473.00,261.00 L473.50,261.00 L474.00,261.00 L474.50,261.00 L475.00,261.00 L475.50,261.00 L476.00,261.00 L476.50,261.00 L477.00,261.00 L477.50,261.00 L478.00,261.00 L478.50,261.00 L479.00,261.00 L479.50,261.00 L480.00,261.00 L480.50,261.00 L481.00,261.00 L481.50,261.00 L482.00,261.00 L482.50,261.00 L483.00,261.00 L483.50,261.00 L484.00,261.00 L484.50,261.00 L485.00,261.00 L485.50,261.00 L486.00,261.00 L486.50,261.00 L487.00,261.00 L487.50,261.00 L488.00,261.00 L488.50,261.00 L489.00,261.00 L489.50,261.00 L490.00,261.00 L490.50,261.00 L491.00,261.00 L491.50,261.00 L492.00,261.00 L492.50,261.00 L493.00,261.00 L493.50,261.00 L494.00,261.00 L494.50,261.00 L495.00,261.00 L495.50,261.00 L496.00,261.00 L496.50,261.00 L497.00,261.00 L497.50,261.00 L498.00,261.00 L498.50,261.00 L499.00,261.00 L499.50,261.00 L500.00,261.00 L500.50,261.00 L501.00,261.00 L501.50,261.00 L502.00,261.00 L502.50,261.00 L503.00,261.00 L503.50,261.00 L504.00,261.00 L504.50,261.00 L505.00,261.00 L505.50,261.00 L506.00,261.00 L506.50,261.00 L507.00,261.00 L507.50,261.00 L508.00,261.00 L508.50,261.00 L509.00,261.00 L509.50,261.00 L510.00,261.00 L510.50,261.00 L511.00,261.00 L511.50,261.00 L512.00,261.00 L512.50,261.00 L513.00,261.00 L513.50,261.00 L514.00,261.00 L514.50,261.00 L515.00,261.00 L515.50,261.00 L516.00,261.00 L516.50,261.00 L517.00,261.00 L517.50,261.00 L518.00,261.00 L518.50,261.00 L519.00,261.00 L519.50,261.00 L520.00,261.00 L520.50,261.00 L521.00,261.00 L521.50,261.00 L522.00,261.00 L522.50,261.00 L523.00,261.00 L523.50,261.00 L524.00,261.00 L524.50,261.00 L525.00,261.00 L525.50,261.00 L526.00,261.00 L526.50,261.00 L527.00,261.00 L527.50,261.00 L528.00,261.00 L528.50,261.00 L529.00,261.00 L529.50,261.00 L530.00,261.00 L530.50,261.00 L531.00,261.00 L531.50,261.00 L532.00,261.00" fill="none" stroke="#1db84a" stroke-width="1.6" stroke-linejoin="round"/>
<path d="M425.50,154.80 H532.70 V261.00" fill="none" stroke="#444" stroke-width="1.1"/>
<path d="M425.50,154.80 V261.00 H532.70" fill="none" stroke="#555" stroke-width="1.5"/>
<path d="M426.00,260.70 H532.20" fill="none" stroke="#2b2ba3" stroke-width="1.2"/>
<path d="M425.50,261.00h-2.6 M425.50,255.93h-1.3 M425.50,250.86h-1.3 M425.50,245.79h-1.3 M425.50,240.72h-2.6 M425.50,235.65h-1.3 M425.50,230.58h-1.3 M425.50,225.51h-1.3 M425.50,220.44h-2.6 M425.50,215.37h-1.3 M425.50,210.30h-1.3 M425.50,205.23h-1.3 M425.50,200.16h-2.6 M425.50,195.09h-1.3 M425.50,190.02h-1.3 M425.50,184.95h-1.3 M425.50,179.88h-2.6 M425.50,174.81h-1.3 M425.50,169.74h-1.3 M425.50,164.67h-1.3 M425.50,159.60h-2.6" stroke="#111" stroke-width="0.9"/>
<text x="0" y="0" transform="matrix(1.05,0,0,1,420.20,258.90)" font-size="6.6" text-anchor="end" font-family="Liberation Sans" font-weight="bold">0</text>
<text x="0" y="0" transform="matrix(1.05,0,0,1,420.20,243.12)" font-size="6.6" text-anchor="end" font-family="Liberation Sans" font-weight="bold">20</text>
<text x="0" y="0" transform="matrix(1.05,0,0,1,420.20,222.84)" font-size="6.6" text-anchor="end" font-family="Liberation Sans" font-weight="bold">40</text>
<text x="0" y="0" transform="matrix(1.05,0,0,1,420.20,202.56)" font-size="6.6" text-anchor="end" font-family="Liberation Sans" font-weight="bold">60</text>
<text x="0" y="0" transform="matrix(1.05,0,0,1,420.20,182.28)" font-size="6.6" text-anchor="end" font-family="Liberation Sans" font-weight="bold">80</text>
<text x="0" y="0" transform="matrix(1.05,0,0,1,420.20,162.00)" font-size="6.6" text-anchor="end" font-family="Liberation Sans" font-weight="bold">100</text>
<text x="0" y="0" transform="matrix(1.05,0,0,1,529.40,169.30)" font-size="11.8" text-anchor="end" font-family="Liberation Sans" font-weight="bold">TW MLC</text>
<rect x="422.50" y="259.50" width="3.5" height="2.6" fill="#111"/>
<path d="M450.13,261.00v2.2 M446.50,261.00v2.2 M452.06,261.00v2.2 M444.80,261.00v2.2 M453.99,261.00v2.2 M443.10,261.00v2.2 M455.92,261.00v2.2 M441.40,261.00v2.2 M457.85,261.00v2.2 M439.70,261.00v2.2 M459.78,261.00v2.2 M438.00,261.00v2.2 M461.71,261.00v2.2 M436.30,261.00v2.2 M463.64,261.00v2.2 M434.60,261.00v2.2 M465.57,261.00v2.2 M432.90,261.00v2.2 M476.56,261.00v2.2 M481.86,261.00v2.2 M485.62,261.00v2.2 M488.54,261.00v2.2 M490.92,261.00v2.2 M492.94,261.00v2.2 M494.68,261.00v2.2 M496.22,261.00v2.2 M504.52,261.00v2.2 M508.57,261.00v2.2 M511.45,261.00v2.2 M513.68,261.00v2.2 M515.50,261.00v2.2 M517.04,261.00v2.2 M518.37,261.00v2.2 M519.55,261.00v2.2 M527.52,261.00v2.2 M431.20,261.00v4 M467.50,261.00v4 M497.60,261.00v4 M520.60,261.00v4" stroke="#111" stroke-width="0.8"/>
<rect x="446.40" y="261.00" width="3.6" height="3.5" fill="#111"/>
<text x="0" y="0" transform="matrix(1.05,0,0,1,427.30,274.60)" font-size="6.2" font-family="Liberation Sans" font-weight="bold">-10<tspan dy="-3.2" font-size="5.6">3</tspan></text>
<text x="0" y="0" transform="matrix(1.05,0,0,1,448.00,274.60)" font-size="6.2" text-anchor="middle" font-family="Liberation Sans" font-weight="bold">0</text>
<text x="0" y="0" transform="matrix(1.05,0,0,1,465.40,274.60)" font-size="6.2" font-family="Liberation Sans" font-weight="bold">10<tspan dy="-3.2" font-size="5.6">3</tspan></text>
<text x="0" y="0" transform="matrix(1.05,0,0,1,497.50,274.60)" font-size="6.2" font-family="Liberation Sans" font-weight="bold">10<tspan dy="-3.2" font-size="5.6">4</tspan></text>
<text x="0" y="0" transform="matrix(1.05,0,0,1,519.30,274.60)" font-size="6.2" font-family="Liberation Sans" font-weight="bold">10<tspan dy="-3.2" font-size="5.6">5</tspan></text>
<path d="M30.70,125.80 V171.00 H81.00" fill="none" stroke="#111" stroke-width="2.0"/>
<path d="M30.70,120.80 L27.40,127.80 L30.70,126.30 L34.00,127.80 Z" fill="#111"/>
<path d="M86.00,171.00 L79.00,167.70 L80.50,171.00 L79.00,174.30 Z" fill="#111"/>
<path d="M33.00,316.50 V361.50 H82.50" fill="none" stroke="#111" stroke-width="2.0"/>
<path d="M33.00,311.50 L29.70,318.50 L33.00,317.00 L36.30,318.50 Z" fill="#111"/>
<path d="M87.50,361.50 L80.50,358.20 L82.00,361.50 L80.50,364.80 Z" fill="#111"/>
<path d="M406.20,238.50 V285.40 H453.80" fill="none" stroke="#111" stroke-width="2.0"/>
<path d="M406.20,233.50 L402.90,240.50 L406.20,239.00 L409.50,240.50 Z" fill="#111"/>
<path d="M458.80,285.40 L451.80,282.10 L453.30,285.40 L451.80,288.70 Z" fill="#111"/>
<text x="0" y="0" font-size="13.5" text-anchor="middle" font-family="Liberation Sans" font-weight="bold" transform="translate(22.00,114.50) scale(1.12,1) rotate(-90)">CD25</text>
<text x="0" y="0" font-size="13.5" text-anchor="middle" font-family="Liberation Sans" font-weight="bold" transform="translate(24.00,300.50) scale(1.12,1) rotate(-90)">TNFRII</text>
<text x="0" y="0" font-size="14.5" text-anchor="middle" font-family="Liberation Sans" font-weight="bold" transform="translate(399.30,215.20) scale(1.12,1) rotate(-90)">% of Max</text>
<text x="0" y="0" transform="matrix(1.05,0,0,1,75.40,186.00)" font-size="14.3" text-anchor="start" font-family="Liberation Sans" font-weight="bold" >CTLA-4</text>
<text x="0" y="0" transform="matrix(1.05,0,0,1,77.50,378.80)" font-size="14.3" text-anchor="start" font-family="Liberation Sans" font-weight="bold" >PD-1</text>
<text x="0" y="0" transform="matrix(1.05,0,0,1,449.00,300.20)" font-size="13.0" text-anchor="start" font-family="Liberation Sans" font-weight="bold" >CD11a</text>
<rect x="403.3" y="311.0" width="24.6" height="8.4" fill="#d89898" stroke="#e51c23" stroke-width="1.5"/>
<rect x="403.3" y="326.4" width="24.6" height="8.0" fill="none" stroke="#2b2ba3" stroke-width="1.5"/>
<rect x="403.3" y="342.2" width="24.6" height="8.4" fill="none" stroke="#1db84a" stroke-width="1.5"/>
<text x="0" y="0" font-size="10.6" font-family="Liberation Sans" font-weight="bold" transform="translate(432.6,319.6)">HLA-DR+ resp T cells</text>
<text x="0" y="0" font-size="10.6" font-family="Liberation Sans" font-weight="bold" transform="translate(432.6,335.0)">HLA-DR- resp T cells</text>
<text x="0" y="0" font-size="10.6" font-family="Liberation Sans" font-weight="bold" transform="translate(432.6,351.0)">Isotype ctrl</text>
</svg></body></html>
